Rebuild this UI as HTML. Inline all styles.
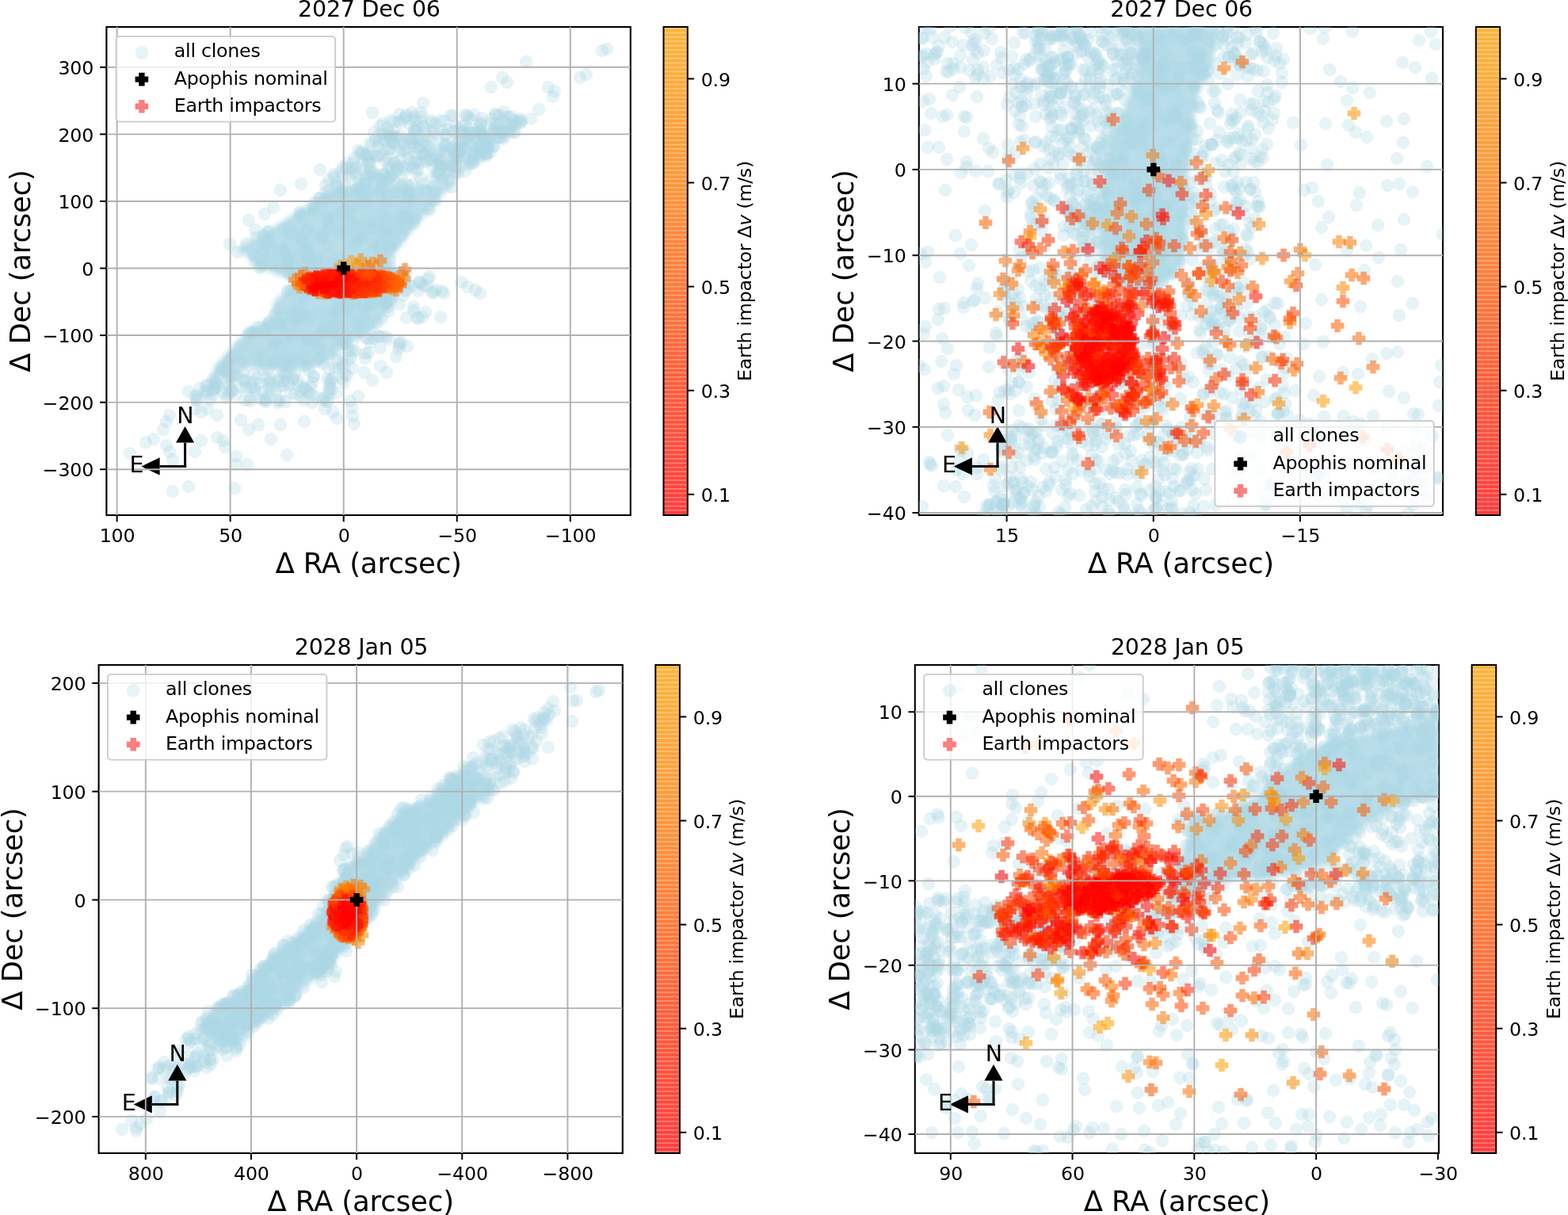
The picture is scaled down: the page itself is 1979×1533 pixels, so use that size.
<!DOCTYPE html><html><head><meta charset="utf-8"><style>html,body{margin:0;padding:0;background:#fff;overflow:hidden}svg{display:block}text{font-family:'DejaVu Sans', 'Liberation Sans', sans-serif;fill:#000}.b circle{r:8.2px;fill:#add8e6;fill-opacity:.3}</style></head><body><svg xmlns="http://www.w3.org/2000/svg" width="1979" height="1533" viewBox="0 0 1979 1533"><rect width="1979" height="1533" fill="#fff"/><defs><filter id="bl3" x="-10%" y="-10%" width="120%" height="120%"><feGaussianBlur stdDeviation="3"/></filter><linearGradient id="cg" x1="0" y1="1" x2="0" y2="0"><stop offset="0.000" stop-color="rgb(255,61,60)"/><stop offset="0.255" stop-color="rgb(253,91,60)"/><stop offset="0.469" stop-color="rgb(253,123,60)"/><stop offset="0.682" stop-color="rgb(252,151,60)"/><stop offset="0.895" stop-color="rgb(251,172,60)"/><stop offset="1.000" stop-color="rgb(251,181,60)"/></linearGradient><pattern id="st" width="10" height="5.43" patternUnits="userSpaceOnUse" y="2.5"><rect y="0" width="10" height="1.4" fill="#fff" fill-opacity="0.38"/></pattern><path id="pl" d="M-3.7-8.3h7.4v4.6h4.6v7.4h-4.6v4.6h-7.4v-4.6h-4.6v-7.4h4.6z"/><clipPath id="cp1"><rect x="134.4" y="34.0" width="661.4" height="616.0"/></clipPath><clipPath id="cp2"><rect x="1159.8" y="34.0" width="661.2" height="616.0"/></clipPath><clipPath id="cp3"><rect x="124.6" y="839.0" width="661.2" height="616.0"/></clipPath><clipPath id="cp4"><rect x="1154.8" y="839.0" width="661.1" height="616.0"/></clipPath></defs><rect x="134.4" y="34.0" width="661.4" height="616.0" fill="none" stroke="#000" stroke-width="2.1"/><g clip-path="url(#cp1)"><path d="M298 314L334 294L364 274L394 254L430 234L470 234L540 234L576 230L560 245L540 268L520 292L500 318L490 334L512 346L500 376L484 400L470 420L434 424L424 452L394 464L354 468L314 464L266 480L270 464L290 440L314 416L342 400L346 380L366 360L370 354L326 338L314 326Z" fill="#add8e6" fill-opacity="0.85" filter="url(#bl3)"/><g class="b"><circle cx="435" cy="264"/><circle cx="468" cy="432"/><circle cx="322" cy="492"/><circle cx="528" cy="204"/><circle cx="469" cy="384"/><circle cx="457" cy="205"/><circle cx="403" cy="397"/><circle cx="184" cy="558"/><circle cx="440" cy="296"/><circle cx="587" cy="216"/><circle cx="462" cy="230"/><circle cx="438" cy="429"/><circle cx="476" cy="198"/><circle cx="534" cy="361"/><circle cx="430" cy="261"/><circle cx="346" cy="458"/><circle cx="515" cy="246"/><circle cx="482" cy="402"/><circle cx="437" cy="359"/><circle cx="611" cy="172"/><circle cx="413" cy="282"/><circle cx="564" cy="195"/><circle cx="459" cy="361"/><circle cx="366" cy="295"/><circle cx="522" cy="387"/><circle cx="589" cy="146"/><circle cx="512" cy="352"/><circle cx="447" cy="382"/><circle cx="487" cy="382"/><circle cx="455" cy="194"/><circle cx="384" cy="505"/><circle cx="350" cy="316"/><circle cx="576" cy="199"/><circle cx="384" cy="532"/><circle cx="214" cy="570"/><circle cx="545" cy="178"/><circle cx="608" cy="149"/><circle cx="515" cy="175"/><circle cx="353" cy="506"/><circle cx="505" cy="201"/><circle cx="508" cy="342"/><circle cx="490" cy="387"/><circle cx="435" cy="431"/><circle cx="412" cy="273"/><circle cx="457" cy="415"/><circle cx="467" cy="291"/><circle cx="514" cy="273"/><circle cx="552" cy="207"/><circle cx="361" cy="329"/><circle cx="363" cy="482"/><circle cx="556" cy="206"/><circle cx="415" cy="465"/><circle cx="395" cy="428"/><circle cx="332" cy="455"/><circle cx="336" cy="504"/><circle cx="327" cy="484"/><circle cx="373" cy="452"/><circle cx="600" cy="366"/><circle cx="489" cy="161"/><circle cx="438" cy="474"/><circle cx="486" cy="383"/><circle cx="599" cy="173"/><circle cx="461" cy="331"/><circle cx="577" cy="187"/><circle cx="368" cy="462"/><circle cx="545" cy="369"/><circle cx="648" cy="167"/><circle cx="498" cy="363"/><circle cx="606" cy="187"/><circle cx="575" cy="209"/><circle cx="642" cy="156"/><circle cx="480" cy="246"/><circle cx="513" cy="274"/><circle cx="606" cy="197"/><circle cx="372" cy="393"/><circle cx="379" cy="301"/><circle cx="551" cy="201"/><circle cx="427" cy="296"/><circle cx="442" cy="313"/><circle cx="376" cy="385"/><circle cx="609" cy="184"/><circle cx="414" cy="249"/><circle cx="561" cy="210"/><circle cx="590" cy="362"/><circle cx="352" cy="437"/><circle cx="509" cy="182"/><circle cx="531" cy="142"/><circle cx="568" cy="216"/><circle cx="598" cy="145"/><circle cx="337" cy="305"/><circle cx="344" cy="456"/><circle cx="597" cy="205"/><circle cx="391" cy="349"/><circle cx="446" cy="335"/><circle cx="490" cy="341"/><circle cx="352" cy="504"/><circle cx="490" cy="393"/><circle cx="617" cy="175"/><circle cx="463" cy="223"/><circle cx="576" cy="194"/><circle cx="415" cy="347"/><circle cx="537" cy="167"/><circle cx="246" cy="500"/><circle cx="338" cy="466"/><circle cx="496" cy="179"/><circle cx="383" cy="365"/><circle cx="450" cy="286"/><circle cx="513" cy="145"/><circle cx="464" cy="362"/><circle cx="384" cy="425"/><circle cx="298" cy="586"/><circle cx="331" cy="329"/><circle cx="454" cy="237"/><circle cx="547" cy="164"/><circle cx="452" cy="356"/><circle cx="441" cy="351"/><circle cx="292" cy="451"/><circle cx="558" cy="367"/><circle cx="584" cy="167"/><circle cx="403" cy="250"/><circle cx="478" cy="371"/><circle cx="649" cy="152"/><circle cx="533" cy="195"/><circle cx="272" cy="484"/><circle cx="561" cy="190"/><circle cx="416" cy="485"/><circle cx="519" cy="180"/><circle cx="534" cy="159"/><circle cx="288" cy="477"/><circle cx="550" cy="253"/><circle cx="540" cy="184"/><circle cx="340" cy="406"/><circle cx="261" cy="486"/><circle cx="445" cy="525"/><circle cx="430" cy="359"/><circle cx="497" cy="154"/><circle cx="388" cy="397"/><circle cx="644" cy="164"/><circle cx="381" cy="396"/><circle cx="301" cy="453"/><circle cx="479" cy="225"/><circle cx="470" cy="223"/><circle cx="380" cy="232"/><circle cx="624" cy="164"/><circle cx="614" cy="188"/><circle cx="629" cy="157"/><circle cx="339" cy="292"/><circle cx="478" cy="424"/><circle cx="254" cy="556"/><circle cx="388" cy="441"/><circle cx="586" cy="185"/><circle cx="485" cy="295"/><circle cx="650" cy="158"/><circle cx="529" cy="356"/><circle cx="370" cy="427"/><circle cx="333" cy="298"/><circle cx="535" cy="195"/><circle cx="460" cy="326"/><circle cx="628" cy="163"/><circle cx="626" cy="145"/><circle cx="347" cy="397"/><circle cx="451" cy="303"/><circle cx="468" cy="213"/><circle cx="573" cy="166"/><circle cx="293" cy="481"/><circle cx="364" cy="472"/><circle cx="445" cy="404"/><circle cx="568" cy="228"/><circle cx="210" cy="532"/><circle cx="288" cy="497"/><circle cx="527" cy="161"/><circle cx="443" cy="263"/><circle cx="522" cy="212"/><circle cx="467" cy="217"/><circle cx="453" cy="259"/><circle cx="305" cy="489"/><circle cx="427" cy="244"/><circle cx="481" cy="195"/><circle cx="515" cy="200"/><circle cx="460" cy="344"/><circle cx="519" cy="150"/><circle cx="406" cy="255"/><circle cx="618" cy="180"/><circle cx="538" cy="204"/><circle cx="335" cy="417"/><circle cx="563" cy="182"/><circle cx="625" cy="168"/><circle cx="559" cy="181"/><circle cx="532" cy="205"/><circle cx="492" cy="327"/><circle cx="448" cy="443"/><circle cx="599" cy="194"/><circle cx="381" cy="343"/><circle cx="556" cy="152"/><circle cx="509" cy="347"/><circle cx="334" cy="421"/><circle cx="504" cy="283"/><circle cx="574" cy="216"/><circle cx="637" cy="165"/><circle cx="606" cy="156"/><circle cx="379" cy="284"/><circle cx="501" cy="216"/><circle cx="268" cy="483"/><circle cx="378" cy="402"/><circle cx="505" cy="354"/><circle cx="293" cy="492"/><circle cx="525" cy="165"/><circle cx="364" cy="287"/><circle cx="487" cy="275"/><circle cx="354" cy="240"/><circle cx="358" cy="314"/><circle cx="516" cy="208"/><circle cx="732" cy="98"/><circle cx="552" cy="224"/><circle cx="437" cy="422"/><circle cx="467" cy="221"/><circle cx="339" cy="409"/><circle cx="477" cy="289"/><circle cx="420" cy="520"/><circle cx="364" cy="330"/><circle cx="289" cy="456"/><circle cx="292" cy="472"/><circle cx="478" cy="305"/><circle cx="322" cy="331"/><circle cx="434" cy="370"/><circle cx="546" cy="209"/><circle cx="499" cy="173"/><circle cx="539" cy="361"/><circle cx="456" cy="300"/><circle cx="314" cy="542"/><circle cx="522" cy="392"/><circle cx="259" cy="493"/><circle cx="408" cy="505"/><circle cx="504" cy="185"/><circle cx="280" cy="463"/><circle cx="692" cy="110"/><circle cx="664" cy="78"/><circle cx="432" cy="221"/><circle cx="367" cy="347"/><circle cx="521" cy="233"/><circle cx="577" cy="191"/><circle cx="460" cy="353"/><circle cx="434" cy="452"/><circle cx="430" cy="217"/><circle cx="268" cy="492"/><circle cx="315" cy="419"/><circle cx="265" cy="504"/><circle cx="310" cy="481"/><circle cx="491" cy="168"/><circle cx="593" cy="195"/><circle cx="440" cy="353"/><circle cx="603" cy="195"/><circle cx="352" cy="390"/><circle cx="403" cy="362"/><circle cx="574" cy="191"/><circle cx="518" cy="159"/><circle cx="454" cy="227"/><circle cx="528" cy="178"/><circle cx="591" cy="148"/><circle cx="429" cy="361"/><circle cx="403" cy="441"/><circle cx="459" cy="402"/><circle cx="464" cy="195"/><circle cx="513" cy="401"/><circle cx="346" cy="436"/><circle cx="389" cy="319"/><circle cx="590" cy="180"/><circle cx="498" cy="243"/><circle cx="360" cy="451"/><circle cx="370" cy="479"/><circle cx="612" cy="194"/><circle cx="513" cy="189"/><circle cx="386" cy="313"/><circle cx="562" cy="184"/><circle cx="543" cy="201"/><circle cx="525" cy="218"/><circle cx="468" cy="197"/><circle cx="478" cy="360"/><circle cx="388" cy="428"/><circle cx="269" cy="498"/><circle cx="636" cy="141"/><circle cx="470" cy="307"/><circle cx="448" cy="241"/><circle cx="426" cy="338"/><circle cx="331" cy="504"/><circle cx="517" cy="249"/><circle cx="291" cy="476"/><circle cx="652" cy="154"/><circle cx="582" cy="210"/><circle cx="467" cy="245"/><circle cx="408" cy="300"/><circle cx="308" cy="481"/><circle cx="272" cy="481"/><circle cx="494" cy="375"/><circle cx="477" cy="185"/><circle cx="340" cy="412"/><circle cx="445" cy="465"/><circle cx="424" cy="427"/><circle cx="504" cy="433"/><circle cx="271" cy="489"/><circle cx="497" cy="205"/><circle cx="638" cy="147"/><circle cx="504" cy="384"/><circle cx="623" cy="184"/><circle cx="560" cy="370"/><circle cx="463" cy="199"/><circle cx="331" cy="443"/><circle cx="494" cy="222"/><circle cx="474" cy="266"/><circle cx="528" cy="367"/><circle cx="397" cy="263"/><circle cx="549" cy="156"/><circle cx="514" cy="437"/><circle cx="613" cy="174"/><circle cx="578" cy="218"/><circle cx="477" cy="424"/><circle cx="562" cy="192"/><circle cx="670" cy="150"/><circle cx="452" cy="500"/><circle cx="551" cy="198"/><circle cx="486" cy="220"/><circle cx="411" cy="243"/><circle cx="571" cy="146"/><circle cx="357" cy="487"/><circle cx="379" cy="500"/><circle cx="322" cy="498"/><circle cx="296" cy="449"/><circle cx="517" cy="246"/><circle cx="598" cy="168"/><circle cx="504" cy="436"/><circle cx="580" cy="165"/><circle cx="447" cy="535"/><circle cx="442" cy="267"/><circle cx="378" cy="268"/><circle cx="406" cy="370"/><circle cx="554" cy="204"/><circle cx="529" cy="356"/><circle cx="606" cy="169"/><circle cx="557" cy="209"/><circle cx="440" cy="223"/><circle cx="399" cy="349"/><circle cx="423" cy="441"/><circle cx="487" cy="425"/><circle cx="565" cy="213"/><circle cx="332" cy="466"/><circle cx="367" cy="423"/><circle cx="511" cy="262"/><circle cx="384" cy="378"/><circle cx="350" cy="508"/><circle cx="312" cy="586"/><circle cx="555" cy="219"/><circle cx="531" cy="182"/><circle cx="591" cy="168"/><circle cx="387" cy="321"/><circle cx="482" cy="425"/><circle cx="397" cy="256"/><circle cx="392" cy="327"/><circle cx="382" cy="350"/><circle cx="565" cy="163"/><circle cx="361" cy="474"/><circle cx="411" cy="234"/><circle cx="355" cy="454"/><circle cx="394" cy="498"/><circle cx="499" cy="306"/><circle cx="492" cy="173"/><circle cx="483" cy="226"/><circle cx="441" cy="345"/><circle cx="447" cy="200"/><circle cx="437" cy="290"/><circle cx="342" cy="305"/><circle cx="582" cy="190"/><circle cx="276" cy="487"/><circle cx="385" cy="462"/><circle cx="584" cy="176"/><circle cx="491" cy="308"/><circle cx="514" cy="282"/><circle cx="489" cy="199"/><circle cx="274" cy="484"/><circle cx="607" cy="165"/><circle cx="509" cy="210"/><circle cx="466" cy="205"/><circle cx="483" cy="156"/><circle cx="532" cy="358"/><circle cx="562" cy="170"/><circle cx="616" cy="187"/><circle cx="383" cy="489"/><circle cx="409" cy="421"/><circle cx="308" cy="456"/><circle cx="246" cy="516"/><circle cx="503" cy="365"/><circle cx="474" cy="197"/><circle cx="461" cy="194"/><circle cx="261" cy="487"/><circle cx="636" cy="172"/><circle cx="286" cy="502"/><circle cx="359" cy="400"/><circle cx="631" cy="174"/><circle cx="491" cy="351"/><circle cx="388" cy="461"/><circle cx="484" cy="230"/><circle cx="465" cy="445"/><circle cx="297" cy="498"/><circle cx="274" cy="524"/><circle cx="560" cy="153"/><circle cx="506" cy="178"/><circle cx="528" cy="187"/><circle cx="444" cy="280"/><circle cx="485" cy="221"/><circle cx="433" cy="211"/><circle cx="484" cy="175"/><circle cx="610" cy="171"/><circle cx="634" cy="150"/><circle cx="556" cy="212"/><circle cx="274" cy="552"/><circle cx="509" cy="218"/><circle cx="577" cy="211"/><circle cx="478" cy="280"/><circle cx="597" cy="184"/><circle cx="483" cy="170"/><circle cx="547" cy="252"/><circle cx="379" cy="271"/><circle cx="326" cy="536"/><circle cx="544" cy="152"/><circle cx="587" cy="145"/><circle cx="493" cy="174"/><circle cx="437" cy="388"/><circle cx="457" cy="303"/><circle cx="551" cy="218"/><circle cx="372" cy="497"/><circle cx="575" cy="199"/><circle cx="249" cy="505"/><circle cx="363" cy="325"/><circle cx="404" cy="214"/><circle cx="637" cy="155"/><circle cx="511" cy="289"/><circle cx="400" cy="456"/><circle cx="630" cy="145"/><circle cx="472" cy="314"/><circle cx="487" cy="188"/><circle cx="515" cy="359"/><circle cx="614" cy="197"/><circle cx="432" cy="459"/><circle cx="591" cy="163"/><circle cx="331" cy="316"/><circle cx="475" cy="228"/><circle cx="441" cy="442"/><circle cx="478" cy="233"/><circle cx="351" cy="478"/><circle cx="518" cy="175"/><circle cx="430" cy="339"/><circle cx="582" cy="159"/><circle cx="494" cy="214"/><circle cx="470" cy="480"/><circle cx="273" cy="489"/><circle cx="415" cy="227"/><circle cx="357" cy="316"/><circle cx="367" cy="396"/><circle cx="698" cy="122"/><circle cx="381" cy="301"/><circle cx="299" cy="473"/><circle cx="557" cy="164"/><circle cx="439" cy="342"/><circle cx="459" cy="256"/><circle cx="396" cy="475"/><circle cx="218" cy="620"/><circle cx="393" cy="338"/><circle cx="495" cy="171"/><circle cx="328" cy="338"/><circle cx="490" cy="229"/><circle cx="534" cy="160"/><circle cx="436" cy="249"/><circle cx="338" cy="499"/><circle cx="432" cy="435"/><circle cx="401" cy="340"/><circle cx="523" cy="165"/><circle cx="506" cy="249"/><circle cx="375" cy="355"/><circle cx="430" cy="245"/><circle cx="523" cy="147"/><circle cx="608" cy="170"/><circle cx="435" cy="372"/><circle cx="480" cy="439"/><circle cx="522" cy="282"/><circle cx="367" cy="496"/><circle cx="469" cy="370"/><circle cx="593" cy="205"/><circle cx="619" cy="192"/><circle cx="488" cy="254"/><circle cx="382" cy="272"/><circle cx="394" cy="508"/><circle cx="500" cy="291"/><circle cx="471" cy="231"/><circle cx="642" cy="162"/><circle cx="344" cy="431"/><circle cx="282" cy="496"/><circle cx="396" cy="263"/><circle cx="411" cy="409"/><circle cx="506" cy="155"/><circle cx="378" cy="374"/><circle cx="363" cy="409"/><circle cx="486" cy="373"/><circle cx="620" cy="150"/><circle cx="364" cy="461"/><circle cx="594" cy="182"/><circle cx="248" cy="499"/><circle cx="310" cy="489"/><circle cx="353" cy="408"/><circle cx="432" cy="478"/><circle cx="460" cy="470"/><circle cx="481" cy="240"/><circle cx="604" cy="201"/><circle cx="238" cy="614"/><circle cx="480" cy="321"/><circle cx="413" cy="478"/><circle cx="493" cy="312"/><circle cx="341" cy="478"/><circle cx="516" cy="177"/><circle cx="505" cy="171"/><circle cx="363" cy="308"/><circle cx="455" cy="289"/><circle cx="416" cy="250"/><circle cx="524" cy="152"/><circle cx="424" cy="496"/><circle cx="590" cy="187"/><circle cx="465" cy="428"/><circle cx="545" cy="172"/><circle cx="490" cy="347"/><circle cx="289" cy="487"/><circle cx="430" cy="270"/><circle cx="602" cy="177"/><circle cx="392" cy="488"/><circle cx="464" cy="361"/><circle cx="534" cy="177"/><circle cx="315" cy="422"/><circle cx="357" cy="481"/><circle cx="537" cy="394"/><circle cx="461" cy="232"/><circle cx="658" cy="152"/><circle cx="332" cy="297"/><circle cx="490" cy="313"/><circle cx="528" cy="402"/><circle cx="464" cy="206"/><circle cx="321" cy="322"/><circle cx="483" cy="178"/><circle cx="298" cy="576"/><circle cx="432" cy="428"/><circle cx="248" cy="504"/><circle cx="472" cy="427"/><circle cx="483" cy="236"/><circle cx="510" cy="214"/><circle cx="542" cy="265"/><circle cx="558" cy="227"/><circle cx="508" cy="271"/><circle cx="460" cy="279"/><circle cx="474" cy="176"/><circle cx="394" cy="483"/><circle cx="378" cy="346"/><circle cx="467" cy="180"/><circle cx="435" cy="233"/><circle cx="524" cy="194"/><circle cx="375" cy="401"/><circle cx="625" cy="144"/><circle cx="448" cy="423"/><circle cx="632" cy="167"/><circle cx="319" cy="482"/><circle cx="449" cy="388"/><circle cx="287" cy="481"/><circle cx="440" cy="424"/><circle cx="523" cy="206"/><circle cx="572" cy="208"/><circle cx="488" cy="470"/><circle cx="502" cy="209"/><circle cx="427" cy="390"/><circle cx="581" cy="180"/><circle cx="547" cy="168"/><circle cx="501" cy="214"/><circle cx="490" cy="347"/><circle cx="387" cy="454"/><circle cx="335" cy="307"/><circle cx="515" cy="193"/><circle cx="606" cy="370"/><circle cx="214" cy="524"/><circle cx="379" cy="321"/><circle cx="409" cy="418"/><circle cx="503" cy="153"/><circle cx="304" cy="436"/><circle cx="587" cy="158"/><circle cx="335" cy="478"/><circle cx="415" cy="288"/><circle cx="483" cy="368"/><circle cx="488" cy="226"/><circle cx="396" cy="475"/><circle cx="615" cy="176"/><circle cx="509" cy="150"/><circle cx="362" cy="574"/><circle cx="408" cy="459"/><circle cx="508" cy="236"/><circle cx="486" cy="279"/><circle cx="443" cy="273"/><circle cx="354" cy="409"/><circle cx="316" cy="489"/><circle cx="582" cy="167"/><circle cx="579" cy="189"/><circle cx="570" cy="236"/><circle cx="646" cy="160"/><circle cx="370" cy="477"/><circle cx="373" cy="470"/><circle cx="615" cy="194"/><circle cx="354" cy="487"/><circle cx="323" cy="300"/><circle cx="400" cy="501"/><circle cx="381" cy="429"/><circle cx="451" cy="420"/><circle cx="456" cy="419"/><circle cx="485" cy="230"/><circle cx="382" cy="333"/><circle cx="311" cy="308"/><circle cx="356" cy="412"/><circle cx="388" cy="290"/><circle cx="410" cy="516"/><circle cx="642" cy="148"/><circle cx="429" cy="379"/><circle cx="434" cy="248"/><circle cx="418" cy="481"/><circle cx="579" cy="192"/><circle cx="358" cy="461"/><circle cx="471" cy="382"/><circle cx="315" cy="503"/><circle cx="447" cy="309"/><circle cx="399" cy="328"/><circle cx="419" cy="364"/><circle cx="313" cy="423"/><circle cx="497" cy="228"/><circle cx="505" cy="354"/><circle cx="452" cy="190"/><circle cx="428" cy="421"/><circle cx="390" cy="405"/><circle cx="620" cy="156"/><circle cx="507" cy="275"/><circle cx="545" cy="202"/><circle cx="321" cy="472"/><circle cx="471" cy="372"/><circle cx="491" cy="207"/><circle cx="270" cy="491"/><circle cx="533" cy="400"/><circle cx="536" cy="193"/><circle cx="403" cy="453"/><circle cx="587" cy="169"/><circle cx="549" cy="194"/><circle cx="269" cy="478"/><circle cx="550" cy="366"/><circle cx="416" cy="285"/><circle cx="461" cy="232"/><circle cx="362" cy="428"/><circle cx="612" cy="188"/><circle cx="407" cy="416"/><circle cx="409" cy="502"/><circle cx="591" cy="172"/><circle cx="364" cy="440"/><circle cx="390" cy="468"/><circle cx="412" cy="507"/><circle cx="592" cy="167"/><circle cx="594" cy="150"/><circle cx="479" cy="311"/><circle cx="399" cy="322"/><circle cx="296" cy="616"/><circle cx="438" cy="391"/><circle cx="396" cy="267"/><circle cx="509" cy="190"/><circle cx="428" cy="465"/><circle cx="491" cy="428"/><circle cx="657" cy="155"/><circle cx="656" cy="150"/><circle cx="635" cy="175"/><circle cx="603" cy="163"/><circle cx="597" cy="206"/><circle cx="362" cy="320"/><circle cx="478" cy="170"/><circle cx="218" cy="580"/><circle cx="388" cy="314"/><circle cx="634" cy="167"/><circle cx="434" cy="430"/><circle cx="482" cy="360"/><circle cx="493" cy="223"/><circle cx="396" cy="266"/><circle cx="416" cy="490"/><circle cx="580" cy="177"/><circle cx="571" cy="202"/><circle cx="425" cy="392"/><circle cx="295" cy="474"/><circle cx="560" cy="224"/><circle cx="531" cy="153"/><circle cx="246" cy="570"/><circle cx="285" cy="468"/><circle cx="590" cy="174"/><circle cx="352" cy="481"/><circle cx="444" cy="213"/><circle cx="760" cy="64"/><circle cx="527" cy="214"/><circle cx="372" cy="347"/><circle cx="564" cy="208"/><circle cx="389" cy="496"/><circle cx="461" cy="342"/><circle cx="547" cy="369"/><circle cx="506" cy="432"/><circle cx="488" cy="170"/><circle cx="482" cy="354"/><circle cx="468" cy="281"/><circle cx="642" cy="167"/><circle cx="423" cy="377"/><circle cx="597" cy="194"/><circle cx="501" cy="175"/><circle cx="418" cy="371"/><circle cx="335" cy="505"/><circle cx="556" cy="201"/><circle cx="462" cy="252"/><circle cx="493" cy="379"/><circle cx="340" cy="489"/><circle cx="448" cy="347"/><circle cx="425" cy="528"/><circle cx="575" cy="159"/><circle cx="346" cy="330"/><circle cx="646" cy="147"/><circle cx="372" cy="404"/><circle cx="680" cy="138"/><circle cx="444" cy="514"/><circle cx="325" cy="477"/><circle cx="293" cy="494"/><circle cx="572" cy="178"/><circle cx="504" cy="144"/><circle cx="314" cy="278"/><circle cx="329" cy="336"/><circle cx="435" cy="472"/><circle cx="531" cy="225"/><circle cx="320" cy="489"/><circle cx="626" cy="174"/><circle cx="700" cy="115"/><circle cx="566" cy="226"/><circle cx="616" cy="185"/><circle cx="309" cy="479"/><circle cx="431" cy="241"/><circle cx="601" cy="167"/><circle cx="442" cy="506"/><circle cx="540" cy="352"/><circle cx="322" cy="290"/><circle cx="483" cy="219"/><circle cx="316" cy="506"/><circle cx="574" cy="191"/><circle cx="260" cy="494"/><circle cx="464" cy="386"/><circle cx="315" cy="438"/><circle cx="613" cy="169"/><circle cx="403" cy="440"/><circle cx="509" cy="373"/><circle cx="556" cy="400"/><circle cx="442" cy="366"/><circle cx="634" cy="167"/><circle cx="451" cy="238"/><circle cx="290" cy="308"/><circle cx="512" cy="367"/><circle cx="523" cy="165"/><circle cx="577" cy="180"/><circle cx="472" cy="219"/><circle cx="333" cy="317"/><circle cx="415" cy="493"/><circle cx="520" cy="142"/><circle cx="514" cy="365"/><circle cx="607" cy="183"/><circle cx="533" cy="147"/><circle cx="380" cy="494"/><circle cx="282" cy="556"/><circle cx="419" cy="491"/><circle cx="470" cy="142"/><circle cx="300" cy="318"/><circle cx="389" cy="327"/><circle cx="534" cy="130"/><circle cx="574" cy="220"/><circle cx="499" cy="359"/><circle cx="378" cy="453"/><circle cx="523" cy="186"/><circle cx="437" cy="357"/><circle cx="520" cy="361"/><circle cx="650" cy="167"/><circle cx="416" cy="240"/><circle cx="470" cy="289"/><circle cx="342" cy="554"/><circle cx="366" cy="326"/><circle cx="489" cy="225"/><circle cx="363" cy="367"/><circle cx="304" cy="530"/><circle cx="461" cy="394"/><circle cx="461" cy="446"/><circle cx="391" cy="401"/><circle cx="512" cy="232"/><circle cx="500" cy="450"/><circle cx="506" cy="354"/><circle cx="434" cy="483"/><circle cx="357" cy="470"/><circle cx="501" cy="213"/><circle cx="548" cy="240"/><circle cx="433" cy="333"/><circle cx="602" cy="176"/><circle cx="450" cy="220"/><circle cx="445" cy="442"/><circle cx="534" cy="179"/><circle cx="465" cy="409"/><circle cx="376" cy="485"/><circle cx="367" cy="293"/><circle cx="558" cy="225"/><circle cx="388" cy="290"/><circle cx="363" cy="336"/><circle cx="569" cy="146"/><circle cx="377" cy="395"/><circle cx="340" cy="483"/><circle cx="438" cy="213"/><circle cx="415" cy="498"/><circle cx="452" cy="231"/><circle cx="341" cy="481"/><circle cx="348" cy="493"/><circle cx="447" cy="205"/><circle cx="500" cy="353"/><circle cx="412" cy="333"/><circle cx="372" cy="336"/><circle cx="740" cy="94"/><circle cx="398" cy="295"/><circle cx="414" cy="309"/><circle cx="546" cy="224"/><circle cx="413" cy="275"/><circle cx="387" cy="493"/><circle cx="602" cy="189"/><circle cx="284" cy="564"/><circle cx="554" cy="219"/><circle cx="307" cy="470"/><circle cx="194" cy="554"/><circle cx="425" cy="235"/><circle cx="360" cy="507"/><circle cx="421" cy="396"/><circle cx="538" cy="194"/><circle cx="597" cy="202"/><circle cx="420" cy="477"/><circle cx="393" cy="334"/><circle cx="354" cy="536"/><circle cx="607" cy="155"/><circle cx="415" cy="413"/><circle cx="252" cy="490"/><circle cx="542" cy="191"/><circle cx="512" cy="148"/><circle cx="428" cy="408"/><circle cx="624" cy="161"/><circle cx="424" cy="230"/><circle cx="497" cy="181"/><circle cx="421" cy="275"/><circle cx="210" cy="562"/><circle cx="499" cy="366"/><circle cx="490" cy="248"/><circle cx="476" cy="407"/><circle cx="507" cy="233"/><circle cx="319" cy="419"/><circle cx="496" cy="348"/><circle cx="452" cy="301"/><circle cx="572" cy="165"/><circle cx="164" cy="572"/><circle cx="262" cy="516"/><circle cx="337" cy="293"/><circle cx="423" cy="420"/><circle cx="438" cy="211"/><circle cx="424" cy="235"/><circle cx="343" cy="320"/><circle cx="321" cy="420"/><circle cx="422" cy="329"/><circle cx="469" cy="183"/><circle cx="547" cy="235"/><circle cx="436" cy="386"/><circle cx="397" cy="431"/><circle cx="640" cy="104"/><circle cx="560" cy="170"/><circle cx="491" cy="212"/><circle cx="488" cy="297"/><circle cx="486" cy="372"/><circle cx="431" cy="327"/><circle cx="359" cy="471"/><circle cx="541" cy="263"/><circle cx="582" cy="356"/><circle cx="571" cy="187"/><circle cx="492" cy="337"/><circle cx="592" cy="208"/><circle cx="486" cy="289"/><circle cx="429" cy="290"/><circle cx="542" cy="349"/><circle cx="297" cy="474"/><circle cx="437" cy="434"/><circle cx="606" cy="184"/><circle cx="254" cy="520"/><circle cx="418" cy="420"/><circle cx="460" cy="385"/><circle cx="467" cy="204"/><circle cx="569" cy="210"/><circle cx="579" cy="198"/><circle cx="500" cy="277"/><circle cx="449" cy="426"/><circle cx="496" cy="165"/><circle cx="497" cy="361"/><circle cx="462" cy="426"/><circle cx="530" cy="172"/><circle cx="456" cy="191"/><circle cx="491" cy="189"/><circle cx="480" cy="376"/><circle cx="592" cy="201"/><circle cx="455" cy="245"/><circle cx="434" cy="361"/><circle cx="325" cy="450"/><circle cx="331" cy="494"/><circle cx="367" cy="367"/><circle cx="449" cy="211"/><circle cx="334" cy="270"/><circle cx="206" cy="542"/><circle cx="545" cy="187"/><circle cx="332" cy="333"/><circle cx="492" cy="188"/><circle cx="450" cy="247"/><circle cx="493" cy="174"/><circle cx="478" cy="179"/><circle cx="487" cy="264"/><circle cx="324" cy="454"/><circle cx="261" cy="497"/><circle cx="607" cy="158"/><circle cx="342" cy="493"/><circle cx="494" cy="290"/><circle cx="582" cy="191"/><circle cx="472" cy="167"/><circle cx="335" cy="507"/><circle cx="622" cy="168"/><circle cx="522" cy="253"/><circle cx="515" cy="234"/><circle cx="521" cy="180"/><circle cx="480" cy="159"/><circle cx="537" cy="240"/><circle cx="422" cy="224"/><circle cx="504" cy="359"/><circle cx="545" cy="155"/><circle cx="606" cy="193"/><circle cx="611" cy="173"/><circle cx="365" cy="457"/><circle cx="457" cy="214"/><circle cx="423" cy="464"/><circle cx="379" cy="314"/><circle cx="589" cy="200"/><circle cx="281" cy="467"/><circle cx="554" cy="214"/><circle cx="476" cy="226"/><circle cx="597" cy="199"/><circle cx="345" cy="262"/><circle cx="489" cy="368"/><circle cx="500" cy="231"/><circle cx="470" cy="217"/><circle cx="446" cy="216"/><circle cx="486" cy="203"/><circle cx="526" cy="401"/><circle cx="657" cy="154"/><circle cx="586" cy="165"/><circle cx="443" cy="219"/><circle cx="520" cy="210"/><circle cx="383" cy="372"/><circle cx="426" cy="455"/><circle cx="404" cy="250"/><circle cx="537" cy="200"/><circle cx="350" cy="336"/><circle cx="290" cy="494"/><circle cx="614" cy="182"/><circle cx="555" cy="191"/><circle cx="388" cy="305"/><circle cx="439" cy="438"/><circle cx="385" cy="490"/><circle cx="419" cy="393"/><circle cx="438" cy="206"/><circle cx="524" cy="276"/><circle cx="534" cy="232"/><circle cx="435" cy="434"/><circle cx="422" cy="401"/><circle cx="630" cy="173"/><circle cx="494" cy="221"/><circle cx="569" cy="209"/><circle cx="347" cy="452"/><circle cx="620" cy="110"/><circle cx="439" cy="455"/><circle cx="457" cy="193"/><circle cx="377" cy="481"/><circle cx="600" cy="168"/><circle cx="520" cy="174"/><circle cx="560" cy="186"/><circle cx="356" cy="289"/><circle cx="462" cy="197"/><circle cx="362" cy="342"/><circle cx="766" cy="62"/><circle cx="426" cy="411"/><circle cx="377" cy="411"/><circle cx="572" cy="199"/><circle cx="461" cy="220"/><circle cx="278" cy="471"/><circle cx="443" cy="451"/><circle cx="348" cy="430"/><circle cx="488" cy="383"/><circle cx="503" cy="440"/><circle cx="390" cy="430"/><circle cx="238" cy="494"/><circle cx="613" cy="194"/><circle cx="432" cy="356"/><circle cx="377" cy="298"/><circle cx="461" cy="452"/><circle cx="634" cy="98"/><circle cx="524" cy="203"/><circle cx="478" cy="196"/><circle cx="498" cy="206"/><circle cx="451" cy="409"/><circle cx="434" cy="464"/><circle cx="507" cy="297"/><circle cx="288" cy="457"/><circle cx="579" cy="201"/><circle cx="503" cy="191"/><circle cx="626" cy="157"/><circle cx="309" cy="505"/><circle cx="493" cy="179"/><circle cx="465" cy="239"/><circle cx="365" cy="486"/><circle cx="582" cy="186"/><circle cx="458" cy="231"/><circle cx="480" cy="462"/><circle cx="493" cy="152"/><circle cx="606" cy="191"/><circle cx="603" cy="186"/><circle cx="414" cy="506"/><circle cx="406" cy="299"/><circle cx="417" cy="479"/><circle cx="407" cy="296"/><circle cx="578" cy="196"/><circle cx="587" cy="175"/><circle cx="411" cy="251"/><circle cx="529" cy="186"/><circle cx="403" cy="423"/><circle cx="325" cy="413"/><circle cx="606" cy="165"/><circle cx="421" cy="220"/><circle cx="623" cy="185"/></g><g fill-opacity="0.55"><use href="#pl" x="464" y="363" fill="#ff2f00"/><use href="#pl" x="432" y="353" fill="#ff0d00"/><use href="#pl" x="412" y="354" fill="#ff0500"/><use href="#pl" x="397" y="357" fill="#ff0800"/><use href="#pl" x="438" y="368" fill="#ff2a00"/><use href="#pl" x="435" y="360" fill="#ff0000"/><use href="#pl" x="484" y="350" fill="#ff6100"/><use href="#pl" x="465" y="361" fill="#ff2b00"/><use href="#pl" x="402" y="369" fill="#ff7c00"/><use href="#pl" x="392" y="362" fill="#ff3100"/><use href="#pl" x="405" y="365" fill="#ff0400"/><use href="#pl" x="421" y="364" fill="#ff0100"/><use href="#pl" x="397" y="366" fill="#ff0100"/><use href="#pl" x="417" y="356" fill="#ff0400"/><use href="#pl" x="453" y="348" fill="#ff1d00"/><use href="#pl" x="444" y="358" fill="#ff1200"/><use href="#pl" x="475" y="353" fill="#ff3000"/><use href="#pl" x="492" y="356" fill="#ff4400"/><use href="#pl" x="391" y="354" fill="#ff1400"/><use href="#pl" x="492" y="352" fill="#ff5100"/><use href="#pl" x="469" y="360" fill="#ff2600"/><use href="#pl" x="498" y="361" fill="#ff7d00"/><use href="#pl" x="486" y="350" fill="#ff4000"/><use href="#pl" x="461" y="349" fill="#ff1d00"/><use href="#pl" x="403" y="354" fill="#ff0000"/><use href="#pl" x="417" y="353" fill="#ff0000"/><use href="#pl" x="490" y="351" fill="#ff5f00"/><use href="#pl" x="457" y="346" fill="#ff4300"/><use href="#pl" x="455" y="328" fill="#ff8600"/><use href="#pl" x="455" y="353" fill="#ff1200"/><use href="#pl" x="448" y="352" fill="#ff0900"/><use href="#pl" x="475" y="349" fill="#ff4300"/><use href="#pl" x="456" y="364" fill="#ff2700"/><use href="#pl" x="415" y="357" fill="#ff0300"/><use href="#pl" x="488" y="362" fill="#ff4e00"/><use href="#pl" x="491" y="357" fill="#ff3900"/><use href="#pl" x="430" y="348" fill="#ff0000"/><use href="#pl" x="477" y="366" fill="#ff5a00"/><use href="#pl" x="471" y="349" fill="#ff2d00"/><use href="#pl" x="442" y="353" fill="#ff1500"/><use href="#pl" x="460" y="354" fill="#ff2e00"/><use href="#pl" x="384" y="359" fill="#ff1800"/><use href="#pl" x="426" y="361" fill="#ff0700"/><use href="#pl" x="421" y="353" fill="#ff0000"/><use href="#pl" x="404" y="360" fill="#ff0100"/><use href="#pl" x="475" y="350" fill="#ff3600"/><use href="#pl" x="472" y="351" fill="#ff2c00"/><use href="#pl" x="501" y="358" fill="#ff6d00"/><use href="#pl" x="389" y="354" fill="#ff2800"/><use href="#pl" x="413" y="349" fill="#ff1300"/><use href="#pl" x="398" y="364" fill="#ff0800"/><use href="#pl" x="402" y="357" fill="#ff0000"/><use href="#pl" x="451" y="363" fill="#ff0b00"/><use href="#pl" x="452" y="368" fill="#ff3d00"/><use href="#pl" x="458" y="366" fill="#ff1100"/><use href="#pl" x="480" y="362" fill="#ff3700"/><use href="#pl" x="446" y="349" fill="#ff1000"/><use href="#pl" x="470" y="362" fill="#ff2800"/><use href="#pl" x="437" y="354" fill="#ff1900"/><use href="#pl" x="481" y="357" fill="#ff4700"/><use href="#pl" x="430" y="365" fill="#ff0000"/><use href="#pl" x="422" y="348" fill="#ff0000"/><use href="#pl" x="438" y="354" fill="#ff1500"/><use href="#pl" x="454" y="351" fill="#ff1c00"/><use href="#pl" x="478" y="359" fill="#ff3a00"/><use href="#pl" x="472" y="360" fill="#ff1c00"/><use href="#pl" x="430" y="368" fill="#ff2800"/><use href="#pl" x="452" y="368" fill="#ff3f00"/><use href="#pl" x="395" y="360" fill="#ff0000"/><use href="#pl" x="474" y="362" fill="#ff2400"/><use href="#pl" x="470" y="332" fill="#ff8500"/><use href="#pl" x="486" y="350" fill="#ff4300"/><use href="#pl" x="460" y="359" fill="#ff0b00"/><use href="#pl" x="495" y="352" fill="#ff5900"/><use href="#pl" x="403" y="356" fill="#ff0300"/><use href="#pl" x="397" y="353" fill="#ff0000"/><use href="#pl" x="501" y="354" fill="#ff7400"/><use href="#pl" x="434" y="364" fill="#ff0000"/><use href="#pl" x="393" y="363" fill="#ff1700"/><use href="#pl" x="468" y="356" fill="#ff2700"/><use href="#pl" x="479" y="353" fill="#ff3e00"/><use href="#pl" x="433" y="360" fill="#ff2700"/><use href="#pl" x="500" y="366" fill="#ff7b00"/><use href="#pl" x="430" y="367" fill="#ff0800"/><use href="#pl" x="391" y="352" fill="#ff1600"/><use href="#pl" x="471" y="365" fill="#ff3300"/><use href="#pl" x="382" y="358" fill="#ff2d00"/><use href="#pl" x="415" y="347" fill="#ff2c00"/><use href="#pl" x="432" y="368" fill="#ff1e00"/><use href="#pl" x="493" y="356" fill="#ff5500"/><use href="#pl" x="406" y="356" fill="#ff0000"/><use href="#pl" x="426" y="364" fill="#ff0000"/><use href="#pl" x="470" y="367" fill="#ff3d00"/><use href="#pl" x="477" y="365" fill="#ff4500"/><use href="#pl" x="429" y="346" fill="#ff1f00"/><use href="#pl" x="436" y="363" fill="#ff0c00"/><use href="#pl" x="438" y="352" fill="#ff0600"/><use href="#pl" x="485" y="357" fill="#ff2c00"/><use href="#pl" x="460" y="364" fill="#ff1900"/><use href="#pl" x="386" y="355" fill="#ff2200"/><use href="#pl" x="465" y="365" fill="#ff2200"/><use href="#pl" x="399" y="360" fill="#ff0000"/><use href="#pl" x="472" y="367" fill="#ff5f00"/><use href="#pl" x="423" y="360" fill="#ff0000"/><use href="#pl" x="417" y="359" fill="#ff0000"/><use href="#pl" x="392" y="356" fill="#ff0000"/><use href="#pl" x="493" y="360" fill="#ff5a00"/><use href="#pl" x="445" y="370" fill="#ff7300"/><use href="#pl" x="441" y="363" fill="#ff0400"/><use href="#pl" x="459" y="362" fill="#ff2300"/><use href="#pl" x="384" y="356" fill="#ff1700"/><use href="#pl" x="415" y="355" fill="#ff0a00"/><use href="#pl" x="410" y="351" fill="#ff0e00"/><use href="#pl" x="435" y="361" fill="#ff0e00"/><use href="#pl" x="417" y="356" fill="#ff0000"/><use href="#pl" x="452" y="369" fill="#ff6f00"/><use href="#pl" x="426" y="368" fill="#ff2700"/><use href="#pl" x="466" y="362" fill="#ff2b00"/><use href="#pl" x="372" y="353" fill="#ff7500"/><use href="#pl" x="407" y="361" fill="#ff0b00"/><use href="#pl" x="495" y="352" fill="#ff6600"/><use href="#pl" x="501" y="356" fill="#ff4d00"/><use href="#pl" x="417" y="349" fill="#ff0000"/><use href="#pl" x="447" y="354" fill="#ff0700"/><use href="#pl" x="434" y="359" fill="#ff1100"/><use href="#pl" x="457" y="364" fill="#ff3600"/><use href="#pl" x="410" y="359" fill="#ff0000"/><use href="#pl" x="420" y="364" fill="#ff0100"/><use href="#pl" x="433" y="361" fill="#ff0000"/><use href="#pl" x="390" y="355" fill="#ff1600"/><use href="#pl" x="416" y="364" fill="#ff0000"/><use href="#pl" x="457" y="364" fill="#ff2000"/><use href="#pl" x="408" y="352" fill="#ff0b00"/><use href="#pl" x="452" y="363" fill="#ff1300"/><use href="#pl" x="480" y="329" fill="#ff7100"/><use href="#pl" x="462" y="363" fill="#ff2700"/><use href="#pl" x="440" y="366" fill="#ff1c00"/><use href="#pl" x="425" y="362" fill="#ff0000"/><use href="#pl" x="497" y="361" fill="#ff6e00"/><use href="#pl" x="461" y="367" fill="#ff3b00"/><use href="#pl" x="422" y="362" fill="#ff0c00"/><use href="#pl" x="460" y="367" fill="#ff2200"/><use href="#pl" x="381" y="358" fill="#ff1400"/><use href="#pl" x="394" y="352" fill="#ff0700"/><use href="#pl" x="422" y="361" fill="#ff0000"/><use href="#pl" x="494" y="359" fill="#ff6100"/><use href="#pl" x="443" y="330" fill="#ff9a00"/><use href="#pl" x="456" y="359" fill="#ff2c00"/><use href="#pl" x="404" y="363" fill="#ff0800"/><use href="#pl" x="424" y="365" fill="#ff0500"/><use href="#pl" x="404" y="359" fill="#ff0000"/><use href="#pl" x="416" y="367" fill="#ff0900"/><use href="#pl" x="380" y="348" fill="#ff6900"/><use href="#pl" x="454" y="351" fill="#ff1600"/><use href="#pl" x="407" y="356" fill="#ff0000"/><use href="#pl" x="413" y="361" fill="#ff0a00"/><use href="#pl" x="482" y="353" fill="#ff2f00"/><use href="#pl" x="446" y="354" fill="#ff2800"/><use href="#pl" x="406" y="357" fill="#ff0000"/><use href="#pl" x="451" y="367" fill="#ff2300"/><use href="#pl" x="419" y="355" fill="#ff0000"/><use href="#pl" x="457" y="354" fill="#ff2200"/><use href="#pl" x="469" y="352" fill="#ff2700"/><use href="#pl" x="416" y="348" fill="#ff0d00"/><use href="#pl" x="502" y="358" fill="#ff7300"/><use href="#pl" x="481" y="355" fill="#ff3700"/><use href="#pl" x="441" y="358" fill="#ff0e00"/><use href="#pl" x="461" y="367" fill="#ff4b00"/><use href="#pl" x="481" y="355" fill="#ff4200"/><use href="#pl" x="425" y="359" fill="#ff0a00"/><use href="#pl" x="382" y="358" fill="#ff2b00"/><use href="#pl" x="511" y="340" fill="#ff6700"/><use href="#pl" x="456" y="351" fill="#ff1200"/><use href="#pl" x="420" y="350" fill="#ff0000"/><use href="#pl" x="502" y="358" fill="#ff8000"/><use href="#pl" x="409" y="367" fill="#ff2200"/><use href="#pl" x="463" y="348" fill="#ff2100"/><use href="#pl" x="428" y="360" fill="#ff0000"/><use href="#pl" x="415" y="360" fill="#ff0700"/><use href="#pl" x="476" y="362" fill="#ff2900"/><use href="#pl" x="420" y="364" fill="#ff0400"/><use href="#pl" x="388" y="361" fill="#ff2d00"/><use href="#pl" x="399" y="360" fill="#ff0000"/><use href="#pl" x="415" y="367" fill="#ff1b00"/><use href="#pl" x="419" y="349" fill="#ff0000"/><use href="#pl" x="455" y="356" fill="#ff0d00"/><use href="#pl" x="457" y="355" fill="#ff0f00"/><use href="#pl" x="428" y="348" fill="#ff0e00"/><use href="#pl" x="454" y="359" fill="#ff2800"/><use href="#pl" x="425" y="365" fill="#ff0000"/><use href="#pl" x="491" y="361" fill="#ff5600"/><use href="#pl" x="403" y="362" fill="#ff0700"/><use href="#pl" x="466" y="355" fill="#ff2200"/><use href="#pl" x="428" y="354" fill="#ff0800"/><use href="#pl" x="508" y="345" fill="#ff7100"/><use href="#pl" x="436" y="367" fill="#ff0400"/><use href="#pl" x="448" y="365" fill="#ff1000"/><use href="#pl" x="399" y="360" fill="#ff0000"/><use href="#pl" x="393" y="359" fill="#ff0000"/><use href="#pl" x="414" y="369" fill="#ff0300"/><use href="#pl" x="414" y="367" fill="#ff0300"/><use href="#pl" x="457" y="348" fill="#ff1f00"/><use href="#pl" x="460" y="355" fill="#ff1c00"/><use href="#pl" x="474" y="357" fill="#ff3900"/><use href="#pl" x="479" y="348" fill="#ff5600"/><use href="#pl" x="438" y="347" fill="#ff2500"/><use href="#pl" x="419" y="354" fill="#ff0000"/><use href="#pl" x="473" y="361" fill="#ff2900"/><use href="#pl" x="401" y="360" fill="#ff0000"/><use href="#pl" x="466" y="362" fill="#ff3200"/><use href="#pl" x="425" y="365" fill="#ff0000"/><use href="#pl" x="408" y="364" fill="#ff0300"/><use href="#pl" x="433" y="359" fill="#ff0000"/><use href="#pl" x="438" y="351" fill="#ff0a00"/><use href="#pl" x="461" y="368" fill="#ff4e00"/><use href="#pl" x="433" y="354" fill="#ff0d00"/><use href="#pl" x="483" y="361" fill="#ff3a00"/><use href="#pl" x="413" y="361" fill="#ff0400"/><use href="#pl" x="391" y="361" fill="#ff1200"/><use href="#pl" x="398" y="351" fill="#ff2000"/><use href="#pl" x="393" y="354" fill="#ff0000"/><use href="#pl" x="415" y="363" fill="#ff0700"/><use href="#pl" x="414" y="350" fill="#ff0000"/><use href="#pl" x="465" y="356" fill="#ff2a00"/><use href="#pl" x="419" y="349" fill="#ff0000"/><use href="#pl" x="439" y="358" fill="#ff0a00"/><use href="#pl" x="475" y="358" fill="#ff2e00"/><use href="#pl" x="408" y="364" fill="#ff0000"/><use href="#pl" x="472" y="348" fill="#ff5000"/><use href="#pl" x="397" y="365" fill="#ff0000"/><use href="#pl" x="376" y="358" fill="#ff7500"/><use href="#pl" x="449" y="360" fill="#ff0500"/><use href="#pl" x="482" y="357" fill="#ff4100"/><use href="#pl" x="454" y="348" fill="#ff2a00"/><use href="#pl" x="435" y="356" fill="#ff0500"/><use href="#pl" x="412" y="363" fill="#ff0000"/><use href="#pl" x="491" y="351" fill="#ff5a00"/><use href="#pl" x="469" y="354" fill="#ff3100"/><use href="#pl" x="420" y="351" fill="#ff0400"/><use href="#pl" x="444" y="348" fill="#ff1700"/><use href="#pl" x="420" y="363" fill="#ff0700"/><use href="#pl" x="457" y="363" fill="#ff3c00"/><use href="#pl" x="463" y="368" fill="#ff4000"/><use href="#pl" x="477" y="359" fill="#ff1c00"/><use href="#pl" x="473" y="351" fill="#ff2000"/><use href="#pl" x="403" y="354" fill="#ff0000"/><use href="#pl" x="484" y="356" fill="#ff3d00"/><use href="#pl" x="490" y="357" fill="#ff2e00"/><use href="#pl" x="470" y="355" fill="#ff2e00"/><use href="#pl" x="414" y="353" fill="#ff0000"/><use href="#pl" x="474" y="351" fill="#ff2e00"/><use href="#pl" x="448" y="369" fill="#ff3800"/><use href="#pl" x="410" y="356" fill="#ff0000"/><use href="#pl" x="454" y="365" fill="#ff1400"/><use href="#pl" x="422" y="367" fill="#ff3500"/><use href="#pl" x="412" y="355" fill="#ff0000"/><use href="#pl" x="391" y="353" fill="#ff1f00"/><use href="#pl" x="406" y="361" fill="#ff0000"/><use href="#pl" x="401" y="365" fill="#ff1500"/><use href="#pl" x="496" y="354" fill="#ff5300"/><use href="#pl" x="413" y="363" fill="#ff1b00"/><use href="#pl" x="437" y="355" fill="#ff0500"/><use href="#pl" x="496" y="356" fill="#ff5800"/><use href="#pl" x="469" y="347" fill="#ff3a00"/><use href="#pl" x="427" y="352" fill="#ff0b00"/><use href="#pl" x="471" y="367" fill="#ff3b00"/><use href="#pl" x="423" y="365" fill="#ff0000"/><use href="#pl" x="478" y="361" fill="#ff2c00"/><use href="#pl" x="388" y="359" fill="#ff1b00"/><use href="#pl" x="489" y="356" fill="#ff4800"/><use href="#pl" x="465" y="358" fill="#ff2500"/><use href="#pl" x="426" y="356" fill="#ff0700"/><use href="#pl" x="483" y="360" fill="#ff2a00"/><use href="#pl" x="414" y="362" fill="#ff0000"/><use href="#pl" x="410" y="361" fill="#ff0700"/><use href="#pl" x="462" y="355" fill="#ff1600"/><use href="#pl" x="439" y="353" fill="#ff1000"/><use href="#pl" x="427" y="360" fill="#ff0000"/><use href="#pl" x="495" y="364" fill="#ff8800"/><use href="#pl" x="439" y="352" fill="#ff0600"/><use href="#pl" x="461" y="359" fill="#ff1b00"/><use href="#pl" x="399" y="365" fill="#ff2500"/><use href="#pl" x="460" y="368" fill="#ff3e00"/><use href="#pl" x="470" y="368" fill="#ff9000"/><use href="#pl" x="434" y="356" fill="#ff0e00"/><use href="#pl" x="478" y="367" fill="#ff7900"/><use href="#pl" x="387" y="362" fill="#ff2f00"/><use href="#pl" x="419" y="357" fill="#ff0000"/><use href="#pl" x="453" y="359" fill="#ff0a00"/><use href="#pl" x="399" y="357" fill="#ff0000"/><use href="#pl" x="468" y="348" fill="#ff2900"/><use href="#pl" x="456" y="353" fill="#ff1900"/><use href="#pl" x="396" y="354" fill="#ff0000"/><use href="#pl" x="393" y="358" fill="#ff0000"/><use href="#pl" x="388" y="357" fill="#ff0b00"/><use href="#pl" x="485" y="359" fill="#ff2800"/><use href="#pl" x="463" y="355" fill="#ff4300"/><use href="#pl" x="426" y="346" fill="#ff2900"/><use href="#pl" x="430" y="336" fill="#ff8700"/><use href="#pl" x="477" y="365" fill="#ff3e00"/><use href="#pl" x="443" y="367" fill="#ff0a00"/><use href="#pl" x="409" y="353" fill="#ff0000"/><use href="#pl" x="403" y="350" fill="#ff0900"/><use href="#pl" x="427" y="355" fill="#ff0000"/><use href="#pl" x="389" y="360" fill="#ff1900"/><use href="#pl" x="468" y="367" fill="#ff5900"/><use href="#pl" x="387" y="357" fill="#ff2100"/><use href="#pl" x="474" y="359" fill="#ff3500"/><use href="#pl" x="443" y="346" fill="#ff2b00"/><use href="#pl" x="490" y="350" fill="#ff6c00"/><use href="#pl" x="447" y="361" fill="#ff0800"/><use href="#pl" x="442" y="362" fill="#ff0b00"/><use href="#pl" x="409" y="365" fill="#ff2000"/><use href="#pl" x="475" y="354" fill="#ff2a00"/><use href="#pl" x="404" y="357" fill="#ff0000"/><use href="#pl" x="406" y="350" fill="#ff0100"/><use href="#pl" x="439" y="362" fill="#ff0b00"/><use href="#pl" x="403" y="355" fill="#ff0f00"/><use href="#pl" x="391" y="364" fill="#ff3200"/><use href="#pl" x="416" y="368" fill="#ff3a00"/><use href="#pl" x="432" y="357" fill="#ff0c00"/><use href="#pl" x="393" y="363" fill="#ff2200"/><use href="#pl" x="425" y="349" fill="#ff0000"/><use href="#pl" x="419" y="365" fill="#ff1000"/><use href="#pl" x="410" y="370" fill="#ff8800"/><use href="#pl" x="431" y="349" fill="#ff0500"/><use href="#pl" x="435" y="365" fill="#ff0500"/><use href="#pl" x="430" y="358" fill="#ff0000"/><use href="#pl" x="416" y="356" fill="#ff0000"/><use href="#pl" x="385" y="345" fill="#ff6c00"/><use href="#pl" x="448" y="353" fill="#ff2600"/><use href="#pl" x="420" y="363" fill="#ff0000"/><use href="#pl" x="465" y="366" fill="#ff2d00"/><use href="#pl" x="486" y="357" fill="#ff2600"/><use href="#pl" x="492" y="358" fill="#ff5200"/><use href="#pl" x="465" y="336" fill="#ff6d00"/><use href="#pl" x="468" y="361" fill="#ff2b00"/><use href="#pl" x="442" y="353" fill="#ff0d00"/><use href="#pl" x="458" y="360" fill="#ff2500"/><use href="#pl" x="395" y="361" fill="#ff0d00"/><use href="#pl" x="483" y="357" fill="#ff2e00"/><use href="#pl" x="409" y="361" fill="#ff0c00"/><use href="#pl" x="499" y="360" fill="#ff4e00"/><use href="#pl" x="446" y="353" fill="#ff0900"/><use href="#pl" x="438" y="352" fill="#ff1800"/><use href="#pl" x="452" y="365" fill="#ff1000"/><use href="#pl" x="400" y="358" fill="#ff0500"/><use href="#pl" x="490" y="358" fill="#ff3d00"/><use href="#pl" x="456" y="350" fill="#ff2a00"/><use href="#pl" x="480" y="355" fill="#ff1e00"/><use href="#pl" x="426" y="355" fill="#ff0300"/><use href="#pl" x="498" y="361" fill="#ff6800"/><use href="#pl" x="434" y="353" fill="#ff0700"/><use href="#pl" x="472" y="354" fill="#ff1c00"/><use href="#pl" x="412" y="368" fill="#ff0000"/><use href="#pl" x="409" y="367" fill="#ff3500"/><use href="#pl" x="400" y="352" fill="#ff0a00"/><use href="#pl" x="424" y="364" fill="#ff0500"/><use href="#pl" x="482" y="348" fill="#ff6000"/><use href="#pl" x="431" y="346" fill="#ff1d00"/><use href="#pl" x="467" y="346" fill="#ff5d00"/><use href="#pl" x="457" y="367" fill="#ff2e00"/><use href="#pl" x="411" y="361" fill="#ff0900"/><use href="#pl" x="390" y="353" fill="#ff1300"/><use href="#pl" x="414" y="364" fill="#ff0000"/><use href="#pl" x="471" y="362" fill="#ff2e00"/><use href="#pl" x="432" y="353" fill="#ff0c00"/><use href="#pl" x="428" y="356" fill="#ff0000"/><use href="#pl" x="393" y="360" fill="#ff0700"/><use href="#pl" x="385" y="354" fill="#ff2100"/><use href="#pl" x="415" y="356" fill="#ff0000"/><use href="#pl" x="454" y="347" fill="#ff1000"/><use href="#pl" x="422" y="364" fill="#ff0000"/><use href="#pl" x="391" y="354" fill="#ff0d00"/><use href="#pl" x="405" y="352" fill="#ff0500"/><use href="#pl" x="502" y="357" fill="#ff7600"/><use href="#pl" x="425" y="364" fill="#ff0900"/><use href="#pl" x="423" y="354" fill="#ff0000"/><use href="#pl" x="399" y="349" fill="#ff2e00"/><use href="#pl" x="452" y="335" fill="#ff9100"/><use href="#pl" x="471" y="348" fill="#ff3000"/><use href="#pl" x="421" y="367" fill="#ff0000"/><use href="#pl" x="399" y="360" fill="#ff0300"/><use href="#pl" x="474" y="352" fill="#ff2700"/><use href="#pl" x="472" y="358" fill="#ff4200"/><use href="#pl" x="410" y="347" fill="#ff3400"/><use href="#pl" x="420" y="351" fill="#ff0000"/><use href="#pl" x="458" y="368" fill="#ff3900"/><use href="#pl" x="437" y="361" fill="#ff0d00"/><use href="#pl" x="418" y="356" fill="#ff0e00"/><use href="#pl" x="408" y="360" fill="#ff0000"/><use href="#pl" x="444" y="353" fill="#ff1900"/><use href="#pl" x="438" y="354" fill="#ff0000"/><use href="#pl" x="481" y="360" fill="#ff4000"/><use href="#pl" x="426" y="354" fill="#ff0900"/><use href="#pl" x="424" y="347" fill="#ff2300"/><use href="#pl" x="412" y="352" fill="#ff0000"/><use href="#pl" x="441" y="359" fill="#ff0000"/><use href="#pl" x="473" y="365" fill="#ff2f00"/><use href="#pl" x="447" y="364" fill="#ff2900"/><use href="#pl" x="432" y="352" fill="#ff0d00"/><use href="#pl" x="489" y="357" fill="#ff3a00"/><use href="#pl" x="400" y="351" fill="#ff2500"/><use href="#pl" x="444" y="346" fill="#ff3100"/><use href="#pl" x="391" y="352" fill="#ff3400"/><use href="#pl" x="454" y="357" fill="#ff0c00"/><use href="#pl" x="429" y="369" fill="#ff2600"/><use href="#pl" x="393" y="355" fill="#ff0000"/><use href="#pl" x="417" y="365" fill="#ff0200"/><use href="#pl" x="426" y="358" fill="#ff0000"/><use href="#pl" x="426" y="356" fill="#ff0000"/><use href="#pl" x="416" y="361" fill="#ff0d00"/><use href="#pl" x="492" y="360" fill="#ff4500"/><use href="#pl" x="428" y="348" fill="#ff0200"/><use href="#pl" x="470" y="347" fill="#ff4d00"/><use href="#pl" x="458" y="364" fill="#ff2d00"/><use href="#pl" x="409" y="354" fill="#ff0900"/><use href="#pl" x="413" y="361" fill="#ff0100"/><use href="#pl" x="437" y="365" fill="#ff0000"/><use href="#pl" x="415" y="360" fill="#ff0100"/><use href="#pl" x="470" y="349" fill="#ff2d00"/><use href="#pl" x="456" y="347" fill="#ff3200"/><use href="#pl" x="413" y="364" fill="#ff0100"/><use href="#pl" x="471" y="349" fill="#ff2300"/><use href="#pl" x="399" y="350" fill="#ff1800"/><use href="#pl" x="433" y="358" fill="#ff0500"/><use href="#pl" x="424" y="351" fill="#ff0600"/><use href="#pl" x="428" y="367" fill="#ff2800"/><use href="#pl" x="427" y="348" fill="#ff0a00"/><use href="#pl" x="417" y="358" fill="#ff0000"/><use href="#pl" x="456" y="348" fill="#ff2f00"/><use href="#pl" x="426" y="347" fill="#ff1900"/><use href="#pl" x="464" y="358" fill="#ff1900"/><use href="#pl" x="491" y="362" fill="#ff6900"/><use href="#pl" x="430" y="351" fill="#ff0500"/><use href="#pl" x="401" y="356" fill="#ff0f00"/><use href="#pl" x="468" y="360" fill="#ff2600"/><use href="#pl" x="409" y="357" fill="#ff0400"/><use href="#pl" x="414" y="367" fill="#ff3700"/><use href="#pl" x="438" y="350" fill="#ff0000"/><use href="#pl" x="408" y="362" fill="#ff0700"/><use href="#pl" x="419" y="356" fill="#ff0000"/><use href="#pl" x="466" y="361" fill="#ff1b00"/><use href="#pl" x="467" y="346" fill="#ff4200"/><use href="#pl" x="412" y="361" fill="#ff0000"/><use href="#pl" x="479" y="366" fill="#ff4e00"/><use href="#pl" x="426" y="348" fill="#ff0000"/><use href="#pl" x="429" y="364" fill="#ff0900"/><use href="#pl" x="456" y="367" fill="#ff3500"/><use href="#pl" x="428" y="367" fill="#ff0400"/><use href="#pl" x="459" y="346" fill="#ff3b00"/><use href="#pl" x="445" y="364" fill="#ff1500"/><use href="#pl" x="473" y="358" fill="#ff2200"/><use href="#pl" x="440" y="362" fill="#ff1000"/><use href="#pl" x="413" y="358" fill="#ff0000"/><use href="#pl" x="428" y="349" fill="#ff0100"/><use href="#pl" x="450" y="359" fill="#ff1100"/><use href="#pl" x="432" y="359" fill="#ff0300"/><use href="#pl" x="395" y="359" fill="#ff0000"/><use href="#pl" x="430" y="349" fill="#ff0800"/><use href="#pl" x="416" y="367" fill="#ff1c00"/><use href="#pl" x="384" y="357" fill="#ff2000"/><use href="#pl" x="399" y="359" fill="#ff0600"/><use href="#pl" x="429" y="350" fill="#ff0000"/><use href="#pl" x="450" y="354" fill="#ff1500"/><use href="#pl" x="398" y="362" fill="#ff0000"/><use href="#pl" x="472" y="359" fill="#ff2700"/><use href="#pl" x="477" y="351" fill="#ff2b00"/><use href="#pl" x="467" y="346" fill="#ff5600"/><use href="#pl" x="485" y="360" fill="#ff3a00"/><use href="#pl" x="409" y="362" fill="#ff0000"/><use href="#pl" x="408" y="348" fill="#ff1800"/><use href="#pl" x="414" y="361" fill="#ff0300"/><use href="#pl" x="433" y="359" fill="#ff0000"/><use href="#pl" x="418" y="351" fill="#ff0600"/><use href="#pl" x="438" y="366" fill="#ff1600"/><use href="#pl" x="395" y="353" fill="#ff0d00"/><use href="#pl" x="474" y="366" fill="#ff3c00"/><use href="#pl" x="447" y="359" fill="#ff0b00"/><use href="#pl" x="482" y="350" fill="#ff3500"/><use href="#pl" x="440" y="359" fill="#ff0200"/><use href="#pl" x="441" y="368" fill="#ff2500"/><use href="#pl" x="471" y="365" fill="#ff4000"/><use href="#pl" x="491" y="352" fill="#ff5300"/><use href="#pl" x="422" y="352" fill="#ff0700"/><use href="#pl" x="413" y="358" fill="#ff0000"/><use href="#pl" x="458" y="346" fill="#ff4b00"/><use href="#pl" x="435" y="352" fill="#ff0000"/><use href="#pl" x="425" y="352" fill="#ff1300"/><use href="#pl" x="378" y="362" fill="#ff8100"/><use href="#pl" x="425" y="359" fill="#ff0200"/><use href="#pl" x="446" y="368" fill="#ff3700"/><use href="#pl" x="510" y="352" fill="#ff7900"/><use href="#pl" x="505" y="360" fill="#ff6300"/><use href="#pl" x="431" y="366" fill="#ff1400"/><use href="#pl" x="502" y="357" fill="#ff6300"/><use href="#pl" x="415" y="347" fill="#ff2200"/><use href="#pl" x="418" y="346" fill="#ff3200"/><use href="#pl" x="417" y="348" fill="#ff0b00"/><use href="#pl" x="443" y="359" fill="#ff2200"/><use href="#pl" x="389" y="352" fill="#ff2a00"/><use href="#pl" x="440" y="367" fill="#ff1300"/><use href="#pl" x="454" y="361" fill="#ff2d00"/><use href="#pl" x="475" y="362" fill="#ff3000"/></g><g fill="#000" stroke="none"><rect x="232.1" y="558.6" width="3" height="31.3"/><rect x="201.6" y="586.9" width="33.5" height="3"/><path d="M222.0 558.6L245.2 558.6L233.6 538.1z"/><path d="M201.6 577.3L201.6 599.5L178.3 588.4z"/></g><g stroke="#b0b0b0" stroke-width="1.9" fill="none"><path d="M147.60 34.0V650.0"/><path d="M290.65 34.0V650.0"/><path d="M433.70 34.0V650.0"/><path d="M576.75 34.0V650.0"/><path d="M719.80 34.0V650.0"/><path d="M134.4 84.79H795.8"/><path d="M134.4 169.36H795.8"/><path d="M134.4 253.93H795.8"/><path d="M134.4 338.50H795.8"/><path d="M134.4 423.07H795.8"/><path d="M134.4 507.64H795.8"/><path d="M134.4 592.21H795.8"/></g><use href="#pl" x="433.7" y="338.5" fill="#000"/></g><text x="233.9" y="533.5" font-size="28.5" text-anchor="middle">N</text><text x="172.6" y="595.9" font-size="28.5" text-anchor="middle">E</text><rect x="146.6" y="45.9" width="276.5" height="107.7" rx="4" fill="#fff" fill-opacity="0.8" stroke="#cccccc" stroke-width="1.9"/><circle cx="178.9" cy="66.4" r="8.4" fill="#add8e6" fill-opacity="0.3"/><use href="#pl" x="178.9" y="100.1" fill="#000"/><use href="#pl" x="178.9" y="134.2" fill="#f88080"/><g font-size="23.75" letter-spacing="-0.28"><text x="219.8" y="72.2">all clones</text><text x="219.8" y="106.5">Apophis nominal</text><text x="219.8" y="140.8">Earth impactors</text></g><g stroke="#000" stroke-width="2"><path d="M147.60 650.0V658.3"/><path d="M290.65 650.0V658.3"/><path d="M433.70 650.0V658.3"/><path d="M576.75 650.0V658.3"/><path d="M719.80 650.0V658.3"/><path d="M134.4 84.79H126.1"/><path d="M134.4 169.36H126.1"/><path d="M134.4 253.93H126.1"/><path d="M134.4 338.50H126.1"/><path d="M134.4 423.07H126.1"/><path d="M134.4 507.64H126.1"/><path d="M134.4 592.21H126.1"/></g><text x="148.00" y="683.8" font-size="23.75" text-anchor="middle" letter-spacing="-0.2">100</text><text x="291.05" y="683.8" font-size="23.75" text-anchor="middle" letter-spacing="-0.2">50</text><text x="434.10" y="683.8" font-size="23.75" text-anchor="middle" letter-spacing="-0.2">0</text><text x="577.15" y="683.8" font-size="23.75" text-anchor="middle" letter-spacing="-0.2">−50</text><text x="720.20" y="683.8" font-size="23.75" text-anchor="middle" letter-spacing="-0.2">−100</text><text x="118.20" y="93.99" font-size="23.75" text-anchor="end" letter-spacing="-0.2">300</text><text x="118.20" y="178.56" font-size="23.75" text-anchor="end" letter-spacing="-0.2">200</text><text x="118.20" y="263.13" font-size="23.75" text-anchor="end" letter-spacing="-0.2">100</text><text x="118.20" y="347.70" font-size="23.75" text-anchor="end" letter-spacing="-0.2">0</text><text x="118.20" y="432.27" font-size="23.75" text-anchor="end" letter-spacing="-0.2">−100</text><text x="118.20" y="516.84" font-size="23.75" text-anchor="end" letter-spacing="-0.2">−200</text><text x="118.20" y="601.41" font-size="23.75" text-anchor="end" letter-spacing="-0.2">−300</text><text x="465.1" y="722.9" font-size="35.6" text-anchor="middle" letter-spacing="-0.17">Δ RA (arcsec)</text><text transform="translate(38.4 342.0) rotate(-90)" font-size="35.6" text-anchor="middle" letter-spacing="-0.24">Δ Dec (arcsec)</text><text x="465.9" y="20.7" font-size="28.5" text-anchor="middle" letter-spacing="-0.22">2027 Dec 06</text><rect x="837.5" y="34.0" width="30.3" height="616.0" fill="url(#cg)"/><rect x="837.5" y="34.0" width="30.3" height="616.0" fill="url(#st)"/><rect x="837.5" y="34.0" width="30.3" height="616.0" fill="none" stroke="#000" stroke-width="2"/><g stroke="#000" stroke-width="2"><path d="M867.8 99.40H876.1"/><path d="M867.8 230.50H876.1"/><path d="M867.8 361.60H876.1"/><path d="M867.8 492.70H876.1"/><path d="M867.8 623.80H876.1"/></g><text x="884.7" y="109.00" font-size="23.75" letter-spacing="-0.2">0.9</text><text x="884.7" y="240.10" font-size="23.75" letter-spacing="-0.2">0.7</text><text x="884.7" y="371.20" font-size="23.75" letter-spacing="-0.2">0.5</text><text x="884.7" y="502.30" font-size="23.75" letter-spacing="-0.2">0.3</text><text x="884.7" y="633.40" font-size="23.75" letter-spacing="-0.2">0.1</text><text transform="translate(948.3 342.0) rotate(-90)" font-size="23.75" text-anchor="middle" letter-spacing="-0.3">Earth impactor Δ<tspan font-style="italic">v</tspan> (m/s)</text><rect x="1159.8" y="34.0" width="661.2" height="616.0" fill="none" stroke="#000" stroke-width="2.1"/><g clip-path="url(#cp2)"><path d="M1436 34L1540 34L1530 80L1512 120L1505 170L1500 220L1498 280L1495 330L1480 350L1460 365L1420 365L1395 350L1388 320L1390 260L1394 214L1400 174L1420 134L1436 94Z" fill="#add8e6" fill-opacity="0.85" filter="url(#bl3)"/><g class="b"><circle cx="1507" cy="112"/><circle cx="1381" cy="67"/><circle cx="1288" cy="179"/><circle cx="1791" cy="51"/><circle cx="1462" cy="271"/><circle cx="1587" cy="89"/><circle cx="1561" cy="389"/><circle cx="1786" cy="85"/><circle cx="1351" cy="110"/><circle cx="1551" cy="180"/><circle cx="1610" cy="70"/><circle cx="1368" cy="216"/><circle cx="1435" cy="35"/><circle cx="1790" cy="592"/><circle cx="1540" cy="496"/><circle cx="1351" cy="458"/><circle cx="1407" cy="271"/><circle cx="1609" cy="382"/><circle cx="1342" cy="74"/><circle cx="1420" cy="618"/><circle cx="1611" cy="502"/><circle cx="1192" cy="389"/><circle cx="1451" cy="577"/><circle cx="1334" cy="352"/><circle cx="1233" cy="598"/><circle cx="1358" cy="283"/><circle cx="1542" cy="467"/><circle cx="1391" cy="253"/><circle cx="1496" cy="183"/><circle cx="1575" cy="96"/><circle cx="1334" cy="45"/><circle cx="1271" cy="132"/><circle cx="1485" cy="592"/><circle cx="1466" cy="637"/><circle cx="1660" cy="334"/><circle cx="1457" cy="89"/><circle cx="1382" cy="549"/><circle cx="1557" cy="386"/><circle cx="1354" cy="257"/><circle cx="1362" cy="625"/><circle cx="1501" cy="256"/><circle cx="1308" cy="545"/><circle cx="1452" cy="310"/><circle cx="1654" cy="36"/><circle cx="1427" cy="59"/><circle cx="1358" cy="398"/><circle cx="1302" cy="547"/><circle cx="1394" cy="244"/><circle cx="1603" cy="426"/><circle cx="1594" cy="55"/><circle cx="1564" cy="174"/><circle cx="1520" cy="336"/><circle cx="1385" cy="153"/><circle cx="1383" cy="68"/><circle cx="1509" cy="250"/><circle cx="1504" cy="162"/><circle cx="1418" cy="243"/><circle cx="1315" cy="291"/><circle cx="1560" cy="325"/><circle cx="1613" cy="383"/><circle cx="1664" cy="254"/><circle cx="1373" cy="241"/><circle cx="1317" cy="185"/><circle cx="1376" cy="96"/><circle cx="1173" cy="583"/><circle cx="1371" cy="422"/><circle cx="1194" cy="90"/><circle cx="1392" cy="53"/><circle cx="1387" cy="275"/><circle cx="1590" cy="53"/><circle cx="1359" cy="244"/><circle cx="1395" cy="210"/><circle cx="1502" cy="259"/><circle cx="1565" cy="126"/><circle cx="1342" cy="260"/><circle cx="1351" cy="186"/><circle cx="1410" cy="334"/><circle cx="1295" cy="75"/><circle cx="1423" cy="461"/><circle cx="1398" cy="156"/><circle cx="1395" cy="261"/><circle cx="1564" cy="169"/><circle cx="1387" cy="269"/><circle cx="1461" cy="73"/><circle cx="1253" cy="192"/><circle cx="1367" cy="282"/><circle cx="1385" cy="486"/><circle cx="1560" cy="362"/><circle cx="1304" cy="341"/><circle cx="1427" cy="569"/><circle cx="1481" cy="569"/><circle cx="1518" cy="85"/><circle cx="1325" cy="349"/><circle cx="1512" cy="592"/><circle cx="1490" cy="196"/><circle cx="1313" cy="207"/><circle cx="1800" cy="590"/><circle cx="1582" cy="87"/><circle cx="1753" cy="494"/><circle cx="1469" cy="405"/><circle cx="1255" cy="620"/><circle cx="1751" cy="539"/><circle cx="1439" cy="355"/><circle cx="1569" cy="486"/><circle cx="1348" cy="626"/><circle cx="1343" cy="64"/><circle cx="1443" cy="129"/><circle cx="1364" cy="594"/><circle cx="1411" cy="219"/><circle cx="1442" cy="268"/><circle cx="1513" cy="315"/><circle cx="1573" cy="85"/><circle cx="1533" cy="266"/><circle cx="1405" cy="121"/><circle cx="1624" cy="452"/><circle cx="1419" cy="196"/><circle cx="1345" cy="612"/><circle cx="1326" cy="141"/><circle cx="1243" cy="266"/><circle cx="1370" cy="100"/><circle cx="1468" cy="281"/><circle cx="1635" cy="493"/><circle cx="1602" cy="450"/><circle cx="1566" cy="207"/><circle cx="1391" cy="176"/><circle cx="1532" cy="304"/><circle cx="1435" cy="293"/><circle cx="1344" cy="640"/><circle cx="1357" cy="261"/><circle cx="1296" cy="581"/><circle cx="1482" cy="83"/><circle cx="1455" cy="302"/><circle cx="1357" cy="122"/><circle cx="1269" cy="556"/><circle cx="1345" cy="176"/><circle cx="1410" cy="99"/><circle cx="1503" cy="605"/><circle cx="1546" cy="216"/><circle cx="1712" cy="259"/><circle cx="1539" cy="396"/><circle cx="1586" cy="40"/><circle cx="1700" cy="642"/><circle cx="1287" cy="146"/><circle cx="1241" cy="580"/><circle cx="1260" cy="232"/><circle cx="1441" cy="71"/><circle cx="1387" cy="86"/><circle cx="1515" cy="290"/><circle cx="1319" cy="233"/><circle cx="1663" cy="601"/><circle cx="1446" cy="513"/><circle cx="1523" cy="342"/><circle cx="1651" cy="535"/><circle cx="1550" cy="208"/><circle cx="1464" cy="83"/><circle cx="1420" cy="560"/><circle cx="1363" cy="203"/><circle cx="1221" cy="501"/><circle cx="1592" cy="411"/><circle cx="1559" cy="68"/><circle cx="1460" cy="448"/><circle cx="1333" cy="516"/><circle cx="1366" cy="275"/><circle cx="1554" cy="235"/><circle cx="1349" cy="350"/><circle cx="1362" cy="412"/><circle cx="1391" cy="516"/><circle cx="1511" cy="571"/><circle cx="1492" cy="294"/><circle cx="1707" cy="40"/><circle cx="1508" cy="253"/><circle cx="1446" cy="246"/><circle cx="1622" cy="510"/><circle cx="1341" cy="402"/><circle cx="1480" cy="548"/><circle cx="1788" cy="542"/><circle cx="1376" cy="330"/><circle cx="1421" cy="50"/><circle cx="1290" cy="134"/><circle cx="1288" cy="231"/><circle cx="1350" cy="247"/><circle cx="1397" cy="199"/><circle cx="1404" cy="593"/><circle cx="1366" cy="275"/><circle cx="1411" cy="485"/><circle cx="1509" cy="48"/><circle cx="1282" cy="619"/><circle cx="1342" cy="45"/><circle cx="1258" cy="424"/><circle cx="1570" cy="322"/><circle cx="1422" cy="483"/><circle cx="1379" cy="188"/><circle cx="1523" cy="402"/><circle cx="1642" cy="183"/><circle cx="1282" cy="193"/><circle cx="1284" cy="388"/><circle cx="1566" cy="195"/><circle cx="1353" cy="196"/><circle cx="1447" cy="59"/><circle cx="1473" cy="312"/><circle cx="1786" cy="561"/><circle cx="1476" cy="109"/><circle cx="1376" cy="285"/><circle cx="1388" cy="123"/><circle cx="1670" cy="49"/><circle cx="1466" cy="319"/><circle cx="1395" cy="466"/><circle cx="1462" cy="142"/><circle cx="1530" cy="183"/><circle cx="1456" cy="130"/><circle cx="1462" cy="605"/><circle cx="1438" cy="245"/><circle cx="1352" cy="163"/><circle cx="1470" cy="112"/><circle cx="1264" cy="645"/><circle cx="1184" cy="403"/><circle cx="1375" cy="601"/><circle cx="1248" cy="187"/><circle cx="1351" cy="623"/><circle cx="1359" cy="161"/><circle cx="1450" cy="48"/><circle cx="1304" cy="283"/><circle cx="1290" cy="159"/><circle cx="1426" cy="42"/><circle cx="1524" cy="564"/><circle cx="1344" cy="90"/><circle cx="1264" cy="73"/><circle cx="1264" cy="593"/><circle cx="1467" cy="79"/><circle cx="1554" cy="151"/><circle cx="1273" cy="240"/><circle cx="1561" cy="341"/><circle cx="1324" cy="50"/><circle cx="1303" cy="618"/><circle cx="1222" cy="518"/><circle cx="1534" cy="306"/><circle cx="1768" cy="315"/><circle cx="1481" cy="425"/><circle cx="1348" cy="266"/><circle cx="1331" cy="495"/><circle cx="1282" cy="577"/><circle cx="1487" cy="554"/><circle cx="1337" cy="485"/><circle cx="1193" cy="521"/><circle cx="1379" cy="89"/><circle cx="1663" cy="597"/><circle cx="1425" cy="81"/><circle cx="1406" cy="410"/><circle cx="1591" cy="553"/><circle cx="1260" cy="505"/><circle cx="1429" cy="44"/><circle cx="1555" cy="59"/><circle cx="1377" cy="220"/><circle cx="1317" cy="128"/><circle cx="1504" cy="157"/><circle cx="1165" cy="70"/><circle cx="1514" cy="399"/><circle cx="1396" cy="593"/><circle cx="1262" cy="232"/><circle cx="1457" cy="265"/><circle cx="1564" cy="418"/><circle cx="1422" cy="75"/><circle cx="1391" cy="535"/><circle cx="1262" cy="627"/><circle cx="1565" cy="402"/><circle cx="1509" cy="90"/><circle cx="1383" cy="632"/><circle cx="1164" cy="639"/><circle cx="1292" cy="622"/><circle cx="1288" cy="111"/><circle cx="1357" cy="327"/><circle cx="1408" cy="596"/><circle cx="1399" cy="239"/><circle cx="1715" cy="613"/><circle cx="1605" cy="612"/><circle cx="1375" cy="305"/><circle cx="1358" cy="52"/><circle cx="1519" cy="496"/><circle cx="1428" cy="68"/><circle cx="1388" cy="610"/><circle cx="1410" cy="307"/><circle cx="1265" cy="567"/><circle cx="1544" cy="45"/><circle cx="1352" cy="447"/><circle cx="1338" cy="118"/><circle cx="1320" cy="592"/><circle cx="1503" cy="268"/><circle cx="1370" cy="229"/><circle cx="1352" cy="382"/><circle cx="1411" cy="143"/><circle cx="1541" cy="389"/><circle cx="1365" cy="304"/><circle cx="1382" cy="592"/><circle cx="1203" cy="87"/><circle cx="1324" cy="608"/><circle cx="1288" cy="636"/><circle cx="1350" cy="344"/><circle cx="1400" cy="47"/><circle cx="1437" cy="547"/><circle cx="1692" cy="103"/><circle cx="1262" cy="495"/><circle cx="1786" cy="600"/><circle cx="1330" cy="100"/><circle cx="1519" cy="446"/><circle cx="1383" cy="580"/><circle cx="1416" cy="69"/><circle cx="1572" cy="314"/><circle cx="1520" cy="191"/><circle cx="1290" cy="540"/><circle cx="1180" cy="74"/><circle cx="1337" cy="44"/><circle cx="1332" cy="602"/><circle cx="1455" cy="464"/><circle cx="1283" cy="549"/><circle cx="1472" cy="487"/><circle cx="1529" cy="182"/><circle cx="1348" cy="72"/><circle cx="1484" cy="147"/><circle cx="1483" cy="310"/><circle cx="1468" cy="594"/><circle cx="1459" cy="642"/><circle cx="1306" cy="638"/><circle cx="1286" cy="482"/><circle cx="1418" cy="100"/><circle cx="1514" cy="73"/><circle cx="1403" cy="290"/><circle cx="1336" cy="394"/><circle cx="1436" cy="309"/><circle cx="1380" cy="138"/><circle cx="1351" cy="234"/><circle cx="1515" cy="68"/><circle cx="1325" cy="122"/><circle cx="1211" cy="565"/><circle cx="1487" cy="140"/><circle cx="1277" cy="590"/><circle cx="1290" cy="641"/><circle cx="1220" cy="211"/><circle cx="1265" cy="589"/><circle cx="1619" cy="472"/><circle cx="1564" cy="193"/><circle cx="1434" cy="164"/><circle cx="1729" cy="117"/><circle cx="1490" cy="619"/><circle cx="1771" cy="180"/><circle cx="1283" cy="618"/><circle cx="1312" cy="58"/><circle cx="1338" cy="381"/><circle cx="1469" cy="80"/><circle cx="1164" cy="48"/><circle cx="1352" cy="548"/><circle cx="1579" cy="69"/><circle cx="1413" cy="224"/><circle cx="1186" cy="350"/><circle cx="1403" cy="222"/><circle cx="1277" cy="483"/><circle cx="1814" cy="602"/><circle cx="1558" cy="174"/><circle cx="1546" cy="352"/><circle cx="1171" cy="186"/><circle cx="1503" cy="46"/><circle cx="1401" cy="598"/><circle cx="1523" cy="383"/><circle cx="1381" cy="261"/><circle cx="1301" cy="355"/><circle cx="1453" cy="287"/><circle cx="1438" cy="534"/><circle cx="1263" cy="66"/><circle cx="1413" cy="597"/><circle cx="1339" cy="466"/><circle cx="1449" cy="342"/><circle cx="1409" cy="118"/><circle cx="1301" cy="275"/><circle cx="1318" cy="354"/><circle cx="1276" cy="559"/><circle cx="1570" cy="368"/><circle cx="1400" cy="631"/><circle cx="1622" cy="464"/><circle cx="1707" cy="586"/><circle cx="1312" cy="62"/><circle cx="1348" cy="72"/><circle cx="1442" cy="434"/><circle cx="1293" cy="81"/><circle cx="1725" cy="173"/><circle cx="1594" cy="199"/><circle cx="1310" cy="54"/><circle cx="1492" cy="573"/><circle cx="1230" cy="379"/><circle cx="1348" cy="554"/><circle cx="1746" cy="616"/><circle cx="1457" cy="583"/><circle cx="1428" cy="581"/><circle cx="1305" cy="108"/><circle cx="1573" cy="438"/><circle cx="1349" cy="82"/><circle cx="1347" cy="191"/><circle cx="1543" cy="320"/><circle cx="1550" cy="106"/><circle cx="1717" cy="387"/><circle cx="1277" cy="353"/><circle cx="1196" cy="549"/><circle cx="1445" cy="358"/><circle cx="1347" cy="237"/><circle cx="1336" cy="196"/><circle cx="1418" cy="95"/><circle cx="1500" cy="246"/><circle cx="1479" cy="643"/><circle cx="1391" cy="265"/><circle cx="1306" cy="568"/><circle cx="1351" cy="273"/><circle cx="1392" cy="211"/><circle cx="1817" cy="482"/><circle cx="1296" cy="118"/><circle cx="1463" cy="558"/><circle cx="1714" cy="635"/><circle cx="1464" cy="283"/><circle cx="1366" cy="50"/><circle cx="1430" cy="485"/><circle cx="1233" cy="364"/><circle cx="1390" cy="266"/><circle cx="1582" cy="131"/><circle cx="1310" cy="385"/><circle cx="1608" cy="77"/><circle cx="1764" cy="444"/><circle cx="1620" cy="75"/><circle cx="1360" cy="135"/><circle cx="1340" cy="164"/><circle cx="1389" cy="229"/><circle cx="1369" cy="57"/><circle cx="1355" cy="269"/><circle cx="1445" cy="227"/><circle cx="1471" cy="177"/><circle cx="1299" cy="315"/><circle cx="1399" cy="279"/><circle cx="1391" cy="564"/><circle cx="1537" cy="448"/><circle cx="1566" cy="78"/><circle cx="1563" cy="363"/><circle cx="1613" cy="560"/><circle cx="1586" cy="518"/><circle cx="1472" cy="620"/><circle cx="1391" cy="392"/><circle cx="1293" cy="177"/><circle cx="1269" cy="613"/><circle cx="1415" cy="335"/><circle cx="1299" cy="77"/><circle cx="1330" cy="99"/><circle cx="1339" cy="117"/><circle cx="1494" cy="573"/><circle cx="1497" cy="188"/><circle cx="1796" cy="610"/><circle cx="1408" cy="87"/><circle cx="1431" cy="171"/><circle cx="1440" cy="277"/><circle cx="1512" cy="34"/><circle cx="1711" cy="167"/><circle cx="1464" cy="102"/><circle cx="1287" cy="590"/><circle cx="1477" cy="71"/><circle cx="1457" cy="489"/><circle cx="1492" cy="127"/><circle cx="1504" cy="133"/><circle cx="1340" cy="146"/><circle cx="1707" cy="111"/><circle cx="1383" cy="315"/><circle cx="1483" cy="241"/><circle cx="1457" cy="563"/><circle cx="1344" cy="41"/><circle cx="1545" cy="377"/><circle cx="1587" cy="142"/><circle cx="1348" cy="173"/><circle cx="1315" cy="82"/><circle cx="1488" cy="99"/><circle cx="1475" cy="568"/><circle cx="1466" cy="96"/><circle cx="1722" cy="341"/><circle cx="1619" cy="488"/><circle cx="1390" cy="81"/><circle cx="1298" cy="544"/><circle cx="1509" cy="623"/><circle cx="1260" cy="521"/><circle cx="1487" cy="148"/><circle cx="1366" cy="185"/><circle cx="1297" cy="104"/><circle cx="1520" cy="94"/><circle cx="1353" cy="562"/><circle cx="1469" cy="584"/><circle cx="1405" cy="207"/><circle cx="1386" cy="293"/><circle cx="1507" cy="86"/><circle cx="1416" cy="114"/><circle cx="1496" cy="610"/><circle cx="1309" cy="283"/><circle cx="1580" cy="176"/><circle cx="1451" cy="384"/><circle cx="1434" cy="43"/><circle cx="1160" cy="461"/><circle cx="1532" cy="343"/><circle cx="1519" cy="639"/><circle cx="1383" cy="396"/><circle cx="1435" cy="109"/><circle cx="1490" cy="503"/><circle cx="1197" cy="91"/><circle cx="1491" cy="189"/><circle cx="1479" cy="632"/><circle cx="1257" cy="634"/><circle cx="1405" cy="68"/><circle cx="1385" cy="280"/><circle cx="1363" cy="47"/><circle cx="1234" cy="358"/><circle cx="1300" cy="562"/><circle cx="1373" cy="418"/><circle cx="1328" cy="506"/><circle cx="1555" cy="502"/><circle cx="1549" cy="50"/><circle cx="1379" cy="233"/><circle cx="1241" cy="175"/><circle cx="1460" cy="558"/><circle cx="1522" cy="366"/><circle cx="1361" cy="40"/><circle cx="1307" cy="633"/><circle cx="1490" cy="398"/><circle cx="1339" cy="226"/><circle cx="1376" cy="254"/><circle cx="1320" cy="620"/><circle cx="1451" cy="556"/><circle cx="1335" cy="416"/><circle cx="1551" cy="292"/><circle cx="1379" cy="289"/><circle cx="1553" cy="394"/><circle cx="1476" cy="42"/><circle cx="1672" cy="35"/><circle cx="1549" cy="377"/><circle cx="1542" cy="202"/><circle cx="1546" cy="414"/><circle cx="1511" cy="80"/><circle cx="1474" cy="542"/><circle cx="1385" cy="337"/><circle cx="1451" cy="76"/><circle cx="1545" cy="395"/><circle cx="1319" cy="62"/><circle cx="1481" cy="171"/><circle cx="1387" cy="582"/><circle cx="1274" cy="122"/><circle cx="1624" cy="618"/><circle cx="1402" cy="153"/><circle cx="1315" cy="572"/><circle cx="1360" cy="35"/><circle cx="1489" cy="86"/><circle cx="1558" cy="266"/><circle cx="1390" cy="192"/><circle cx="1553" cy="156"/><circle cx="1303" cy="648"/><circle cx="1531" cy="432"/><circle cx="1451" cy="280"/><circle cx="1588" cy="205"/><circle cx="1438" cy="122"/><circle cx="1232" cy="216"/><circle cx="1276" cy="383"/><circle cx="1576" cy="418"/><circle cx="1216" cy="382"/><circle cx="1377" cy="514"/><circle cx="1328" cy="160"/><circle cx="1247" cy="641"/><circle cx="1266" cy="92"/><circle cx="1321" cy="96"/><circle cx="1714" cy="472"/><circle cx="1435" cy="254"/><circle cx="1572" cy="260"/><circle cx="1435" cy="320"/><circle cx="1769" cy="614"/><circle cx="1514" cy="416"/><circle cx="1522" cy="618"/><circle cx="1486" cy="101"/><circle cx="1175" cy="143"/><circle cx="1524" cy="568"/><circle cx="1433" cy="251"/><circle cx="1279" cy="564"/><circle cx="1376" cy="159"/><circle cx="1564" cy="239"/><circle cx="1561" cy="94"/><circle cx="1368" cy="152"/><circle cx="1370" cy="176"/><circle cx="1446" cy="282"/><circle cx="1345" cy="83"/><circle cx="1311" cy="406"/><circle cx="1468" cy="227"/><circle cx="1265" cy="570"/><circle cx="1434" cy="113"/><circle cx="1389" cy="180"/><circle cx="1494" cy="305"/><circle cx="1268" cy="493"/><circle cx="1449" cy="360"/><circle cx="1544" cy="283"/><circle cx="1468" cy="516"/><circle cx="1378" cy="512"/><circle cx="1716" cy="630"/><circle cx="1677" cy="274"/><circle cx="1507" cy="600"/><circle cx="1257" cy="420"/><circle cx="1303" cy="255"/><circle cx="1522" cy="438"/><circle cx="1494" cy="237"/><circle cx="1348" cy="592"/><circle cx="1501" cy="596"/><circle cx="1469" cy="65"/><circle cx="1670" cy="431"/><circle cx="1309" cy="405"/><circle cx="1276" cy="551"/><circle cx="1534" cy="115"/><circle cx="1362" cy="163"/><circle cx="1280" cy="610"/><circle cx="1388" cy="110"/><circle cx="1357" cy="273"/><circle cx="1388" cy="348"/><circle cx="1514" cy="558"/><circle cx="1545" cy="497"/><circle cx="1545" cy="72"/><circle cx="1586" cy="260"/><circle cx="1185" cy="186"/><circle cx="1465" cy="87"/><circle cx="1365" cy="268"/><circle cx="1363" cy="397"/><circle cx="1415" cy="192"/><circle cx="1414" cy="263"/><circle cx="1411" cy="119"/><circle cx="1493" cy="202"/><circle cx="1538" cy="142"/><circle cx="1417" cy="165"/><circle cx="1365" cy="108"/><circle cx="1282" cy="625"/><circle cx="1374" cy="562"/><circle cx="1472" cy="451"/><circle cx="1356" cy="129"/><circle cx="1568" cy="509"/><circle cx="1597" cy="64"/><circle cx="1307" cy="147"/><circle cx="1625" cy="524"/><circle cx="1320" cy="180"/><circle cx="1533" cy="130"/><circle cx="1317" cy="132"/><circle cx="1556" cy="67"/><circle cx="1522" cy="409"/><circle cx="1339" cy="46"/><circle cx="1560" cy="149"/><circle cx="1341" cy="207"/><circle cx="1168" cy="331"/><circle cx="1289" cy="325"/><circle cx="1480" cy="547"/><circle cx="1248" cy="463"/><circle cx="1429" cy="94"/><circle cx="1518" cy="222"/><circle cx="1326" cy="47"/><circle cx="1666" cy="556"/><circle cx="1468" cy="550"/><circle cx="1530" cy="413"/><circle cx="1505" cy="176"/><circle cx="1499" cy="156"/><circle cx="1336" cy="164"/><circle cx="1450" cy="189"/><circle cx="1604" cy="612"/><circle cx="1503" cy="548"/><circle cx="1733" cy="525"/><circle cx="1510" cy="176"/><circle cx="1341" cy="396"/><circle cx="1324" cy="95"/><circle cx="1398" cy="246"/><circle cx="1312" cy="639"/><circle cx="1167" cy="466"/><circle cx="1385" cy="187"/><circle cx="1588" cy="115"/><circle cx="1499" cy="567"/><circle cx="1476" cy="623"/><circle cx="1500" cy="371"/><circle cx="1505" cy="208"/><circle cx="1453" cy="276"/><circle cx="1191" cy="487"/><circle cx="1371" cy="643"/><circle cx="1600" cy="73"/><circle cx="1436" cy="309"/><circle cx="1333" cy="537"/><circle cx="1352" cy="110"/><circle cx="1276" cy="555"/><circle cx="1561" cy="595"/><circle cx="1228" cy="75"/><circle cx="1313" cy="520"/><circle cx="1517" cy="299"/><circle cx="1512" cy="556"/><circle cx="1421" cy="624"/><circle cx="1476" cy="110"/><circle cx="1288" cy="629"/><circle cx="1374" cy="536"/><circle cx="1266" cy="638"/><circle cx="1223" cy="335"/><circle cx="1277" cy="106"/><circle cx="1599" cy="107"/><circle cx="1290" cy="403"/><circle cx="1775" cy="605"/><circle cx="1432" cy="237"/><circle cx="1550" cy="329"/><circle cx="1287" cy="376"/><circle cx="1578" cy="239"/><circle cx="1358" cy="154"/><circle cx="1533" cy="356"/><circle cx="1296" cy="488"/><circle cx="1336" cy="646"/><circle cx="1467" cy="396"/><circle cx="1428" cy="285"/><circle cx="1179" cy="69"/><circle cx="1393" cy="340"/><circle cx="1543" cy="315"/><circle cx="1280" cy="54"/><circle cx="1380" cy="117"/><circle cx="1505" cy="65"/><circle cx="1390" cy="535"/><circle cx="1383" cy="200"/><circle cx="1819" cy="461"/><circle cx="1395" cy="133"/><circle cx="1455" cy="435"/><circle cx="1609" cy="410"/><circle cx="1548" cy="528"/><circle cx="1375" cy="110"/><circle cx="1383" cy="82"/><circle cx="1302" cy="415"/><circle cx="1407" cy="208"/><circle cx="1334" cy="112"/><circle cx="1382" cy="253"/><circle cx="1378" cy="509"/><circle cx="1310" cy="39"/><circle cx="1621" cy="496"/><circle cx="1592" cy="415"/><circle cx="1308" cy="377"/><circle cx="1403" cy="61"/><circle cx="1472" cy="504"/><circle cx="1446" cy="586"/><circle cx="1614" cy="521"/><circle cx="1415" cy="202"/><circle cx="1467" cy="575"/><circle cx="1342" cy="93"/><circle cx="1196" cy="80"/><circle cx="1303" cy="408"/><circle cx="1305" cy="131"/><circle cx="1367" cy="143"/><circle cx="1419" cy="643"/><circle cx="1375" cy="482"/><circle cx="1674" cy="548"/><circle cx="1344" cy="101"/><circle cx="1423" cy="225"/><circle cx="1406" cy="159"/><circle cx="1507" cy="109"/><circle cx="1439" cy="86"/><circle cx="1309" cy="566"/><circle cx="1532" cy="533"/><circle cx="1331" cy="192"/><circle cx="1457" cy="161"/><circle cx="1204" cy="472"/><circle cx="1517" cy="45"/><circle cx="1462" cy="44"/><circle cx="1416" cy="253"/><circle cx="1577" cy="519"/><circle cx="1536" cy="391"/><circle cx="1665" cy="475"/><circle cx="1784" cy="637"/><circle cx="1506" cy="638"/><circle cx="1230" cy="524"/><circle cx="1427" cy="181"/><circle cx="1243" cy="376"/><circle cx="1396" cy="173"/><circle cx="1535" cy="263"/><circle cx="1379" cy="346"/><circle cx="1366" cy="121"/><circle cx="1315" cy="39"/><circle cx="1474" cy="642"/><circle cx="1329" cy="207"/><circle cx="1195" cy="145"/><circle cx="1470" cy="325"/><circle cx="1266" cy="366"/><circle cx="1491" cy="459"/><circle cx="1389" cy="100"/><circle cx="1429" cy="92"/><circle cx="1442" cy="194"/><circle cx="1557" cy="153"/><circle cx="1226" cy="309"/><circle cx="1437" cy="49"/><circle cx="1438" cy="644"/><circle cx="1697" cy="547"/><circle cx="1436" cy="51"/><circle cx="1370" cy="88"/><circle cx="1507" cy="385"/><circle cx="1632" cy="155"/><circle cx="1567" cy="525"/><circle cx="1730" cy="591"/><circle cx="1435" cy="97"/><circle cx="1171" cy="318"/><circle cx="1590" cy="197"/><circle cx="1384" cy="185"/><circle cx="1572" cy="54"/><circle cx="1750" cy="153"/><circle cx="1565" cy="82"/><circle cx="1458" cy="614"/><circle cx="1357" cy="58"/><circle cx="1218" cy="35"/><circle cx="1340" cy="110"/><circle cx="1346" cy="117"/><circle cx="1696" cy="525"/><circle cx="1458" cy="243"/><circle cx="1461" cy="229"/><circle cx="1226" cy="42"/><circle cx="1675" cy="208"/><circle cx="1388" cy="211"/><circle cx="1353" cy="163"/><circle cx="1459" cy="641"/><circle cx="1580" cy="508"/><circle cx="1380" cy="476"/><circle cx="1289" cy="127"/><circle cx="1447" cy="127"/><circle cx="1536" cy="334"/><circle cx="1296" cy="111"/><circle cx="1233" cy="590"/><circle cx="1423" cy="47"/><circle cx="1577" cy="282"/><circle cx="1420" cy="104"/><circle cx="1572" cy="509"/><circle cx="1533" cy="409"/><circle cx="1532" cy="483"/><circle cx="1574" cy="383"/><circle cx="1566" cy="82"/><circle cx="1331" cy="590"/><circle cx="1607" cy="42"/><circle cx="1329" cy="547"/><circle cx="1558" cy="68"/><circle cx="1480" cy="48"/><circle cx="1462" cy="208"/><circle cx="1406" cy="220"/><circle cx="1245" cy="638"/><circle cx="1354" cy="257"/><circle cx="1382" cy="203"/><circle cx="1217" cy="627"/><circle cx="1445" cy="154"/><circle cx="1562" cy="256"/><circle cx="1344" cy="136"/><circle cx="1188" cy="456"/><circle cx="1259" cy="645"/><circle cx="1593" cy="450"/><circle cx="1621" cy="425"/><circle cx="1414" cy="34"/><circle cx="1354" cy="573"/><circle cx="1213" cy="218"/><circle cx="1323" cy="94"/><circle cx="1363" cy="45"/><circle cx="1442" cy="177"/><circle cx="1578" cy="131"/><circle cx="1442" cy="73"/><circle cx="1285" cy="571"/><circle cx="1327" cy="105"/><circle cx="1501" cy="157"/><circle cx="1724" cy="556"/><circle cx="1418" cy="205"/><circle cx="1551" cy="174"/><circle cx="1471" cy="260"/><circle cx="1409" cy="540"/><circle cx="1408" cy="533"/><circle cx="1796" cy="565"/><circle cx="1488" cy="114"/><circle cx="1561" cy="370"/><circle cx="1364" cy="272"/><circle cx="1500" cy="373"/><circle cx="1396" cy="57"/><circle cx="1315" cy="88"/><circle cx="1593" cy="65"/><circle cx="1425" cy="182"/><circle cx="1583" cy="525"/><circle cx="1523" cy="223"/><circle cx="1398" cy="107"/><circle cx="1557" cy="36"/><circle cx="1326" cy="376"/><circle cx="1368" cy="371"/><circle cx="1807" cy="99"/><circle cx="1589" cy="593"/><circle cx="1329" cy="342"/><circle cx="1457" cy="413"/><circle cx="1304" cy="234"/><circle cx="1306" cy="180"/><circle cx="1435" cy="360"/><circle cx="1699" cy="583"/><circle cx="1445" cy="72"/><circle cx="1314" cy="230"/><circle cx="1193" cy="240"/><circle cx="1557" cy="364"/><circle cx="1288" cy="100"/><circle cx="1281" cy="94"/><circle cx="1479" cy="231"/><circle cx="1500" cy="49"/><circle cx="1545" cy="236"/><circle cx="1530" cy="521"/><circle cx="1511" cy="165"/><circle cx="1438" cy="152"/><circle cx="1350" cy="286"/><circle cx="1415" cy="318"/><circle cx="1697" cy="548"/><circle cx="1271" cy="249"/><circle cx="1790" cy="523"/><circle cx="1322" cy="103"/><circle cx="1273" cy="88"/><circle cx="1539" cy="42"/><circle cx="1169" cy="68"/><circle cx="1528" cy="459"/><circle cx="1458" cy="270"/><circle cx="1379" cy="546"/><circle cx="1574" cy="434"/><circle cx="1327" cy="148"/><circle cx="1170" cy="79"/><circle cx="1534" cy="80"/><circle cx="1500" cy="359"/><circle cx="1451" cy="151"/><circle cx="1373" cy="50"/><circle cx="1423" cy="410"/><circle cx="1549" cy="178"/><circle cx="1321" cy="390"/><circle cx="1354" cy="294"/><circle cx="1377" cy="261"/><circle cx="1479" cy="343"/><circle cx="1376" cy="275"/><circle cx="1560" cy="256"/><circle cx="1326" cy="122"/><circle cx="1535" cy="447"/><circle cx="1232" cy="499"/><circle cx="1505" cy="328"/><circle cx="1285" cy="87"/><circle cx="1536" cy="177"/><circle cx="1550" cy="34"/><circle cx="1484" cy="248"/><circle cx="1387" cy="92"/><circle cx="1389" cy="208"/><circle cx="1315" cy="120"/><circle cx="1359" cy="531"/><circle cx="1521" cy="184"/><circle cx="1548" cy="42"/><circle cx="1351" cy="45"/><circle cx="1546" cy="424"/><circle cx="1273" cy="467"/><circle cx="1405" cy="514"/><circle cx="1450" cy="253"/><circle cx="1330" cy="357"/><circle cx="1166" cy="87"/><circle cx="1608" cy="143"/><circle cx="1513" cy="67"/><circle cx="1418" cy="39"/><circle cx="1185" cy="58"/><circle cx="1272" cy="610"/><circle cx="1472" cy="454"/><circle cx="1358" cy="121"/><circle cx="1365" cy="511"/><circle cx="1359" cy="460"/><circle cx="1512" cy="226"/><circle cx="1415" cy="43"/><circle cx="1534" cy="289"/><circle cx="1475" cy="155"/><circle cx="1358" cy="36"/><circle cx="1425" cy="167"/><circle cx="1475" cy="211"/><circle cx="1558" cy="78"/><circle cx="1569" cy="516"/><circle cx="1192" cy="47"/><circle cx="1412" cy="58"/><circle cx="1608" cy="125"/><circle cx="1613" cy="522"/><circle cx="1465" cy="209"/><circle cx="1477" cy="180"/><circle cx="1550" cy="72"/><circle cx="1665" cy="626"/><circle cx="1358" cy="199"/><circle cx="1291" cy="456"/><circle cx="1343" cy="537"/><circle cx="1269" cy="370"/><circle cx="1523" cy="234"/><circle cx="1724" cy="644"/><circle cx="1498" cy="86"/><circle cx="1557" cy="201"/><circle cx="1460" cy="628"/><circle cx="1382" cy="71"/><circle cx="1326" cy="92"/><circle cx="1551" cy="404"/><circle cx="1374" cy="73"/><circle cx="1432" cy="650"/><circle cx="1291" cy="634"/><circle cx="1473" cy="92"/><circle cx="1370" cy="257"/><circle cx="1429" cy="288"/><circle cx="1455" cy="194"/><circle cx="1782" cy="572"/><circle cx="1505" cy="618"/><circle cx="1439" cy="166"/><circle cx="1573" cy="296"/><circle cx="1588" cy="421"/><circle cx="1451" cy="619"/><circle cx="1618" cy="92"/><circle cx="1173" cy="125"/><circle cx="1525" cy="89"/><circle cx="1534" cy="206"/><circle cx="1486" cy="291"/><circle cx="1231" cy="98"/><circle cx="1313" cy="48"/><circle cx="1453" cy="64"/><circle cx="1340" cy="34"/><circle cx="1486" cy="151"/><circle cx="1589" cy="434"/><circle cx="1645" cy="434"/><circle cx="1449" cy="124"/><circle cx="1380" cy="252"/><circle cx="1550" cy="474"/><circle cx="1766" cy="398"/><circle cx="1425" cy="448"/><circle cx="1538" cy="374"/><circle cx="1488" cy="557"/><circle cx="1334" cy="346"/><circle cx="1326" cy="116"/><circle cx="1552" cy="337"/><circle cx="1395" cy="127"/><circle cx="1167" cy="164"/><circle cx="1518" cy="198"/><circle cx="1508" cy="243"/><circle cx="1358" cy="504"/><circle cx="1419" cy="459"/><circle cx="1432" cy="322"/><circle cx="1389" cy="333"/><circle cx="1290" cy="609"/><circle cx="1318" cy="277"/><circle cx="1536" cy="412"/><circle cx="1598" cy="636"/><circle cx="1162" cy="320"/><circle cx="1783" cy="242"/><circle cx="1379" cy="541"/><circle cx="1392" cy="200"/><circle cx="1460" cy="244"/><circle cx="1566" cy="456"/><circle cx="1340" cy="39"/><circle cx="1529" cy="409"/><circle cx="1329" cy="73"/><circle cx="1448" cy="549"/><circle cx="1411" cy="184"/><circle cx="1471" cy="273"/><circle cx="1318" cy="565"/><circle cx="1401" cy="200"/><circle cx="1486" cy="462"/><circle cx="1299" cy="553"/><circle cx="1555" cy="300"/><circle cx="1422" cy="87"/><circle cx="1666" cy="597"/><circle cx="1446" cy="112"/><circle cx="1438" cy="354"/><circle cx="1316" cy="438"/><circle cx="1438" cy="525"/><circle cx="1383" cy="145"/><circle cx="1422" cy="153"/><circle cx="1382" cy="620"/><circle cx="1280" cy="220"/><circle cx="1331" cy="254"/><circle cx="1292" cy="387"/><circle cx="1286" cy="157"/><circle cx="1375" cy="141"/><circle cx="1480" cy="136"/><circle cx="1287" cy="225"/><circle cx="1552" cy="451"/><circle cx="1326" cy="571"/><circle cx="1280" cy="86"/><circle cx="1264" cy="637"/><circle cx="1349" cy="358"/><circle cx="1458" cy="626"/><circle cx="1359" cy="220"/><circle cx="1467" cy="355"/><circle cx="1482" cy="614"/><circle cx="1435" cy="595"/><circle cx="1431" cy="549"/><circle cx="1453" cy="91"/><circle cx="1412" cy="633"/><circle cx="1657" cy="538"/><circle cx="1589" cy="261"/><circle cx="1386" cy="79"/><circle cx="1620" cy="519"/><circle cx="1695" cy="470"/><circle cx="1320" cy="144"/><circle cx="1412" cy="299"/><circle cx="1290" cy="109"/><circle cx="1199" cy="34"/><circle cx="1398" cy="165"/><circle cx="1546" cy="521"/><circle cx="1560" cy="550"/><circle cx="1352" cy="161"/><circle cx="1529" cy="182"/><circle cx="1359" cy="67"/><circle cx="1354" cy="577"/><circle cx="1220" cy="204"/><circle cx="1378" cy="276"/><circle cx="1363" cy="199"/><circle cx="1346" cy="263"/><circle cx="1708" cy="532"/><circle cx="1772" cy="277"/><circle cx="1306" cy="580"/><circle cx="1410" cy="77"/><circle cx="1678" cy="88"/><circle cx="1479" cy="219"/><circle cx="1399" cy="617"/><circle cx="1722" cy="557"/><circle cx="1301" cy="270"/><circle cx="1312" cy="338"/><circle cx="1349" cy="269"/><circle cx="1361" cy="165"/><circle cx="1377" cy="66"/><circle cx="1319" cy="101"/><circle cx="1396" cy="554"/><circle cx="1212" cy="320"/><circle cx="1440" cy="160"/><circle cx="1273" cy="638"/><circle cx="1455" cy="644"/><circle cx="1305" cy="640"/><circle cx="1466" cy="106"/><circle cx="1349" cy="544"/><circle cx="1339" cy="538"/><circle cx="1271" cy="243"/><circle cx="1465" cy="322"/><circle cx="1576" cy="399"/><circle cx="1447" cy="116"/><circle cx="1489" cy="330"/><circle cx="1368" cy="229"/><circle cx="1555" cy="144"/><circle cx="1578" cy="239"/><circle cx="1516" cy="93"/><circle cx="1278" cy="543"/><circle cx="1527" cy="156"/><circle cx="1465" cy="345"/><circle cx="1488" cy="619"/><circle cx="1357" cy="144"/><circle cx="1443" cy="74"/><circle cx="1526" cy="313"/><circle cx="1529" cy="404"/><circle cx="1592" cy="146"/><circle cx="1220" cy="148"/><circle cx="1570" cy="357"/><circle cx="1332" cy="98"/><circle cx="1334" cy="425"/><circle cx="1272" cy="398"/><circle cx="1391" cy="44"/><circle cx="1561" cy="47"/><circle cx="1327" cy="72"/><circle cx="1325" cy="150"/><circle cx="1212" cy="85"/><circle cx="1388" cy="243"/><circle cx="1190" cy="147"/><circle cx="1479" cy="258"/><circle cx="1374" cy="204"/><circle cx="1364" cy="65"/><circle cx="1267" cy="355"/><circle cx="1427" cy="385"/><circle cx="1212" cy="70"/><circle cx="1507" cy="194"/><circle cx="1515" cy="136"/><circle cx="1603" cy="611"/><circle cx="1258" cy="633"/><circle cx="1490" cy="575"/><circle cx="1659" cy="537"/><circle cx="1593" cy="189"/><circle cx="1315" cy="241"/><circle cx="1770" cy="568"/><circle cx="1387" cy="270"/><circle cx="1315" cy="88"/><circle cx="1494" cy="278"/><circle cx="1341" cy="470"/><circle cx="1461" cy="506"/><circle cx="1568" cy="79"/><circle cx="1758" cy="598"/><circle cx="1368" cy="292"/><circle cx="1383" cy="278"/><circle cx="1364" cy="50"/><circle cx="1230" cy="50"/><circle cx="1580" cy="286"/><circle cx="1399" cy="152"/><circle cx="1324" cy="612"/><circle cx="1191" cy="510"/><circle cx="1296" cy="107"/><circle cx="1368" cy="174"/><circle cx="1305" cy="576"/><circle cx="1335" cy="557"/><circle cx="1265" cy="637"/><circle cx="1522" cy="309"/><circle cx="1546" cy="317"/><circle cx="1174" cy="37"/><circle cx="1324" cy="231"/><circle cx="1405" cy="582"/><circle cx="1415" cy="300"/><circle cx="1544" cy="56"/><circle cx="1770" cy="79"/><circle cx="1509" cy="650"/><circle cx="1281" cy="140"/><circle cx="1460" cy="251"/><circle cx="1554" cy="264"/><circle cx="1431" cy="427"/><circle cx="1249" cy="438"/><circle cx="1435" cy="45"/><circle cx="1286" cy="518"/><circle cx="1594" cy="155"/><circle cx="1589" cy="260"/><circle cx="1525" cy="355"/><circle cx="1484" cy="545"/><circle cx="1360" cy="342"/><circle cx="1176" cy="588"/><circle cx="1241" cy="85"/><circle cx="1343" cy="51"/><circle cx="1527" cy="494"/><circle cx="1515" cy="420"/><circle cx="1547" cy="527"/><circle cx="1206" cy="614"/><circle cx="1319" cy="372"/><circle cx="1518" cy="442"/><circle cx="1203" cy="80"/><circle cx="1453" cy="462"/><circle cx="1348" cy="233"/><circle cx="1475" cy="233"/><circle cx="1403" cy="89"/><circle cx="1331" cy="480"/><circle cx="1372" cy="247"/><circle cx="1324" cy="83"/><circle cx="1342" cy="297"/><circle cx="1610" cy="543"/><circle cx="1195" cy="201"/><circle cx="1365" cy="137"/><circle cx="1601" cy="162"/><circle cx="1410" cy="578"/><circle cx="1224" cy="89"/><circle cx="1341" cy="582"/><circle cx="1403" cy="147"/><circle cx="1249" cy="648"/><circle cx="1367" cy="549"/><circle cx="1450" cy="338"/><circle cx="1329" cy="145"/><circle cx="1453" cy="238"/><circle cx="1512" cy="37"/><circle cx="1166" cy="421"/><circle cx="1566" cy="529"/><circle cx="1584" cy="170"/><circle cx="1577" cy="85"/><circle cx="1433" cy="182"/><circle cx="1479" cy="143"/><circle cx="1388" cy="239"/><circle cx="1397" cy="340"/><circle cx="1426" cy="98"/><circle cx="1423" cy="599"/><circle cx="1436" cy="536"/><circle cx="1387" cy="76"/><circle cx="1314" cy="529"/><circle cx="1450" cy="323"/><circle cx="1538" cy="409"/><circle cx="1270" cy="227"/><circle cx="1516" cy="198"/><circle cx="1423" cy="300"/><circle cx="1593" cy="622"/><circle cx="1584" cy="276"/><circle cx="1215" cy="598"/><circle cx="1379" cy="282"/><circle cx="1498" cy="386"/><circle cx="1330" cy="340"/><circle cx="1313" cy="364"/><circle cx="1217" cy="166"/><circle cx="1463" cy="620"/><circle cx="1381" cy="385"/><circle cx="1400" cy="649"/><circle cx="1463" cy="196"/><circle cx="1491" cy="539"/><circle cx="1211" cy="581"/><circle cx="1277" cy="71"/><circle cx="1349" cy="374"/><circle cx="1227" cy="57"/><circle cx="1454" cy="534"/><circle cx="1537" cy="368"/><circle cx="1369" cy="119"/><circle cx="1454" cy="402"/><circle cx="1316" cy="615"/><circle cx="1317" cy="386"/><circle cx="1584" cy="242"/><circle cx="1422" cy="82"/><circle cx="1374" cy="191"/><circle cx="1540" cy="284"/><circle cx="1333" cy="173"/><circle cx="1600" cy="117"/><circle cx="1597" cy="539"/><circle cx="1553" cy="301"/><circle cx="1358" cy="296"/><circle cx="1328" cy="125"/><circle cx="1164" cy="48"/><circle cx="1461" cy="299"/><circle cx="1491" cy="267"/><circle cx="1438" cy="249"/><circle cx="1340" cy="618"/><circle cx="1357" cy="277"/><circle cx="1610" cy="121"/><circle cx="1494" cy="165"/><circle cx="1221" cy="572"/><circle cx="1345" cy="606"/><circle cx="1557" cy="217"/><circle cx="1440" cy="119"/><circle cx="1596" cy="140"/><circle cx="1433" cy="538"/><circle cx="1435" cy="82"/><circle cx="1280" cy="243"/><circle cx="1646" cy="240"/><circle cx="1524" cy="451"/><circle cx="1772" cy="502"/><circle cx="1408" cy="327"/><circle cx="1286" cy="466"/><circle cx="1445" cy="248"/><circle cx="1287" cy="315"/><circle cx="1301" cy="608"/><circle cx="1498" cy="558"/><circle cx="1517" cy="292"/><circle cx="1333" cy="465"/><circle cx="1403" cy="335"/><circle cx="1366" cy="292"/><circle cx="1471" cy="150"/><circle cx="1418" cy="176"/><circle cx="1513" cy="134"/><circle cx="1398" cy="403"/><circle cx="1271" cy="544"/><circle cx="1274" cy="497"/><circle cx="1338" cy="220"/><circle cx="1327" cy="391"/><circle cx="1573" cy="230"/><circle cx="1567" cy="178"/><circle cx="1591" cy="532"/><circle cx="1469" cy="297"/><circle cx="1340" cy="400"/><circle cx="1506" cy="482"/><circle cx="1381" cy="258"/><circle cx="1213" cy="569"/><circle cx="1611" cy="553"/><circle cx="1249" cy="637"/><circle cx="1457" cy="529"/><circle cx="1425" cy="550"/><circle cx="1185" cy="390"/><circle cx="1216" cy="388"/><circle cx="1366" cy="479"/><circle cx="1740" cy="590"/><circle cx="1287" cy="629"/><circle cx="1421" cy="572"/><circle cx="1391" cy="35"/><circle cx="1380" cy="206"/><circle cx="1531" cy="370"/><circle cx="1336" cy="125"/><circle cx="1373" cy="268"/><circle cx="1247" cy="216"/><circle cx="1321" cy="247"/><circle cx="1588" cy="254"/><circle cx="1388" cy="106"/><circle cx="1311" cy="626"/><circle cx="1294" cy="42"/><circle cx="1405" cy="68"/><circle cx="1484" cy="41"/><circle cx="1732" cy="453"/><circle cx="1519" cy="310"/><circle cx="1394" cy="214"/><circle cx="1528" cy="245"/><circle cx="1460" cy="92"/><circle cx="1189" cy="427"/><circle cx="1398" cy="178"/><circle cx="1525" cy="368"/><circle cx="1313" cy="71"/><circle cx="1529" cy="393"/><circle cx="1428" cy="276"/><circle cx="1750" cy="446"/><circle cx="1285" cy="365"/><circle cx="1367" cy="300"/><circle cx="1483" cy="279"/><circle cx="1305" cy="261"/><circle cx="1530" cy="592"/><circle cx="1420" cy="478"/><circle cx="1528" cy="253"/><circle cx="1323" cy="44"/><circle cx="1394" cy="152"/><circle cx="1399" cy="308"/><circle cx="1437" cy="600"/><circle cx="1785" cy="590"/><circle cx="1435" cy="299"/><circle cx="1456" cy="300"/><circle cx="1327" cy="172"/><circle cx="1603" cy="401"/><circle cx="1408" cy="168"/><circle cx="1291" cy="41"/><circle cx="1431" cy="113"/><circle cx="1425" cy="55"/><circle cx="1465" cy="205"/><circle cx="1449" cy="66"/><circle cx="1456" cy="144"/><circle cx="1248" cy="36"/><circle cx="1512" cy="129"/><circle cx="1295" cy="412"/><circle cx="1615" cy="80"/><circle cx="1611" cy="61"/><circle cx="1267" cy="636"/><circle cx="1339" cy="76"/><circle cx="1460" cy="588"/><circle cx="1433" cy="257"/><circle cx="1493" cy="648"/><circle cx="1580" cy="545"/><circle cx="1338" cy="117"/><circle cx="1595" cy="394"/><circle cx="1211" cy="110"/><circle cx="1599" cy="182"/><circle cx="1441" cy="581"/><circle cx="1480" cy="604"/><circle cx="1286" cy="537"/><circle cx="1196" cy="440"/><circle cx="1375" cy="595"/><circle cx="1422" cy="38"/><circle cx="1249" cy="636"/><circle cx="1202" cy="120"/><circle cx="1526" cy="459"/><circle cx="1296" cy="219"/><circle cx="1274" cy="406"/><circle cx="1443" cy="315"/><circle cx="1286" cy="482"/><circle cx="1489" cy="95"/><circle cx="1467" cy="50"/><circle cx="1367" cy="64"/><circle cx="1499" cy="606"/><circle cx="1584" cy="430"/><circle cx="1435" cy="615"/><circle cx="1472" cy="201"/><circle cx="1564" cy="47"/><circle cx="1428" cy="322"/><circle cx="1506" cy="76"/><circle cx="1402" cy="262"/><circle cx="1332" cy="447"/><circle cx="1508" cy="41"/><circle cx="1700" cy="316"/><circle cx="1574" cy="467"/><circle cx="1320" cy="76"/><circle cx="1349" cy="175"/><circle cx="1164" cy="72"/><circle cx="1391" cy="640"/><circle cx="1395" cy="291"/><circle cx="1439" cy="623"/><circle cx="1377" cy="41"/><circle cx="1356" cy="380"/><circle cx="1416" cy="34"/><circle cx="1298" cy="343"/><circle cx="1387" cy="282"/><circle cx="1307" cy="45"/><circle cx="1816" cy="512"/><circle cx="1438" cy="178"/><circle cx="1481" cy="592"/><circle cx="1702" cy="158"/><circle cx="1606" cy="151"/><circle cx="1495" cy="478"/><circle cx="1347" cy="104"/><circle cx="1380" cy="124"/><circle cx="1339" cy="142"/><circle cx="1504" cy="397"/><circle cx="1484" cy="210"/><circle cx="1601" cy="129"/><circle cx="1385" cy="305"/><circle cx="1565" cy="253"/><circle cx="1575" cy="298"/><circle cx="1423" cy="592"/><circle cx="1501" cy="356"/><circle cx="1764" cy="355"/><circle cx="1696" cy="632"/><circle cx="1560" cy="242"/><circle cx="1511" cy="445"/><circle cx="1315" cy="281"/><circle cx="1540" cy="93"/><circle cx="1408" cy="543"/><circle cx="1363" cy="148"/><circle cx="1570" cy="460"/><circle cx="1461" cy="49"/><circle cx="1272" cy="183"/><circle cx="1330" cy="252"/><circle cx="1278" cy="608"/><circle cx="1801" cy="210"/><circle cx="1534" cy="637"/><circle cx="1404" cy="438"/><circle cx="1311" cy="38"/><circle cx="1338" cy="423"/><circle cx="1401" cy="449"/><circle cx="1560" cy="198"/><circle cx="1168" cy="412"/><circle cx="1299" cy="470"/><circle cx="1585" cy="400"/><circle cx="1599" cy="479"/><circle cx="1267" cy="631"/><circle cx="1383" cy="110"/><circle cx="1472" cy="151"/><circle cx="1525" cy="101"/><circle cx="1272" cy="492"/><circle cx="1343" cy="286"/><circle cx="1419" cy="43"/><circle cx="1465" cy="514"/><circle cx="1391" cy="627"/><circle cx="1322" cy="84"/><circle cx="1445" cy="166"/><circle cx="1384" cy="307"/><circle cx="1259" cy="393"/><circle cx="1356" cy="48"/><circle cx="1405" cy="442"/><circle cx="1440" cy="320"/><circle cx="1440" cy="219"/><circle cx="1671" cy="526"/><circle cx="1279" cy="634"/><circle cx="1421" cy="38"/><circle cx="1656" cy="237"/><circle cx="1368" cy="309"/><circle cx="1309" cy="61"/><circle cx="1231" cy="54"/><circle cx="1362" cy="456"/><circle cx="1500" cy="553"/><circle cx="1230" cy="63"/><circle cx="1658" cy="499"/><circle cx="1496" cy="50"/><circle cx="1282" cy="493"/><circle cx="1668" cy="287"/><circle cx="1429" cy="451"/><circle cx="1288" cy="219"/><circle cx="1502" cy="231"/><circle cx="1299" cy="541"/><circle cx="1433" cy="231"/><circle cx="1525" cy="51"/><circle cx="1420" cy="126"/><circle cx="1480" cy="346"/><circle cx="1339" cy="416"/><circle cx="1379" cy="388"/><circle cx="1785" cy="607"/><circle cx="1582" cy="575"/><circle cx="1402" cy="142"/><circle cx="1417" cy="80"/><circle cx="1281" cy="378"/><circle cx="1645" cy="600"/><circle cx="1360" cy="581"/><circle cx="1755" cy="617"/><circle cx="1474" cy="418"/><circle cx="1304" cy="547"/><circle cx="1473" cy="306"/><circle cx="1492" cy="301"/><circle cx="1700" cy="127"/><circle cx="1707" cy="541"/><circle cx="1347" cy="73"/><circle cx="1329" cy="135"/><circle cx="1400" cy="189"/><circle cx="1435" cy="497"/><circle cx="1386" cy="215"/><circle cx="1435" cy="636"/><circle cx="1292" cy="622"/><circle cx="1452" cy="288"/><circle cx="1323" cy="128"/><circle cx="1562" cy="230"/><circle cx="1593" cy="451"/><circle cx="1458" cy="432"/><circle cx="1380" cy="268"/><circle cx="1463" cy="261"/><circle cx="1506" cy="283"/><circle cx="1354" cy="598"/><circle cx="1462" cy="188"/><circle cx="1459" cy="629"/><circle cx="1168" cy="35"/><circle cx="1399" cy="645"/><circle cx="1217" cy="147"/><circle cx="1385" cy="261"/><circle cx="1575" cy="162"/><circle cx="1469" cy="260"/><circle cx="1451" cy="535"/><circle cx="1518" cy="499"/><circle cx="1241" cy="650"/><circle cx="1348" cy="457"/><circle cx="1414" cy="439"/><circle cx="1366" cy="313"/><circle cx="1356" cy="489"/><circle cx="1321" cy="97"/><circle cx="1412" cy="345"/><circle cx="1557" cy="289"/><circle cx="1374" cy="270"/><circle cx="1324" cy="188"/><circle cx="1256" cy="604"/><circle cx="1464" cy="282"/><circle cx="1766" cy="232"/><circle cx="1504" cy="35"/><circle cx="1650" cy="586"/><circle cx="1513" cy="72"/><circle cx="1619" cy="539"/><circle cx="1783" cy="383"/><circle cx="1389" cy="160"/><circle cx="1310" cy="559"/><circle cx="1234" cy="88"/><circle cx="1250" cy="96"/><circle cx="1337" cy="194"/><circle cx="1562" cy="55"/><circle cx="1334" cy="563"/><circle cx="1349" cy="266"/><circle cx="1307" cy="179"/><circle cx="1524" cy="91"/><circle cx="1727" cy="637"/><circle cx="1525" cy="399"/><circle cx="1320" cy="359"/><circle cx="1207" cy="593"/><circle cx="1431" cy="247"/><circle cx="1295" cy="133"/><circle cx="1394" cy="183"/><circle cx="1390" cy="52"/><circle cx="1490" cy="209"/><circle cx="1468" cy="484"/><circle cx="1612" cy="522"/><circle cx="1556" cy="233"/><circle cx="1408" cy="628"/><circle cx="1301" cy="74"/><circle cx="1500" cy="475"/><circle cx="1388" cy="187"/><circle cx="1470" cy="340"/><circle cx="1360" cy="215"/><circle cx="1372" cy="395"/><circle cx="1373" cy="282"/><circle cx="1302" cy="257"/><circle cx="1521" cy="222"/><circle cx="1341" cy="181"/><circle cx="1479" cy="640"/><circle cx="1416" cy="390"/><circle cx="1532" cy="548"/><circle cx="1493" cy="51"/><circle cx="1306" cy="69"/><circle cx="1326" cy="82"/><circle cx="1623" cy="572"/><circle cx="1640" cy="530"/><circle cx="1427" cy="413"/><circle cx="1216" cy="57"/><circle cx="1367" cy="54"/><circle cx="1323" cy="212"/><circle cx="1433" cy="232"/><circle cx="1580" cy="139"/><circle cx="1165" cy="128"/><circle cx="1290" cy="461"/><circle cx="1191" cy="613"/><circle cx="1293" cy="561"/><circle cx="1448" cy="173"/><circle cx="1808" cy="550"/><circle cx="1465" cy="57"/><circle cx="1551" cy="72"/><circle cx="1352" cy="81"/><circle cx="1507" cy="273"/><circle cx="1763" cy="583"/><circle cx="1392" cy="123"/><circle cx="1378" cy="639"/><circle cx="1536" cy="139"/><circle cx="1599" cy="391"/><circle cx="1283" cy="454"/><circle cx="1427" cy="67"/><circle cx="1382" cy="561"/><circle cx="1242" cy="42"/><circle cx="1615" cy="434"/><circle cx="1360" cy="229"/><circle cx="1539" cy="167"/><circle cx="1583" cy="204"/><circle cx="1668" cy="378"/><circle cx="1460" cy="275"/><circle cx="1332" cy="414"/><circle cx="1234" cy="67"/><circle cx="1349" cy="392"/><circle cx="1350" cy="270"/><circle cx="1330" cy="81"/><circle cx="1329" cy="45"/><circle cx="1290" cy="135"/><circle cx="1581" cy="67"/><circle cx="1315" cy="43"/><circle cx="1307" cy="648"/><circle cx="1454" cy="123"/><circle cx="1435" cy="318"/><circle cx="1264" cy="565"/><circle cx="1413" cy="484"/><circle cx="1408" cy="317"/><circle cx="1717" cy="535"/><circle cx="1329" cy="571"/><circle cx="1618" cy="104"/><circle cx="1423" cy="151"/><circle cx="1355" cy="130"/><circle cx="1436" cy="68"/><circle cx="1349" cy="224"/><circle cx="1349" cy="80"/><circle cx="1520" cy="604"/><circle cx="1383" cy="262"/><circle cx="1459" cy="103"/><circle cx="1307" cy="361"/><circle cx="1331" cy="415"/><circle cx="1252" cy="49"/><circle cx="1821" cy="296"/><circle cx="1319" cy="89"/><circle cx="1777" cy="648"/><circle cx="1595" cy="128"/><circle cx="1306" cy="213"/><circle cx="1328" cy="49"/><circle cx="1386" cy="543"/><circle cx="1400" cy="218"/><circle cx="1763" cy="200"/><circle cx="1350" cy="372"/><circle cx="1206" cy="297"/><circle cx="1457" cy="468"/><circle cx="1366" cy="558"/><circle cx="1408" cy="293"/><circle cx="1443" cy="587"/><circle cx="1673" cy="156"/><circle cx="1566" cy="142"/><circle cx="1396" cy="142"/><circle cx="1306" cy="503"/><circle cx="1580" cy="200"/><circle cx="1353" cy="231"/><circle cx="1740" cy="612"/><circle cx="1464" cy="323"/><circle cx="1800" cy="627"/><circle cx="1312" cy="228"/><circle cx="1535" cy="56"/><circle cx="1376" cy="439"/><circle cx="1241" cy="99"/><circle cx="1183" cy="66"/><circle cx="1573" cy="44"/><circle cx="1445" cy="68"/><circle cx="1258" cy="82"/><circle cx="1557" cy="239"/><circle cx="1298" cy="614"/><circle cx="1367" cy="88"/><circle cx="1812" cy="56"/><circle cx="1370" cy="259"/><circle cx="1421" cy="161"/><circle cx="1584" cy="35"/><circle cx="1279" cy="370"/><circle cx="1210" cy="492"/><circle cx="1228" cy="380"/><circle cx="1353" cy="49"/><circle cx="1254" cy="613"/><circle cx="1374" cy="290"/><circle cx="1394" cy="304"/><circle cx="1526" cy="468"/><circle cx="1289" cy="604"/><circle cx="1563" cy="76"/><circle cx="1272" cy="198"/><circle cx="1784" cy="522"/><circle cx="1502" cy="526"/><circle cx="1376" cy="283"/><circle cx="1531" cy="115"/><circle cx="1815" cy="604"/><circle cx="1560" cy="465"/><circle cx="1326" cy="200"/><circle cx="1610" cy="504"/><circle cx="1739" cy="284"/><circle cx="1376" cy="100"/><circle cx="1275" cy="602"/><circle cx="1506" cy="63"/><circle cx="1451" cy="84"/><circle cx="1421" cy="70"/><circle cx="1575" cy="318"/><circle cx="1509" cy="44"/><circle cx="1424" cy="217"/><circle cx="1464" cy="108"/><circle cx="1311" cy="555"/><circle cx="1483" cy="115"/><circle cx="1554" cy="400"/><circle cx="1285" cy="130"/><circle cx="1504" cy="591"/><circle cx="1169" cy="96"/><circle cx="1441" cy="625"/><circle cx="1308" cy="250"/><circle cx="1318" cy="100"/><circle cx="1548" cy="518"/><circle cx="1181" cy="66"/><circle cx="1590" cy="52"/><circle cx="1378" cy="575"/><circle cx="1716" cy="243"/><circle cx="1672" cy="602"/><circle cx="1317" cy="537"/><circle cx="1601" cy="399"/><circle cx="1460" cy="116"/><circle cx="1499" cy="609"/><circle cx="1589" cy="489"/><circle cx="1346" cy="89"/><circle cx="1328" cy="570"/><circle cx="1468" cy="288"/><circle cx="1470" cy="599"/><circle cx="1414" cy="69"/><circle cx="1382" cy="610"/><circle cx="1566" cy="492"/><circle cx="1184" cy="490"/><circle cx="1724" cy="310"/><circle cx="1379" cy="232"/><circle cx="1427" cy="351"/><circle cx="1174" cy="586"/><circle cx="1433" cy="75"/><circle cx="1366" cy="146"/><circle cx="1267" cy="636"/><circle cx="1506" cy="106"/><circle cx="1472" cy="537"/><circle cx="1570" cy="270"/><circle cx="1378" cy="393"/><circle cx="1772" cy="150"/><circle cx="1466" cy="330"/><circle cx="1407" cy="101"/><circle cx="1418" cy="639"/><circle cx="1442" cy="298"/><circle cx="1740" cy="325"/><circle cx="1370" cy="58"/><circle cx="1267" cy="368"/><circle cx="1573" cy="177"/><circle cx="1450" cy="308"/><circle cx="1552" cy="405"/><circle cx="1411" cy="143"/><circle cx="1521" cy="524"/><circle cx="1234" cy="94"/><circle cx="1392" cy="232"/><circle cx="1595" cy="90"/><circle cx="1424" cy="277"/><circle cx="1582" cy="230"/><circle cx="1177" cy="47"/><circle cx="1447" cy="321"/><circle cx="1309" cy="105"/><circle cx="1325" cy="250"/><circle cx="1578" cy="187"/><circle cx="1484" cy="206"/><circle cx="1332" cy="78"/><circle cx="1202" cy="53"/><circle cx="1361" cy="240"/><circle cx="1517" cy="260"/><circle cx="1445" cy="73"/><circle cx="1343" cy="552"/><circle cx="1440" cy="648"/><circle cx="1412" cy="561"/><circle cx="1305" cy="408"/><circle cx="1751" cy="234"/><circle cx="1543" cy="383"/><circle cx="1399" cy="548"/><circle cx="1470" cy="86"/><circle cx="1596" cy="59"/><circle cx="1491" cy="270"/><circle cx="1532" cy="373"/><circle cx="1575" cy="159"/><circle cx="1307" cy="52"/><circle cx="1445" cy="305"/><circle cx="1383" cy="556"/><circle cx="1806" cy="40"/><circle cx="1207" cy="461"/><circle cx="1483" cy="145"/><circle cx="1502" cy="647"/><circle cx="1233" cy="122"/><circle cx="1392" cy="618"/><circle cx="1399" cy="36"/><circle cx="1445" cy="249"/><circle cx="1282" cy="117"/><circle cx="1392" cy="83"/><circle cx="1370" cy="282"/><circle cx="1466" cy="113"/><circle cx="1426" cy="352"/><circle cx="1426" cy="276"/><circle cx="1242" cy="64"/><circle cx="1578" cy="327"/><circle cx="1596" cy="507"/><circle cx="1648" cy="408"/><circle cx="1566" cy="575"/><circle cx="1530" cy="335"/><circle cx="1543" cy="47"/><circle cx="1608" cy="626"/><circle cx="1373" cy="317"/><circle cx="1288" cy="447"/><circle cx="1271" cy="380"/><circle cx="1339" cy="649"/><circle cx="1405" cy="44"/><circle cx="1597" cy="637"/><circle cx="1336" cy="508"/><circle cx="1379" cy="304"/><circle cx="1362" cy="168"/></g><g fill-opacity="0.55"><use href="#pl" x="1292" y="456" fill="#ff6f00"/><use href="#pl" x="1553" y="341" fill="#ff2f00"/><use href="#pl" x="1586" y="432" fill="#ff1b00"/><use href="#pl" x="1313" y="314" fill="#ff4800"/><use href="#pl" x="1467" y="454" fill="#ff3300"/><use href="#pl" x="1347" y="380" fill="#ff0000"/><use href="#pl" x="1453" y="352" fill="#ff4f00"/><use href="#pl" x="1402" y="433" fill="#ff0400"/><use href="#pl" x="1447" y="341" fill="#ff6000"/><use href="#pl" x="1579" y="498" fill="#ff1a00"/><use href="#pl" x="1330" y="408" fill="#ff0600"/><use href="#pl" x="1647" y="322" fill="#ff9900"/><use href="#pl" x="1439" y="317" fill="#ff2d00"/><use href="#pl" x="1427" y="503" fill="#ff0300"/><use href="#pl" x="1406" y="335" fill="#ff1d00"/><use href="#pl" x="1385" y="478" fill="#ff1100"/><use href="#pl" x="1400" y="477" fill="#ff0500"/><use href="#pl" x="1395" y="370" fill="#ff0000"/><use href="#pl" x="1447" y="283" fill="#ff5f00"/><use href="#pl" x="1585" y="374" fill="#ff0b00"/><use href="#pl" x="1273" y="571" fill="#ff4300"/><use href="#pl" x="1363" y="360" fill="#ff4600"/><use href="#pl" x="1383" y="395" fill="#ff0000"/><use href="#pl" x="1374" y="442" fill="#ff0000"/><use href="#pl" x="1390" y="497" fill="#ff0a00"/><use href="#pl" x="1366" y="452" fill="#ff0d00"/><use href="#pl" x="1568" y="484" fill="#ff2200"/><use href="#pl" x="1356" y="400" fill="#ff2700"/><use href="#pl" x="1336" y="434" fill="#ff0a00"/><use href="#pl" x="1368" y="448" fill="#ff0000"/><use href="#pl" x="1418" y="419" fill="#ff1100"/><use href="#pl" x="1413" y="432" fill="#ff0000"/><use href="#pl" x="1313" y="414" fill="#ff5f00"/><use href="#pl" x="1350" y="533" fill="#ff3c00"/><use href="#pl" x="1578" y="414" fill="#ff3400"/><use href="#pl" x="1406" y="416" fill="#ff0000"/><use href="#pl" x="1364" y="381" fill="#ff2200"/><use href="#pl" x="1384" y="440" fill="#ff1500"/><use href="#pl" x="1547" y="262" fill="#ff5600"/><use href="#pl" x="1370" y="341" fill="#ff5000"/><use href="#pl" x="1433" y="370" fill="#ff2300"/><use href="#pl" x="1545" y="86" fill="#ff7300"/><use href="#pl" x="1504" y="537" fill="#ff5200"/><use href="#pl" x="1395" y="421" fill="#ff3200"/><use href="#pl" x="1362" y="201" fill="#ff5d00"/><use href="#pl" x="1383" y="425" fill="#ff1700"/><use href="#pl" x="1372" y="390" fill="#ff6b00"/><use href="#pl" x="1318" y="418" fill="#ff8500"/><use href="#pl" x="1414" y="414" fill="#ff0f00"/><use href="#pl" x="1340" y="519" fill="#ff4600"/><use href="#pl" x="1420" y="520" fill="#ff2700"/><use href="#pl" x="1361" y="272" fill="#ff3a00"/><use href="#pl" x="1477" y="564" fill="#ff5c00"/><use href="#pl" x="1394" y="367" fill="#ff8000"/><use href="#pl" x="1389" y="338" fill="#ff0900"/><use href="#pl" x="1632" y="395" fill="#ff3c00"/><use href="#pl" x="1412" y="471" fill="#ff0000"/><use href="#pl" x="1459" y="528" fill="#ff6700"/><use href="#pl" x="1609" y="480" fill="#ff2a00"/><use href="#pl" x="1397" y="441" fill="#ff1a00"/><use href="#pl" x="1393" y="456" fill="#ff0200"/><use href="#pl" x="1455" y="331" fill="#ff6500"/><use href="#pl" x="1385" y="422" fill="#ff7f00"/><use href="#pl" x="1320" y="446" fill="#ff8d00"/><use href="#pl" x="1398" y="284" fill="#ff9200"/><use href="#pl" x="1427" y="349" fill="#ff0d00"/><use href="#pl" x="1397" y="480" fill="#ff1100"/><use href="#pl" x="1308" y="509" fill="#ff4a00"/><use href="#pl" x="1409" y="429" fill="#ff2d00"/><use href="#pl" x="1410" y="269" fill="#ff6000"/><use href="#pl" x="1506" y="518" fill="#ff5d00"/><use href="#pl" x="1424" y="390" fill="#ff3700"/><use href="#pl" x="1451" y="554" fill="#ff6700"/><use href="#pl" x="1393" y="469" fill="#ff0000"/><use href="#pl" x="1488" y="546" fill="#ff5e00"/><use href="#pl" x="1353" y="499" fill="#ff1800"/><use href="#pl" x="1426" y="367" fill="#ff2300"/><use href="#pl" x="1417" y="409" fill="#ff0000"/><use href="#pl" x="1638" y="345" fill="#ff6700"/><use href="#pl" x="1422" y="500" fill="#ff3600"/><use href="#pl" x="1391" y="477" fill="#ff0400"/><use href="#pl" x="1371" y="420" fill="#ff3700"/><use href="#pl" x="1525" y="215" fill="#ff8e00"/><use href="#pl" x="1554" y="329" fill="#ff5b00"/><use href="#pl" x="1357" y="465" fill="#ff0000"/><use href="#pl" x="1385" y="516" fill="#ff1000"/><use href="#pl" x="1467" y="271" fill="#ff0400"/><use href="#pl" x="1462" y="498" fill="#ff4c00"/><use href="#pl" x="1330" y="412" fill="#ff2300"/><use href="#pl" x="1394" y="433" fill="#ff0c00"/><use href="#pl" x="1385" y="468" fill="#ff0000"/><use href="#pl" x="1351" y="332" fill="#ff5200"/><use href="#pl" x="1289" y="305" fill="#ff2600"/><use href="#pl" x="1428" y="341" fill="#ff3400"/><use href="#pl" x="1522" y="270" fill="#ff8400"/><use href="#pl" x="1636" y="360" fill="#ff3500"/><use href="#pl" x="1366" y="457" fill="#ff0000"/><use href="#pl" x="1384" y="373" fill="#ff2a00"/><use href="#pl" x="1384" y="478" fill="#ff0000"/><use href="#pl" x="1374" y="461" fill="#ff3e00"/><use href="#pl" x="1342" y="492" fill="#ff3700"/><use href="#pl" x="1377" y="452" fill="#ff0500"/><use href="#pl" x="1522" y="310" fill="#ff4c00"/><use href="#pl" x="1363" y="510" fill="#ff6300"/><use href="#pl" x="1387" y="409" fill="#ff0500"/><use href="#pl" x="1354" y="316" fill="#ff4400"/><use href="#pl" x="1364" y="473" fill="#ff2700"/><use href="#pl" x="1386" y="425" fill="#ff0200"/><use href="#pl" x="1425" y="373" fill="#ff1d00"/><use href="#pl" x="1372" y="451" fill="#ff0900"/><use href="#pl" x="1430" y="499" fill="#ff1500"/><use href="#pl" x="1363" y="355" fill="#ff2100"/><use href="#pl" x="1358" y="392" fill="#ff0900"/><use href="#pl" x="1406" y="465" fill="#ff0000"/><use href="#pl" x="1315" y="438" fill="#ff6d00"/><use href="#pl" x="1472" y="382" fill="#ff2400"/><use href="#pl" x="1545" y="300" fill="#ff6400"/><use href="#pl" x="1435" y="492" fill="#ff1c00"/><use href="#pl" x="1395" y="399" fill="#ff0000"/><use href="#pl" x="1431" y="448" fill="#ff0000"/><use href="#pl" x="1391" y="482" fill="#ff1600"/><use href="#pl" x="1408" y="473" fill="#ff0a00"/><use href="#pl" x="1715" y="427" fill="#ff6700"/><use href="#pl" x="1633" y="467" fill="#ff7700"/><use href="#pl" x="1420" y="432" fill="#ff3100"/><use href="#pl" x="1250" y="592" fill="#ff7300"/><use href="#pl" x="1447" y="460" fill="#ff1900"/><use href="#pl" x="1692" y="477" fill="#ff6a00"/><use href="#pl" x="1455" y="196" fill="#ff7400"/><use href="#pl" x="1375" y="371" fill="#ff0700"/><use href="#pl" x="1426" y="437" fill="#ff0200"/><use href="#pl" x="1552" y="435" fill="#ff5400"/><use href="#pl" x="1418" y="438" fill="#ff0000"/><use href="#pl" x="1405" y="471" fill="#ff0000"/><use href="#pl" x="1556" y="395" fill="#ff3600"/><use href="#pl" x="1447" y="532" fill="#ff7c00"/><use href="#pl" x="1457" y="305" fill="#ff8700"/><use href="#pl" x="1474" y="379" fill="#ff0a00"/><use href="#pl" x="1390" y="413" fill="#ff0000"/><use href="#pl" x="1394" y="423" fill="#ff0500"/><use href="#pl" x="1526" y="331" fill="#ff5000"/><use href="#pl" x="1386" y="454" fill="#ff5700"/><use href="#pl" x="1525" y="526" fill="#ff3900"/><use href="#pl" x="1391" y="383" fill="#ff1800"/><use href="#pl" x="1504" y="514" fill="#ff3800"/><use href="#pl" x="1518" y="260" fill="#ff4800"/><use href="#pl" x="1527" y="455" fill="#ff6200"/><use href="#pl" x="1720" y="551" fill="#ff6300"/><use href="#pl" x="1411" y="479" fill="#ff1b00"/><use href="#pl" x="1620" y="322" fill="#ff4000"/><use href="#pl" x="1356" y="516" fill="#ff9e00"/><use href="#pl" x="1369" y="418" fill="#ff0b00"/><use href="#pl" x="1418" y="456" fill="#ff1d00"/><use href="#pl" x="1421" y="430" fill="#ff1d00"/><use href="#pl" x="1417" y="317" fill="#ff4600"/><use href="#pl" x="1367" y="468" fill="#ff0000"/><use href="#pl" x="1412" y="428" fill="#ff0300"/><use href="#pl" x="1466" y="385" fill="#ff2000"/><use href="#pl" x="1352" y="402" fill="#ff0600"/><use href="#pl" x="1413" y="424" fill="#ff0000"/><use href="#pl" x="1450" y="240" fill="#ff3600"/><use href="#pl" x="1412" y="403" fill="#ff0000"/><use href="#pl" x="1690" y="305" fill="#ff8000"/><use href="#pl" x="1380" y="396" fill="#ff0000"/><use href="#pl" x="1414" y="257" fill="#ff4a00"/><use href="#pl" x="1377" y="434" fill="#ff0200"/><use href="#pl" x="1361" y="429" fill="#ff0000"/><use href="#pl" x="1404" y="498" fill="#ff1500"/><use href="#pl" x="1446" y="320" fill="#ff6400"/><use href="#pl" x="1371" y="419" fill="#ff0300"/><use href="#pl" x="1570" y="529" fill="#ff7a00"/><use href="#pl" x="1362" y="552" fill="#ff3600"/><use href="#pl" x="1383" y="392" fill="#ff1f00"/><use href="#pl" x="1417" y="410" fill="#ff0000"/><use href="#pl" x="1361" y="411" fill="#ff8800"/><use href="#pl" x="1391" y="389" fill="#ff0000"/><use href="#pl" x="1326" y="453" fill="#ff5000"/><use href="#pl" x="1424" y="386" fill="#ff2600"/><use href="#pl" x="1386" y="430" fill="#ff0a00"/><use href="#pl" x="1368" y="476" fill="#ff2600"/><use href="#pl" x="1416" y="313" fill="#ff3800"/><use href="#pl" x="1374" y="503" fill="#ff5a00"/><use href="#pl" x="1397" y="490" fill="#ff0600"/><use href="#pl" x="1368" y="443" fill="#ff0100"/><use href="#pl" x="1361" y="548" fill="#ff3200"/><use href="#pl" x="1359" y="438" fill="#ff0000"/><use href="#pl" x="1482" y="452" fill="#ff1600"/><use href="#pl" x="1449" y="452" fill="#ff3300"/><use href="#pl" x="1326" y="343" fill="#ff7100"/><use href="#pl" x="1416" y="518" fill="#ff0c00"/><use href="#pl" x="1414" y="447" fill="#ff3900"/><use href="#pl" x="1370" y="451" fill="#ff0600"/><use href="#pl" x="1367" y="428" fill="#ff0000"/><use href="#pl" x="1336" y="464" fill="#ff1800"/><use href="#pl" x="1430" y="429" fill="#ff0a00"/><use href="#pl" x="1331" y="390" fill="#ff1500"/><use href="#pl" x="1435" y="343" fill="#ff1f00"/><use href="#pl" x="1414" y="452" fill="#ff0100"/><use href="#pl" x="1398" y="401" fill="#ff4900"/><use href="#pl" x="1363" y="503" fill="#ff0000"/><use href="#pl" x="1402" y="515" fill="#ff3e00"/><use href="#pl" x="1386" y="448" fill="#ff1500"/><use href="#pl" x="1365" y="456" fill="#ff2300"/><use href="#pl" x="1327" y="438" fill="#ff2800"/><use href="#pl" x="1425" y="414" fill="#ff0000"/><use href="#pl" x="1384" y="480" fill="#ff1e00"/><use href="#pl" x="1418" y="431" fill="#ff0700"/><use href="#pl" x="1277" y="358" fill="#ff6e00"/><use href="#pl" x="1406" y="455" fill="#ff0000"/><use href="#pl" x="1426" y="383" fill="#ff0000"/><use href="#pl" x="1279" y="398" fill="#ff6f00"/><use href="#pl" x="1407" y="349" fill="#ff2300"/><use href="#pl" x="1477" y="395" fill="#ff3100"/><use href="#pl" x="1416" y="431" fill="#ff0000"/><use href="#pl" x="1565" y="319" fill="#ff7500"/><use href="#pl" x="1340" y="535" fill="#ff2900"/><use href="#pl" x="1624" y="570" fill="#ff6300"/><use href="#pl" x="1378" y="456" fill="#ff0000"/><use href="#pl" x="1356" y="470" fill="#ff0c00"/><use href="#pl" x="1492" y="245" fill="#ff2800"/><use href="#pl" x="1385" y="470" fill="#ff1400"/><use href="#pl" x="1363" y="438" fill="#ff0000"/><use href="#pl" x="1394" y="413" fill="#ff0300"/><use href="#pl" x="1330" y="440" fill="#ff2600"/><use href="#pl" x="1352" y="498" fill="#ff2800"/><use href="#pl" x="1355" y="526" fill="#ff3300"/><use href="#pl" x="1429" y="455" fill="#ff0400"/><use href="#pl" x="1393" y="461" fill="#ff0c00"/><use href="#pl" x="1417" y="443" fill="#ff0400"/><use href="#pl" x="1279" y="461" fill="#ff4600"/><use href="#pl" x="1436" y="352" fill="#ff4a00"/><use href="#pl" x="1455" y="405" fill="#ff4500"/><use href="#pl" x="1342" y="490" fill="#ff1000"/><use href="#pl" x="1398" y="421" fill="#ff0b00"/><use href="#pl" x="1379" y="462" fill="#ff5c00"/><use href="#pl" x="1384" y="479" fill="#ff0300"/><use href="#pl" x="1393" y="432" fill="#ff4d00"/><use href="#pl" x="1422" y="420" fill="#ff1000"/><use href="#pl" x="1529" y="488" fill="#ff2c00"/><use href="#pl" x="1533" y="343" fill="#ff6d00"/><use href="#pl" x="1475" y="228" fill="#ff0f00"/><use href="#pl" x="1410" y="466" fill="#ff0000"/><use href="#pl" x="1412" y="476" fill="#ff1900"/><use href="#pl" x="1359" y="404" fill="#ff2800"/><use href="#pl" x="1563" y="269" fill="#ff0400"/><use href="#pl" x="1436" y="396" fill="#ff0900"/><use href="#pl" x="1337" y="408" fill="#ff5900"/><use href="#pl" x="1360" y="435" fill="#ff1d00"/><use href="#pl" x="1568" y="479" fill="#ff3100"/><use href="#pl" x="1434" y="457" fill="#ff1a00"/><use href="#pl" x="1415" y="449" fill="#ff2600"/><use href="#pl" x="1448" y="475" fill="#ff9e00"/><use href="#pl" x="1313" y="264" fill="#ff7f00"/><use href="#pl" x="1359" y="423" fill="#ff1900"/><use href="#pl" x="1511" y="295" fill="#ff5400"/><use href="#pl" x="1354" y="492" fill="#ff1700"/><use href="#pl" x="1410" y="512" fill="#ff3000"/><use href="#pl" x="1408" y="400" fill="#ff0000"/><use href="#pl" x="1399" y="334" fill="#ff3f00"/><use href="#pl" x="1385" y="462" fill="#ff0000"/><use href="#pl" x="1382" y="404" fill="#ff1800"/><use href="#pl" x="1359" y="358" fill="#ff1a00"/><use href="#pl" x="1369" y="448" fill="#ff0500"/><use href="#pl" x="1425" y="431" fill="#ff0e00"/><use href="#pl" x="1365" y="423" fill="#ff0000"/><use href="#pl" x="1711" y="489" fill="#ff9e00"/><use href="#pl" x="1406" y="359" fill="#ff4b00"/><use href="#pl" x="1323" y="303" fill="#ff3100"/><use href="#pl" x="1386" y="445" fill="#ff0c00"/><use href="#pl" x="1721" y="351" fill="#ff5d00"/><use href="#pl" x="1300" y="299" fill="#ff9e00"/><use href="#pl" x="1373" y="528" fill="#ff4f00"/><use href="#pl" x="1327" y="403" fill="#ff5900"/><use href="#pl" x="1430" y="518" fill="#ff3700"/><use href="#pl" x="1532" y="512" fill="#ff7400"/><use href="#pl" x="1421" y="420" fill="#ff0600"/><use href="#pl" x="1396" y="385" fill="#ff6200"/><use href="#pl" x="1291" y="187" fill="#ff7b00"/><use href="#pl" x="1585" y="464" fill="#ff7100"/><use href="#pl" x="1358" y="439" fill="#ff0100"/><use href="#pl" x="1409" y="404" fill="#ff4a00"/><use href="#pl" x="1366" y="445" fill="#ff0000"/><use href="#pl" x="1420" y="460" fill="#ff4100"/><use href="#pl" x="1250" y="549" fill="#ff8400"/><use href="#pl" x="1392" y="394" fill="#ff0300"/><use href="#pl" x="1485" y="546" fill="#ff1300"/><use href="#pl" x="1462" y="313" fill="#ff4100"/><use href="#pl" x="1628" y="407" fill="#ff8200"/><use href="#pl" x="1373" y="585" fill="#ff2c00"/><use href="#pl" x="1347" y="505" fill="#ff6300"/><use href="#pl" x="1439" y="334" fill="#ff2f00"/><use href="#pl" x="1491" y="347" fill="#ff5600"/><use href="#pl" x="1376" y="401" fill="#ff0000"/><use href="#pl" x="1424" y="503" fill="#ff2300"/><use href="#pl" x="1360" y="430" fill="#ff2200"/><use href="#pl" x="1397" y="463" fill="#ff0000"/><use href="#pl" x="1462" y="222" fill="#ff4d00"/><use href="#pl" x="1411" y="450" fill="#ff0700"/><use href="#pl" x="1447" y="304" fill="#ff0d00"/><use href="#pl" x="1388" y="420" fill="#ff5000"/><use href="#pl" x="1405" y="458" fill="#ff2500"/><use href="#pl" x="1476" y="407" fill="#ff3300"/><use href="#pl" x="1418" y="413" fill="#ff0600"/><use href="#pl" x="1426" y="430" fill="#ff0400"/><use href="#pl" x="1444" y="508" fill="#ff4400"/><use href="#pl" x="1376" y="438" fill="#ff1200"/><use href="#pl" x="1378" y="455" fill="#ff4600"/><use href="#pl" x="1398" y="453" fill="#ff0600"/><use href="#pl" x="1424" y="336" fill="#ff9e00"/><use href="#pl" x="1405" y="416" fill="#ff0200"/><use href="#pl" x="1394" y="502" fill="#ff3b00"/><use href="#pl" x="1480" y="510" fill="#ff7000"/><use href="#pl" x="1562" y="344" fill="#ff6e00"/><use href="#pl" x="1418" y="443" fill="#ff0000"/><use href="#pl" x="1402" y="414" fill="#ff0000"/><use href="#pl" x="1404" y="462" fill="#ff0b00"/><use href="#pl" x="1379" y="282" fill="#ff7200"/><use href="#pl" x="1608" y="424" fill="#ff2e00"/><use href="#pl" x="1529" y="354" fill="#ff9400"/><use href="#pl" x="1462" y="374" fill="#ff1400"/><use href="#pl" x="1359" y="353" fill="#ff0500"/><use href="#pl" x="1341" y="432" fill="#ff3300"/><use href="#pl" x="1402" y="412" fill="#ff0000"/><use href="#pl" x="1424" y="428" fill="#ff5200"/><use href="#pl" x="1402" y="471" fill="#ff0900"/><use href="#pl" x="1439" y="317" fill="#ff0400"/><use href="#pl" x="1358" y="457" fill="#ff3600"/><use href="#pl" x="1535" y="478" fill="#ff5800"/><use href="#pl" x="1462" y="387" fill="#ff0100"/><use href="#pl" x="1348" y="351" fill="#ff4100"/><use href="#pl" x="1421" y="461" fill="#ff3a00"/><use href="#pl" x="1454" y="421" fill="#ff2500"/><use href="#pl" x="1422" y="435" fill="#ff2800"/><use href="#pl" x="1614" y="509" fill="#ff8d00"/><use href="#pl" x="1378" y="465" fill="#ff0000"/><use href="#pl" x="1434" y="495" fill="#ff4c00"/><use href="#pl" x="1573" y="435" fill="#ff8700"/><use href="#pl" x="1392" y="474" fill="#ff0300"/><use href="#pl" x="1473" y="380" fill="#ff2300"/><use href="#pl" x="1463" y="472" fill="#ff1e00"/><use href="#pl" x="1593" y="326" fill="#ff8000"/><use href="#pl" x="1405" y="455" fill="#ff0d00"/><use href="#pl" x="1567" y="335" fill="#ff4c00"/><use href="#pl" x="1432" y="452" fill="#ff2000"/><use href="#pl" x="1359" y="423" fill="#ff1500"/><use href="#pl" x="1413" y="365" fill="#ff3200"/><use href="#pl" x="1469" y="426" fill="#ff0000"/><use href="#pl" x="1516" y="292" fill="#ff4100"/><use href="#pl" x="1428" y="483" fill="#ff0000"/><use href="#pl" x="1509" y="557" fill="#ff4a00"/><use href="#pl" x="1408" y="288" fill="#ff4100"/><use href="#pl" x="1365" y="446" fill="#ff0000"/><use href="#pl" x="1416" y="426" fill="#ff0600"/><use href="#pl" x="1369" y="409" fill="#ff2300"/><use href="#pl" x="1393" y="427" fill="#ff0000"/><use href="#pl" x="1488" y="464" fill="#ff4800"/><use href="#pl" x="1475" y="368" fill="#ff4700"/><use href="#pl" x="1391" y="468" fill="#ff0000"/><use href="#pl" x="1392" y="419" fill="#ff2900"/><use href="#pl" x="1463" y="480" fill="#ff4d00"/><use href="#pl" x="1384" y="508" fill="#ff8200"/><use href="#pl" x="1361" y="432" fill="#ff1900"/><use href="#pl" x="1377" y="466" fill="#ff0000"/><use href="#pl" x="1403" y="417" fill="#ff0f00"/><use href="#pl" x="1428" y="273" fill="#ff7a00"/><use href="#pl" x="1437" y="470" fill="#ff3000"/><use href="#pl" x="1362" y="517" fill="#ff5300"/><use href="#pl" x="1483" y="408" fill="#ff1900"/><use href="#pl" x="1490" y="230" fill="#ff6800"/><use href="#pl" x="1617" y="458" fill="#ff4f00"/><use href="#pl" x="1364" y="365" fill="#ff0f00"/><use href="#pl" x="1589" y="283" fill="#ff8100"/><use href="#pl" x="1499" y="359" fill="#ff5800"/><use href="#pl" x="1403" y="419" fill="#ff0000"/><use href="#pl" x="1393" y="415" fill="#ff2a00"/><use href="#pl" x="1249" y="520" fill="#ff5a00"/><use href="#pl" x="1393" y="397" fill="#ff2200"/><use href="#pl" x="1384" y="403" fill="#ff0f00"/><use href="#pl" x="1375" y="474" fill="#ff4600"/><use href="#pl" x="1410" y="464" fill="#ff0000"/><use href="#pl" x="1315" y="279" fill="#ff3600"/><use href="#pl" x="1330" y="405" fill="#ff4c00"/><use href="#pl" x="1441" y="596" fill="#ff8900"/><use href="#pl" x="1431" y="498" fill="#ff2300"/><use href="#pl" x="1478" y="464" fill="#ff2f00"/><use href="#pl" x="1435" y="464" fill="#ff4200"/><use href="#pl" x="1356" y="447" fill="#ff3300"/><use href="#pl" x="1456" y="422" fill="#ff3900"/><use href="#pl" x="1278" y="389" fill="#ff7200"/><use href="#pl" x="1273" y="203" fill="#ff4e00"/><use href="#pl" x="1394" y="342" fill="#ff0c00"/><use href="#pl" x="1409" y="550" fill="#ff4100"/><use href="#pl" x="1390" y="395" fill="#ff0e00"/><use href="#pl" x="1542" y="355" fill="#ff3d00"/><use href="#pl" x="1372" y="450" fill="#ff1f00"/><use href="#pl" x="1416" y="466" fill="#ff0400"/><use href="#pl" x="1415" y="430" fill="#ff3100"/><use href="#pl" x="1427" y="375" fill="#ff4400"/><use href="#pl" x="1393" y="402" fill="#ff0000"/><use href="#pl" x="1304" y="388" fill="#ff5500"/><use href="#pl" x="1427" y="460" fill="#ff0800"/><use href="#pl" x="1393" y="403" fill="#ff4000"/><use href="#pl" x="1363" y="415" fill="#ff3e00"/><use href="#pl" x="1405" y="151" fill="#ff4c00"/><use href="#pl" x="1438" y="469" fill="#ff1a00"/><use href="#pl" x="1399" y="433" fill="#ff0e00"/><use href="#pl" x="1378" y="458" fill="#ff3900"/><use href="#pl" x="1459" y="453" fill="#ff2e00"/><use href="#pl" x="1389" y="434" fill="#ff2600"/><use href="#pl" x="1495" y="556" fill="#ff5100"/><use href="#pl" x="1399" y="537" fill="#ff4d00"/><use href="#pl" x="1314" y="520" fill="#ff7000"/><use href="#pl" x="1550" y="337" fill="#ff7200"/><use href="#pl" x="1468" y="276" fill="#ff0e00"/><use href="#pl" x="1356" y="426" fill="#ff4a00"/><use href="#pl" x="1359" y="503" fill="#ff1a00"/><use href="#pl" x="1423" y="430" fill="#ff2d00"/><use href="#pl" x="1481" y="407" fill="#ff2000"/><use href="#pl" x="1398" y="473" fill="#ff0000"/><use href="#pl" x="1346" y="429" fill="#ff1500"/><use href="#pl" x="1551" y="385" fill="#ff4e00"/><use href="#pl" x="1619" y="454" fill="#ff3800"/><use href="#pl" x="1427" y="350" fill="#ff5600"/><use href="#pl" x="1411" y="353" fill="#ff2a00"/><use href="#pl" x="1311" y="433" fill="#ff9e00"/><use href="#pl" x="1323" y="431" fill="#ff4500"/><use href="#pl" x="1341" y="262" fill="#ff1d00"/><use href="#pl" x="1300" y="292" fill="#ff7000"/><use href="#pl" x="1307" y="434" fill="#ff4200"/><use href="#pl" x="1357" y="413" fill="#ff2500"/><use href="#pl" x="1454" y="491" fill="#ff2e00"/><use href="#pl" x="1450" y="370" fill="#ff6100"/><use href="#pl" x="1467" y="440" fill="#ff0f00"/><use href="#pl" x="1511" y="511" fill="#ff8300"/><use href="#pl" x="1392" y="465" fill="#ff0000"/><use href="#pl" x="1372" y="441" fill="#ff0400"/><use href="#pl" x="1407" y="481" fill="#ff0300"/><use href="#pl" x="1463" y="306" fill="#ff3a00"/><use href="#pl" x="1390" y="402" fill="#ff0000"/><use href="#pl" x="1342" y="474" fill="#ff0f00"/><use href="#pl" x="1394" y="414" fill="#ff0e00"/><use href="#pl" x="1568" y="78" fill="#ff6a00"/><use href="#pl" x="1382" y="517" fill="#ff2200"/><use href="#pl" x="1350" y="360" fill="#ff2700"/><use href="#pl" x="1488" y="481" fill="#ff4700"/><use href="#pl" x="1334" y="437" fill="#ff4600"/><use href="#pl" x="1462" y="466" fill="#ff0f00"/><use href="#pl" x="1412" y="461" fill="#ff0900"/><use href="#pl" x="1406" y="439" fill="#ff0000"/><use href="#pl" x="1402" y="388" fill="#ff2c00"/><use href="#pl" x="1429" y="430" fill="#ff0300"/><use href="#pl" x="1400" y="458" fill="#ff1100"/><use href="#pl" x="1641" y="315" fill="#ff6d00"/><use href="#pl" x="1463" y="371" fill="#ff3800"/><use href="#pl" x="1695" y="363" fill="#ff8600"/><use href="#pl" x="1422" y="415" fill="#ff0400"/><use href="#pl" x="1416" y="512" fill="#ff5500"/><use href="#pl" x="1378" y="457" fill="#ff0000"/><use href="#pl" x="1451" y="504" fill="#ff4200"/><use href="#pl" x="1396" y="424" fill="#ff3300"/><use href="#pl" x="1450" y="474" fill="#ff1f00"/><use href="#pl" x="1407" y="374" fill="#ff3100"/><use href="#pl" x="1408" y="458" fill="#ff0100"/><use href="#pl" x="1695" y="380" fill="#ff5100"/><use href="#pl" x="1326" y="494" fill="#ff6200"/><use href="#pl" x="1444" y="312" fill="#ff2600"/><use href="#pl" x="1508" y="373" fill="#ff5e00"/><use href="#pl" x="1426" y="414" fill="#ff0000"/><use href="#pl" x="1378" y="472" fill="#ff1200"/><use href="#pl" x="1386" y="442" fill="#ff2400"/><use href="#pl" x="1466" y="495" fill="#ff3c00"/><use href="#pl" x="1555" y="303" fill="#ff4e00"/><use href="#pl" x="1443" y="370" fill="#ff0000"/><use href="#pl" x="1370" y="485" fill="#ff0900"/><use href="#pl" x="1376" y="427" fill="#ff0c00"/><use href="#pl" x="1428" y="449" fill="#ff2600"/><use href="#pl" x="1368" y="415" fill="#ff0800"/><use href="#pl" x="1706" y="347" fill="#ff6e00"/><use href="#pl" x="1413" y="511" fill="#ff6000"/><use href="#pl" x="1345" y="362" fill="#ff9e00"/><use href="#pl" x="1305" y="423" fill="#ff7600"/><use href="#pl" x="1244" y="281" fill="#ff5b00"/><use href="#pl" x="1377" y="463" fill="#ff0100"/><use href="#pl" x="1365" y="450" fill="#ff0400"/><use href="#pl" x="1471" y="565" fill="#ff5a00"/><use href="#pl" x="1411" y="464" fill="#ff0000"/><use href="#pl" x="1285" y="341" fill="#ff6b00"/><use href="#pl" x="1553" y="318" fill="#ff4b00"/><use href="#pl" x="1392" y="496" fill="#ff6d00"/><use href="#pl" x="1425" y="336" fill="#ff3100"/><use href="#pl" x="1476" y="386" fill="#ff3300"/><use href="#pl" x="1391" y="407" fill="#ff0600"/><use href="#pl" x="1373" y="486" fill="#ff1800"/><use href="#pl" x="1404" y="417" fill="#ff0100"/><use href="#pl" x="1459" y="301" fill="#ff3f00"/><use href="#pl" x="1704" y="306" fill="#ff7500"/><use href="#pl" x="1429" y="445" fill="#ff0000"/><use href="#pl" x="1531" y="343" fill="#ff8500"/><use href="#pl" x="1417" y="467" fill="#ff0300"/><use href="#pl" x="1333" y="437" fill="#ff3900"/><use href="#pl" x="1361" y="417" fill="#ff3d00"/><use href="#pl" x="1368" y="452" fill="#ff0400"/><use href="#pl" x="1464" y="469" fill="#ff2500"/><use href="#pl" x="1425" y="399" fill="#ff0000"/><use href="#pl" x="1452" y="490" fill="#ff8c00"/><use href="#pl" x="1418" y="454" fill="#ff0c00"/><use href="#pl" x="1441" y="385" fill="#ff5c00"/><use href="#pl" x="1688" y="411" fill="#ff5e00"/><use href="#pl" x="1424" y="447" fill="#ff0c00"/><use href="#pl" x="1516" y="393" fill="#ff5b00"/><use href="#pl" x="1428" y="483" fill="#ff1c00"/><use href="#pl" x="1455" y="419" fill="#ff2300"/><use href="#pl" x="1329" y="334" fill="#ff4100"/><use href="#pl" x="1456" y="377" fill="#ff2300"/><use href="#pl" x="1364" y="445" fill="#ff0c00"/><use href="#pl" x="1452" y="424" fill="#ff2c00"/><use href="#pl" x="1327" y="401" fill="#ff2b00"/><use href="#pl" x="1413" y="399" fill="#ff0200"/><use href="#pl" x="1363" y="447" fill="#ff0d00"/><use href="#pl" x="1428" y="387" fill="#ff0d00"/><use href="#pl" x="1429" y="442" fill="#ff2f00"/><use href="#pl" x="1390" y="388" fill="#ff1500"/><use href="#pl" x="1451" y="357" fill="#ff2800"/><use href="#pl" x="1267" y="457" fill="#ff2700"/><use href="#pl" x="1404" y="429" fill="#ff0000"/><use href="#pl" x="1653" y="562" fill="#ff3f00"/><use href="#pl" x="1356" y="363" fill="#ff1600"/><use href="#pl" x="1266" y="352" fill="#ff6500"/><use href="#pl" x="1459" y="456" fill="#ff0600"/><use href="#pl" x="1522" y="246" fill="#ff2d00"/><use href="#pl" x="1422" y="439" fill="#ff0c00"/><use href="#pl" x="1366" y="485" fill="#ff0e00"/><use href="#pl" x="1424" y="438" fill="#ff0900"/><use href="#pl" x="1353" y="276" fill="#ff3900"/><use href="#pl" x="1426" y="428" fill="#ff0b00"/><use href="#pl" x="1375" y="418" fill="#ff5300"/><use href="#pl" x="1343" y="318" fill="#ff6e00"/><use href="#pl" x="1334" y="448" fill="#ff4900"/><use href="#pl" x="1391" y="393" fill="#ff1200"/><use href="#pl" x="1402" y="397" fill="#ff0000"/><use href="#pl" x="1386" y="400" fill="#ff0000"/><use href="#pl" x="1375" y="476" fill="#ff1300"/><use href="#pl" x="1418" y="396" fill="#ff2400"/><use href="#pl" x="1501" y="368" fill="#ff7300"/><use href="#pl" x="1287" y="335" fill="#ff6100"/><use href="#pl" x="1350" y="371" fill="#ff5e00"/><use href="#pl" x="1389" y="370" fill="#ff7800"/><use href="#pl" x="1380" y="359" fill="#ff4200"/><use href="#pl" x="1366" y="456" fill="#ff0d00"/><use href="#pl" x="1422" y="513" fill="#ff1b00"/><use href="#pl" x="1550" y="361" fill="#ff4c00"/><use href="#pl" x="1365" y="347" fill="#ff5900"/><use href="#pl" x="1400" y="372" fill="#ff1c00"/><use href="#pl" x="1395" y="395" fill="#ff1200"/><use href="#pl" x="1516" y="225" fill="#ff4000"/><use href="#pl" x="1513" y="345" fill="#ff7b00"/><use href="#pl" x="1422" y="463" fill="#ff0d00"/><use href="#pl" x="1365" y="447" fill="#ff0000"/><use href="#pl" x="1510" y="205" fill="#ff5a00"/><use href="#pl" x="1425" y="298" fill="#ff7c00"/><use href="#pl" x="1553" y="541" fill="#ff7e00"/><use href="#pl" x="1579" y="404" fill="#ff4b00"/><use href="#pl" x="1426" y="470" fill="#ff2f00"/><use href="#pl" x="1443" y="485" fill="#ff2500"/><use href="#pl" x="1365" y="423" fill="#ff0b00"/><use href="#pl" x="1513" y="345" fill="#ff2f00"/><use href="#pl" x="1482" y="310" fill="#ff3c00"/><use href="#pl" x="1409" y="434" fill="#ff1000"/><use href="#pl" x="1298" y="309" fill="#ff1900"/><use href="#pl" x="1381" y="358" fill="#ff8c00"/><use href="#pl" x="1407" y="326" fill="#ff7f00"/><use href="#pl" x="1386" y="394" fill="#ff0000"/><use href="#pl" x="1751" y="567" fill="#ff3200"/><use href="#pl" x="1399" y="452" fill="#ff0700"/><use href="#pl" x="1303" y="319" fill="#ff4400"/><use href="#pl" x="1262" y="371" fill="#ff7f00"/><use href="#pl" x="1502" y="313" fill="#ff6300"/><use href="#pl" x="1414" y="426" fill="#ff0000"/><use href="#pl" x="1483" y="414" fill="#ff1c00"/><use href="#pl" x="1395" y="482" fill="#ff1200"/><use href="#pl" x="1298" y="462" fill="#ff0000"/><use href="#pl" x="1436" y="463" fill="#ff4200"/><use href="#pl" x="1457" y="463" fill="#ff4f00"/><use href="#pl" x="1417" y="459" fill="#ff0000"/><use href="#pl" x="1359" y="440" fill="#ff5900"/><use href="#pl" x="1403" y="402" fill="#ff0300"/><use href="#pl" x="1369" y="391" fill="#ff1c00"/><use href="#pl" x="1384" y="413" fill="#ff0000"/><use href="#pl" x="1709" y="143" fill="#ff9000"/><use href="#pl" x="1545" y="472" fill="#ff2b00"/><use href="#pl" x="1381" y="407" fill="#ff1900"/><use href="#pl" x="1350" y="374" fill="#ff2200"/><use href="#pl" x="1388" y="396" fill="#ff1200"/><use href="#pl" x="1338" y="371" fill="#ff4c00"/><use href="#pl" x="1611" y="426" fill="#ff6300"/><use href="#pl" x="1347" y="451" fill="#ff3400"/><use href="#pl" x="1418" y="424" fill="#ff0b00"/><use href="#pl" x="1434" y="509" fill="#ff4200"/><use href="#pl" x="1405" y="397" fill="#ff0400"/><use href="#pl" x="1370" y="372" fill="#ff2300"/><use href="#pl" x="1416" y="385" fill="#ff1500"/><use href="#pl" x="1379" y="433" fill="#ff0000"/><use href="#pl" x="1447" y="507" fill="#ff4a00"/><use href="#pl" x="1394" y="465" fill="#ff1f00"/><use href="#pl" x="1420" y="523" fill="#ff1400"/><use href="#pl" x="1629" y="355" fill="#ff7c00"/><use href="#pl" x="1564" y="377" fill="#ff7700"/><use href="#pl" x="1389" y="477" fill="#ff0000"/><use href="#pl" x="1375" y="443" fill="#ff0000"/><use href="#pl" x="1765" y="579" fill="#ff5600"/><use href="#pl" x="1637" y="459" fill="#ff5600"/><use href="#pl" x="1372" y="431" fill="#ff0c00"/><use href="#pl" x="1339" y="464" fill="#ff8700"/><use href="#pl" x="1388" y="229" fill="#ff2200"/><use href="#pl" x="1410" y="385" fill="#ff1600"/><use href="#pl" x="1486" y="433" fill="#ff5800"/><use href="#pl" x="1269" y="329" fill="#ff7000"/><use href="#pl" x="1373" y="315" fill="#ff0000"/><use href="#pl" x="1466" y="478" fill="#ff0d00"/><use href="#pl" x="1628" y="402" fill="#ff4700"/><use href="#pl" x="1257" y="397" fill="#ff7200"/><use href="#pl" x="1606" y="453" fill="#ff6500"/><use href="#pl" x="1386" y="417" fill="#ff0800"/><use href="#pl" x="1373" y="471" fill="#ff0e00"/><use href="#pl" x="1385" y="393" fill="#ff0700"/><use href="#pl" x="1359" y="440" fill="#ff0000"/><use href="#pl" x="1278" y="408" fill="#ff3200"/><use href="#pl" x="1349" y="458" fill="#ff1f00"/><use href="#pl" x="1330" y="356" fill="#ff7700"/><use href="#pl" x="1581" y="362" fill="#ff5700"/><use href="#pl" x="1285" y="440" fill="#ff0a00"/><use href="#pl" x="1670" y="506" fill="#ff9b00"/><use href="#pl" x="1389" y="457" fill="#ff1000"/><use href="#pl" x="1382" y="475" fill="#ff0000"/><use href="#pl" x="1547" y="431" fill="#ff6600"/><use href="#pl" x="1535" y="420" fill="#ff3900"/><use href="#pl" x="1370" y="406" fill="#ff0600"/><use href="#pl" x="1349" y="367" fill="#ff2400"/><use href="#pl" x="1387" y="435" fill="#ff0100"/><use href="#pl" x="1362" y="505" fill="#ff0900"/><use href="#pl" x="1473" y="385" fill="#ff1100"/><use href="#pl" x="1428" y="407" fill="#ff0000"/><use href="#pl" x="1408" y="437" fill="#ff2c00"/><use href="#pl" x="1427" y="424" fill="#ff0900"/><use href="#pl" x="1394" y="463" fill="#ff0200"/><use href="#pl" x="1510" y="280" fill="#ff6d00"/><use href="#pl" x="1394" y="401" fill="#ff0600"/><use href="#pl" x="1409" y="463" fill="#ff0600"/><use href="#pl" x="1409" y="463" fill="#ff0000"/><use href="#pl" x="1340" y="423" fill="#ff0000"/><use href="#pl" x="1519" y="546" fill="#ff4000"/><use href="#pl" x="1382" y="504" fill="#ff0300"/><use href="#pl" x="1400" y="448" fill="#ff0f00"/><use href="#pl" x="1396" y="400" fill="#ff0000"/><use href="#pl" x="1733" y="463" fill="#ff6400"/><use href="#pl" x="1588" y="495" fill="#ff6b00"/><use href="#pl" x="1455" y="381" fill="#ff0d00"/><use href="#pl" x="1214" y="565" fill="#ff9600"/></g><g fill="#000" stroke="none"><rect x="1257.5" y="558.6" width="3" height="31.3"/><rect x="1227.0" y="586.9" width="33.5" height="3"/><path d="M1247.4 558.6L1270.6 558.6L1259.0 538.1z"/><path d="M1227.0 577.3L1227.0 599.5L1203.7 588.4z"/></g><g stroke="#b0b0b0" stroke-width="1.9" fill="none"><path d="M1270.61 34.0V650.0"/><path d="M1455.75 34.0V650.0"/><path d="M1640.89 34.0V650.0"/><path d="M1159.8 105.62H1821.0"/><path d="M1159.8 213.90H1821.0"/><path d="M1159.8 322.18H1821.0"/><path d="M1159.8 430.46H1821.0"/><path d="M1159.8 538.74H1821.0"/><path d="M1159.8 647.02H1821.0"/></g><use href="#pl" x="1455.8" y="213.9" fill="#000"/></g><text x="1259.3" y="533.5" font-size="28.5" text-anchor="middle">N</text><text x="1198.0" y="595.9" font-size="28.5" text-anchor="middle">E</text><rect x="1533.3" y="531.0" width="276.5" height="107.7" rx="4" fill="#fff" fill-opacity="0.8" stroke="#cccccc" stroke-width="1.9"/><circle cx="1565.6" cy="551.5" r="8.4" fill="#add8e6" fill-opacity="0.3"/><use href="#pl" x="1565.6" y="585.2" fill="#000"/><use href="#pl" x="1565.6" y="619.3" fill="#f88080"/><g font-size="23.75" letter-spacing="-0.28"><text x="1606.5" y="557.3">all clones</text><text x="1606.5" y="591.6">Apophis nominal</text><text x="1606.5" y="625.9">Earth impactors</text></g><g stroke="#000" stroke-width="2"><path d="M1270.61 650.0V658.3"/><path d="M1455.75 650.0V658.3"/><path d="M1640.89 650.0V658.3"/><path d="M1159.8 105.62H1151.5"/><path d="M1159.8 213.90H1151.5"/><path d="M1159.8 322.18H1151.5"/><path d="M1159.8 430.46H1151.5"/><path d="M1159.8 538.74H1151.5"/><path d="M1159.8 647.02H1151.5"/></g><text x="1271.01" y="683.8" font-size="23.75" text-anchor="middle" letter-spacing="-0.2">15</text><text x="1456.15" y="683.8" font-size="23.75" text-anchor="middle" letter-spacing="-0.2">0</text><text x="1641.30" y="683.8" font-size="23.75" text-anchor="middle" letter-spacing="-0.2">−15</text><text x="1143.60" y="114.82" font-size="23.75" text-anchor="end" letter-spacing="-0.2">10</text><text x="1143.60" y="223.10" font-size="23.75" text-anchor="end" letter-spacing="-0.2">0</text><text x="1143.60" y="331.38" font-size="23.75" text-anchor="end" letter-spacing="-0.2">−10</text><text x="1143.60" y="439.66" font-size="23.75" text-anchor="end" letter-spacing="-0.2">−20</text><text x="1143.60" y="547.94" font-size="23.75" text-anchor="end" letter-spacing="-0.2">−30</text><text x="1143.60" y="656.22" font-size="23.75" text-anchor="end" letter-spacing="-0.2">−40</text><text x="1490.4" y="722.9" font-size="35.6" text-anchor="middle" letter-spacing="-0.17">Δ RA (arcsec)</text><text transform="translate(1076.8 342.0) rotate(-90)" font-size="35.6" text-anchor="middle" letter-spacing="-0.24">Δ Dec (arcsec)</text><text x="1491.2" y="20.7" font-size="28.5" text-anchor="middle" letter-spacing="-0.22">2027 Dec 06</text><rect x="1862.8" y="34.0" width="30.4" height="616.0" fill="url(#cg)"/><rect x="1862.8" y="34.0" width="30.4" height="616.0" fill="url(#st)"/><rect x="1862.8" y="34.0" width="30.4" height="616.0" fill="none" stroke="#000" stroke-width="2"/><g stroke="#000" stroke-width="2"><path d="M1893.2 99.40H1901.5"/><path d="M1893.2 230.50H1901.5"/><path d="M1893.2 361.60H1901.5"/><path d="M1893.2 492.70H1901.5"/><path d="M1893.2 623.80H1901.5"/></g><text x="1910.1" y="109.00" font-size="23.75" letter-spacing="-0.2">0.9</text><text x="1910.1" y="240.10" font-size="23.75" letter-spacing="-0.2">0.7</text><text x="1910.1" y="371.20" font-size="23.75" letter-spacing="-0.2">0.5</text><text x="1910.1" y="502.30" font-size="23.75" letter-spacing="-0.2">0.3</text><text x="1910.1" y="633.40" font-size="23.75" letter-spacing="-0.2">0.1</text><text transform="translate(1973.7 342.0) rotate(-90)" font-size="23.75" text-anchor="middle" letter-spacing="-0.3">Earth impactor Δ<tspan font-style="italic">v</tspan> (m/s)</text><rect x="124.6" y="839.0" width="661.2" height="616.0" fill="none" stroke="#000" stroke-width="2.1"/><g clip-path="url(#cp3)"><path d="M590 968L560 988L542 1007L506 1023L474 1055L456 1083L432 1100L406 1152L366 1188L326 1226L296 1256L266 1277L250 1300L270 1312L298 1322L314 1301L344 1281L364 1265L384 1245L410 1229L432 1201L462 1165L484 1135L518 1095L548 1065L578 1037L608 1009L625 993Z" fill="#add8e6" fill-opacity="0.85" filter="url(#bl3)"/><g class="b"><circle cx="562" cy="1014"/><circle cx="274" cy="1290"/><circle cx="507" cy="1047"/><circle cx="436" cy="1109"/><circle cx="454" cy="1126"/><circle cx="404" cy="1171"/><circle cx="591" cy="968"/><circle cx="472" cy="1149"/><circle cx="201" cy="1347"/><circle cx="299" cy="1277"/><circle cx="378" cy="1205"/><circle cx="462" cy="1133"/><circle cx="517" cy="1039"/><circle cx="552" cy="996"/><circle cx="346" cy="1204"/><circle cx="199" cy="1348"/><circle cx="301" cy="1255"/><circle cx="319" cy="1251"/><circle cx="648" cy="975"/><circle cx="382" cy="1185"/><circle cx="628" cy="969"/><circle cx="373" cy="1198"/><circle cx="471" cy="1078"/><circle cx="205" cy="1349"/><circle cx="589" cy="989"/><circle cx="415" cy="1177"/><circle cx="313" cy="1255"/><circle cx="548" cy="1056"/><circle cx="631" cy="959"/><circle cx="269" cy="1337"/><circle cx="494" cy="1083"/><circle cx="469" cy="1089"/><circle cx="652" cy="927"/><circle cx="410" cy="1203"/><circle cx="308" cy="1292"/><circle cx="324" cy="1286"/><circle cx="429" cy="1134"/><circle cx="465" cy="1074"/><circle cx="442" cy="1151"/><circle cx="404" cy="1224"/><circle cx="503" cy="1069"/><circle cx="618" cy="958"/><circle cx="593" cy="1010"/><circle cx="364" cy="1261"/><circle cx="567" cy="1037"/><circle cx="437" cy="1148"/><circle cx="502" cy="1049"/><circle cx="614" cy="967"/><circle cx="357" cy="1199"/><circle cx="493" cy="1087"/><circle cx="677" cy="935"/><circle cx="425" cy="1138"/><circle cx="339" cy="1266"/><circle cx="604" cy="982"/><circle cx="609" cy="1004"/><circle cx="437" cy="1200"/><circle cx="358" cy="1208"/><circle cx="487" cy="1091"/><circle cx="543" cy="1015"/><circle cx="541" cy="1041"/><circle cx="350" cy="1274"/><circle cx="441" cy="1152"/><circle cx="474" cy="1126"/><circle cx="448" cy="1126"/><circle cx="567" cy="1004"/><circle cx="328" cy="1245"/><circle cx="521" cy="1031"/><circle cx="616" cy="945"/><circle cx="512" cy="1059"/><circle cx="435" cy="1173"/><circle cx="752" cy="873"/><circle cx="525" cy="1072"/><circle cx="418" cy="1208"/><circle cx="214" cy="1377"/><circle cx="756" cy="871"/><circle cx="375" cy="1220"/><circle cx="558" cy="1050"/><circle cx="278" cy="1313"/><circle cx="213" cy="1379"/><circle cx="312" cy="1268"/><circle cx="220" cy="1351"/><circle cx="379" cy="1230"/><circle cx="510" cy="1104"/><circle cx="440" cy="1096"/><circle cx="637" cy="975"/><circle cx="520" cy="1045"/><circle cx="355" cy="1224"/><circle cx="573" cy="1036"/><circle cx="438" cy="1154"/><circle cx="569" cy="998"/><circle cx="332" cy="1228"/><circle cx="474" cy="1064"/><circle cx="422" cy="1185"/><circle cx="279" cy="1313"/><circle cx="500" cy="1043"/><circle cx="347" cy="1214"/><circle cx="333" cy="1258"/><circle cx="615" cy="1007"/><circle cx="470" cy="1129"/><circle cx="532" cy="1073"/><circle cx="599" cy="966"/><circle cx="222" cy="1382"/><circle cx="687" cy="899"/><circle cx="461" cy="1159"/><circle cx="294" cy="1312"/><circle cx="432" cy="1129"/><circle cx="421" cy="1134"/><circle cx="546" cy="1073"/><circle cx="316" cy="1292"/><circle cx="521" cy="1076"/><circle cx="261" cy="1289"/><circle cx="295" cy="1256"/><circle cx="457" cy="1108"/><circle cx="661" cy="945"/><circle cx="263" cy="1325"/><circle cx="259" cy="1297"/><circle cx="457" cy="1157"/><circle cx="263" cy="1276"/><circle cx="369" cy="1237"/><circle cx="261" cy="1347"/><circle cx="246" cy="1351"/><circle cx="532" cy="1009"/><circle cx="346" cy="1267"/><circle cx="572" cy="984"/><circle cx="486" cy="1094"/><circle cx="460" cy="1141"/><circle cx="571" cy="984"/><circle cx="240" cy="1347"/><circle cx="436" cy="1070"/><circle cx="263" cy="1314"/><circle cx="335" cy="1262"/><circle cx="512" cy="1023"/><circle cx="530" cy="1061"/><circle cx="662" cy="961"/><circle cx="346" cy="1222"/><circle cx="329" cy="1253"/><circle cx="479" cy="1052"/><circle cx="551" cy="1027"/><circle cx="560" cy="1005"/><circle cx="249" cy="1345"/><circle cx="333" cy="1219"/><circle cx="482" cy="1084"/><circle cx="494" cy="1057"/><circle cx="502" cy="1042"/><circle cx="426" cy="1187"/><circle cx="464" cy="1137"/><circle cx="413" cy="1151"/><circle cx="224" cy="1371"/><circle cx="723" cy="884"/><circle cx="524" cy="1074"/><circle cx="524" cy="1064"/><circle cx="334" cy="1219"/><circle cx="420" cy="1178"/><circle cx="413" cy="1215"/><circle cx="399" cy="1218"/><circle cx="459" cy="1133"/><circle cx="461" cy="1096"/><circle cx="320" cy="1270"/><circle cx="432" cy="1179"/><circle cx="485" cy="1109"/><circle cx="577" cy="1016"/><circle cx="485" cy="1070"/><circle cx="515" cy="1079"/><circle cx="172" cy="1427"/><circle cx="405" cy="1216"/><circle cx="639" cy="963"/><circle cx="698" cy="885"/><circle cx="660" cy="955"/><circle cx="576" cy="979"/><circle cx="226" cy="1326"/><circle cx="471" cy="1132"/><circle cx="552" cy="1037"/><circle cx="502" cy="1119"/><circle cx="508" cy="1098"/><circle cx="555" cy="1017"/><circle cx="277" cy="1320"/><circle cx="667" cy="931"/><circle cx="422" cy="1130"/><circle cx="238" cy="1317"/><circle cx="662" cy="921"/><circle cx="683" cy="918"/><circle cx="368" cy="1198"/><circle cx="259" cy="1341"/><circle cx="339" cy="1285"/><circle cx="671" cy="929"/><circle cx="507" cy="1097"/><circle cx="261" cy="1285"/><circle cx="466" cy="1112"/><circle cx="472" cy="1112"/><circle cx="383" cy="1246"/><circle cx="461" cy="1149"/><circle cx="510" cy="1036"/><circle cx="553" cy="1001"/><circle cx="241" cy="1314"/><circle cx="358" cy="1218"/><circle cx="444" cy="1134"/><circle cx="385" cy="1185"/><circle cx="586" cy="1015"/><circle cx="426" cy="1163"/><circle cx="612" cy="956"/><circle cx="316" cy="1282"/><circle cx="337" cy="1255"/><circle cx="288" cy="1289"/><circle cx="439" cy="1116"/><circle cx="398" cy="1172"/><circle cx="329" cy="1236"/><circle cx="274" cy="1291"/><circle cx="273" cy="1293"/><circle cx="534" cy="1038"/><circle cx="300" cy="1256"/><circle cx="341" cy="1244"/><circle cx="246" cy="1311"/><circle cx="331" cy="1258"/><circle cx="415" cy="1136"/><circle cx="484" cy="1060"/><circle cx="599" cy="1003"/><circle cx="672" cy="957"/><circle cx="452" cy="1076"/><circle cx="195" cy="1385"/><circle cx="486" cy="1051"/><circle cx="618" cy="989"/><circle cx="536" cy="1064"/><circle cx="594" cy="970"/><circle cx="172" cy="1423"/><circle cx="434" cy="1194"/><circle cx="435" cy="1137"/><circle cx="579" cy="995"/><circle cx="610" cy="940"/><circle cx="527" cy="1049"/><circle cx="185" cy="1412"/><circle cx="616" cy="995"/><circle cx="631" cy="988"/><circle cx="389" cy="1191"/><circle cx="359" cy="1266"/><circle cx="438" cy="1102"/><circle cx="439" cy="1068"/><circle cx="455" cy="1165"/><circle cx="627" cy="949"/><circle cx="379" cy="1190"/><circle cx="271" cy="1278"/><circle cx="436" cy="1185"/><circle cx="378" cy="1216"/><circle cx="253" cy="1315"/><circle cx="559" cy="995"/><circle cx="343" cy="1211"/><circle cx="520" cy="1049"/><circle cx="320" cy="1247"/><circle cx="564" cy="1014"/><circle cx="353" cy="1248"/><circle cx="414" cy="1159"/><circle cx="587" cy="973"/><circle cx="591" cy="1018"/><circle cx="551" cy="1015"/><circle cx="317" cy="1253"/><circle cx="305" cy="1251"/><circle cx="486" cy="1065"/><circle cx="684" cy="925"/><circle cx="337" cy="1239"/><circle cx="253" cy="1300"/><circle cx="423" cy="1139"/><circle cx="722" cy="910"/><circle cx="596" cy="1004"/><circle cx="442" cy="1113"/><circle cx="496" cy="1038"/><circle cx="268" cy="1289"/><circle cx="645" cy="982"/><circle cx="293" cy="1309"/><circle cx="445" cy="1156"/><circle cx="416" cy="1215"/><circle cx="407" cy="1152"/><circle cx="523" cy="1053"/><circle cx="265" cy="1326"/><circle cx="532" cy="1047"/><circle cx="392" cy="1167"/><circle cx="319" cy="1236"/><circle cx="522" cy="1022"/><circle cx="587" cy="1029"/><circle cx="284" cy="1267"/><circle cx="451" cy="1125"/><circle cx="690" cy="909"/><circle cx="298" cy="1314"/><circle cx="522" cy="1025"/><circle cx="357" cy="1193"/><circle cx="564" cy="1044"/><circle cx="549" cy="1061"/><circle cx="464" cy="1078"/><circle cx="474" cy="1117"/><circle cx="563" cy="1028"/><circle cx="435" cy="1147"/><circle cx="483" cy="1082"/><circle cx="612" cy="989"/><circle cx="285" cy="1321"/><circle cx="444" cy="1128"/><circle cx="466" cy="1115"/><circle cx="450" cy="1110"/><circle cx="568" cy="1000"/><circle cx="257" cy="1338"/><circle cx="438" cy="1106"/><circle cx="600" cy="994"/><circle cx="398" cy="1227"/><circle cx="674" cy="907"/><circle cx="648" cy="973"/><circle cx="329" cy="1254"/><circle cx="312" cy="1270"/><circle cx="434" cy="1111"/><circle cx="285" cy="1297"/><circle cx="332" cy="1236"/><circle cx="366" cy="1260"/><circle cx="656" cy="950"/><circle cx="572" cy="1018"/><circle cx="692" cy="894"/><circle cx="686" cy="906"/><circle cx="336" cy="1260"/><circle cx="247" cy="1304"/><circle cx="471" cy="1097"/><circle cx="392" cy="1173"/><circle cx="510" cy="1103"/><circle cx="369" cy="1190"/><circle cx="298" cy="1326"/><circle cx="216" cy="1344"/><circle cx="612" cy="987"/><circle cx="287" cy="1271"/><circle cx="313" cy="1249"/><circle cx="412" cy="1226"/><circle cx="419" cy="1204"/><circle cx="437" cy="1138"/><circle cx="210" cy="1346"/><circle cx="401" cy="1201"/><circle cx="295" cy="1312"/><circle cx="515" cy="1086"/><circle cx="496" cy="1098"/><circle cx="333" cy="1275"/><circle cx="347" cy="1240"/><circle cx="630" cy="931"/><circle cx="419" cy="1119"/><circle cx="380" cy="1192"/><circle cx="620" cy="945"/><circle cx="344" cy="1280"/><circle cx="356" cy="1227"/><circle cx="390" cy="1220"/><circle cx="415" cy="1157"/><circle cx="486" cy="1053"/><circle cx="418" cy="1178"/><circle cx="295" cy="1257"/><circle cx="408" cy="1210"/><circle cx="468" cy="1081"/><circle cx="408" cy="1210"/><circle cx="417" cy="1191"/><circle cx="402" cy="1153"/><circle cx="511" cy="1087"/><circle cx="508" cy="1029"/><circle cx="274" cy="1309"/><circle cx="310" cy="1307"/><circle cx="635" cy="929"/><circle cx="453" cy="1091"/><circle cx="423" cy="1129"/><circle cx="514" cy="1045"/><circle cx="313" cy="1286"/><circle cx="295" cy="1287"/><circle cx="542" cy="1052"/><circle cx="491" cy="1088"/><circle cx="324" cy="1231"/><circle cx="325" cy="1281"/><circle cx="506" cy="1052"/><circle cx="522" cy="1035"/><circle cx="546" cy="1043"/><circle cx="451" cy="1175"/><circle cx="477" cy="1115"/><circle cx="245" cy="1346"/><circle cx="435" cy="1119"/><circle cx="571" cy="1042"/><circle cx="214" cy="1361"/><circle cx="516" cy="1042"/><circle cx="509" cy="1032"/><circle cx="427" cy="1147"/><circle cx="638" cy="969"/><circle cx="247" cy="1345"/><circle cx="298" cy="1272"/><circle cx="353" cy="1229"/><circle cx="462" cy="1109"/><circle cx="613" cy="983"/><circle cx="571" cy="992"/><circle cx="485" cy="1136"/><circle cx="299" cy="1274"/><circle cx="316" cy="1255"/><circle cx="299" cy="1321"/><circle cx="601" cy="982"/><circle cx="289" cy="1291"/><circle cx="283" cy="1310"/><circle cx="558" cy="991"/><circle cx="399" cy="1181"/><circle cx="364" cy="1187"/><circle cx="467" cy="1146"/><circle cx="523" cy="1029"/><circle cx="584" cy="1028"/><circle cx="552" cy="1054"/><circle cx="448" cy="1121"/><circle cx="520" cy="1080"/><circle cx="369" cy="1195"/><circle cx="652" cy="958"/><circle cx="408" cy="1143"/><circle cx="334" cy="1223"/><circle cx="492" cy="1094"/><circle cx="438" cy="1190"/><circle cx="423" cy="1173"/><circle cx="212" cy="1383"/><circle cx="621" cy="996"/><circle cx="294" cy="1304"/><circle cx="269" cy="1297"/><circle cx="154" cy="1425"/><circle cx="373" cy="1239"/><circle cx="268" cy="1316"/><circle cx="597" cy="956"/><circle cx="635" cy="942"/><circle cx="347" cy="1203"/><circle cx="580" cy="1002"/><circle cx="580" cy="1005"/><circle cx="361" cy="1247"/><circle cx="406" cy="1198"/><circle cx="461" cy="1090"/><circle cx="295" cy="1296"/><circle cx="333" cy="1260"/><circle cx="226" cy="1370"/><circle cx="421" cy="1119"/><circle cx="542" cy="1021"/><circle cx="322" cy="1274"/><circle cx="376" cy="1184"/><circle cx="453" cy="1082"/><circle cx="460" cy="1131"/><circle cx="594" cy="1013"/><circle cx="278" cy="1293"/><circle cx="413" cy="1136"/><circle cx="370" cy="1232"/><circle cx="564" cy="1028"/><circle cx="452" cy="1116"/><circle cx="475" cy="1080"/><circle cx="728" cy="884"/><circle cx="626" cy="963"/><circle cx="412" cy="1164"/><circle cx="386" cy="1221"/><circle cx="436" cy="1097"/><circle cx="465" cy="1138"/><circle cx="471" cy="1129"/><circle cx="211" cy="1372"/><circle cx="341" cy="1218"/><circle cx="191" cy="1359"/><circle cx="615" cy="970"/><circle cx="442" cy="1094"/><circle cx="405" cy="1214"/><circle cx="471" cy="1075"/><circle cx="424" cy="1117"/><circle cx="286" cy="1266"/><circle cx="313" cy="1293"/><circle cx="177" cy="1418"/><circle cx="517" cy="1089"/><circle cx="264" cy="1320"/><circle cx="451" cy="1167"/><circle cx="417" cy="1197"/><circle cx="571" cy="995"/><circle cx="237" cy="1333"/><circle cx="537" cy="1070"/><circle cx="509" cy="1053"/><circle cx="555" cy="1033"/><circle cx="451" cy="1181"/><circle cx="191" cy="1361"/><circle cx="416" cy="1146"/><circle cx="510" cy="1081"/><circle cx="470" cy="1106"/><circle cx="662" cy="953"/><circle cx="325" cy="1263"/><circle cx="470" cy="1138"/><circle cx="320" cy="1295"/><circle cx="306" cy="1280"/><circle cx="543" cy="1011"/><circle cx="298" cy="1323"/><circle cx="287" cy="1266"/><circle cx="550" cy="1056"/><circle cx="254" cy="1291"/><circle cx="474" cy="1103"/><circle cx="398" cy="1227"/><circle cx="645" cy="962"/><circle cx="312" cy="1252"/><circle cx="507" cy="1039"/><circle cx="655" cy="938"/><circle cx="566" cy="1047"/><circle cx="601" cy="963"/><circle cx="473" cy="1115"/><circle cx="286" cy="1322"/><circle cx="425" cy="1167"/><circle cx="469" cy="1154"/><circle cx="444" cy="1077"/><circle cx="463" cy="1156"/><circle cx="551" cy="1013"/><circle cx="676" cy="910"/><circle cx="546" cy="1030"/><circle cx="320" cy="1277"/><circle cx="207" cy="1340"/><circle cx="474" cy="1117"/><circle cx="317" cy="1259"/><circle cx="523" cy="1073"/><circle cx="423" cy="1194"/><circle cx="304" cy="1290"/><circle cx="611" cy="1007"/><circle cx="618" cy="983"/><circle cx="360" cy="1200"/><circle cx="226" cy="1345"/><circle cx="336" cy="1278"/><circle cx="530" cy="1017"/><circle cx="241" cy="1342"/><circle cx="516" cy="1096"/><circle cx="594" cy="991"/><circle cx="450" cy="1121"/><circle cx="567" cy="981"/><circle cx="493" cy="1065"/><circle cx="558" cy="1046"/><circle cx="585" cy="967"/><circle cx="348" cy="1270"/><circle cx="417" cy="1168"/><circle cx="299" cy="1299"/><circle cx="653" cy="930"/><circle cx="647" cy="939"/><circle cx="239" cy="1345"/><circle cx="499" cy="1047"/><circle cx="452" cy="1151"/><circle cx="258" cy="1311"/><circle cx="551" cy="1057"/><circle cx="405" cy="1215"/><circle cx="280" cy="1267"/><circle cx="403" cy="1221"/><circle cx="358" cy="1212"/><circle cx="661" cy="927"/><circle cx="200" cy="1361"/><circle cx="323" cy="1231"/><circle cx="352" cy="1223"/><circle cx="673" cy="944"/><circle cx="360" cy="1261"/><circle cx="302" cy="1269"/><circle cx="223" cy="1330"/><circle cx="343" cy="1248"/><circle cx="624" cy="997"/><circle cx="631" cy="978"/><circle cx="315" cy="1242"/><circle cx="392" cy="1187"/><circle cx="465" cy="1159"/><circle cx="383" cy="1174"/><circle cx="201" cy="1389"/><circle cx="579" cy="1025"/><circle cx="587" cy="1029"/><circle cx="486" cy="1105"/><circle cx="468" cy="1116"/><circle cx="216" cy="1361"/><circle cx="313" cy="1280"/><circle cx="483" cy="1069"/><circle cx="277" cy="1296"/><circle cx="417" cy="1155"/><circle cx="342" cy="1273"/><circle cx="360" cy="1227"/><circle cx="488" cy="1126"/><circle cx="372" cy="1257"/><circle cx="325" cy="1289"/><circle cx="548" cy="1049"/><circle cx="572" cy="1024"/><circle cx="434" cy="1079"/><circle cx="466" cy="1102"/><circle cx="692" cy="943"/><circle cx="561" cy="999"/><circle cx="414" cy="1221"/><circle cx="235" cy="1311"/><circle cx="558" cy="1054"/><circle cx="569" cy="983"/><circle cx="418" cy="1217"/><circle cx="339" cy="1261"/><circle cx="630" cy="962"/><circle cx="616" cy="997"/><circle cx="338" cy="1220"/><circle cx="307" cy="1286"/><circle cx="366" cy="1243"/><circle cx="303" cy="1318"/><circle cx="470" cy="1096"/><circle cx="446" cy="1146"/><circle cx="320" cy="1282"/><circle cx="646" cy="950"/><circle cx="501" cy="1060"/><circle cx="525" cy="1032"/><circle cx="720" cy="867"/><circle cx="641" cy="953"/><circle cx="391" cy="1203"/><circle cx="302" cy="1283"/><circle cx="275" cy="1273"/><circle cx="601" cy="978"/><circle cx="569" cy="1020"/><circle cx="315" cy="1287"/><circle cx="357" cy="1233"/><circle cx="233" cy="1354"/><circle cx="256" cy="1310"/><circle cx="375" cy="1204"/><circle cx="313" cy="1303"/><circle cx="579" cy="1001"/><circle cx="439" cy="1154"/><circle cx="514" cy="1091"/><circle cx="500" cy="1050"/><circle cx="374" cy="1236"/><circle cx="459" cy="1112"/><circle cx="358" cy="1193"/><circle cx="620" cy="960"/><circle cx="442" cy="1151"/><circle cx="447" cy="1158"/><circle cx="329" cy="1250"/><circle cx="524" cy="1051"/><circle cx="401" cy="1216"/><circle cx="577" cy="1016"/><circle cx="525" cy="1063"/><circle cx="195" cy="1383"/><circle cx="261" cy="1298"/><circle cx="365" cy="1265"/><circle cx="286" cy="1332"/><circle cx="393" cy="1176"/><circle cx="414" cy="1203"/><circle cx="339" cy="1220"/><circle cx="506" cy="1020"/><circle cx="422" cy="1139"/><circle cx="566" cy="1009"/><circle cx="408" cy="1220"/><circle cx="445" cy="1119"/><circle cx="671" cy="943"/><circle cx="432" cy="1165"/><circle cx="434" cy="1132"/><circle cx="273" cy="1322"/><circle cx="422" cy="1232"/><circle cx="618" cy="936"/><circle cx="275" cy="1271"/><circle cx="439" cy="1183"/><circle cx="365" cy="1263"/><circle cx="539" cy="1059"/><circle cx="407" cy="1168"/><circle cx="540" cy="1032"/><circle cx="385" cy="1184"/><circle cx="521" cy="1044"/><circle cx="638" cy="941"/><circle cx="588" cy="1011"/><circle cx="378" cy="1190"/><circle cx="287" cy="1309"/><circle cx="313" cy="1292"/><circle cx="536" cy="1030"/><circle cx="510" cy="1019"/><circle cx="451" cy="1088"/><circle cx="280" cy="1324"/><circle cx="249" cy="1329"/><circle cx="429" cy="1191"/><circle cx="647" cy="921"/><circle cx="537" cy="1035"/><circle cx="644" cy="941"/><circle cx="394" cy="1178"/><circle cx="605" cy="972"/><circle cx="637" cy="986"/><circle cx="283" cy="1288"/><circle cx="415" cy="1209"/><circle cx="534" cy="1067"/><circle cx="279" cy="1273"/><circle cx="613" cy="960"/><circle cx="543" cy="1007"/><circle cx="427" cy="1117"/><circle cx="528" cy="1075"/><circle cx="537" cy="1029"/><circle cx="318" cy="1230"/><circle cx="452" cy="1091"/><circle cx="687" cy="907"/><circle cx="457" cy="1089"/><circle cx="468" cy="1141"/><circle cx="573" cy="992"/><circle cx="424" cy="1226"/><circle cx="598" cy="1025"/><circle cx="299" cy="1288"/><circle cx="485" cy="1096"/><circle cx="416" cy="1139"/><circle cx="514" cy="1021"/><circle cx="303" cy="1279"/><circle cx="480" cy="1115"/><circle cx="595" cy="991"/><circle cx="496" cy="1119"/><circle cx="434" cy="1115"/><circle cx="424" cy="1127"/><circle cx="643" cy="948"/><circle cx="552" cy="1030"/><circle cx="471" cy="1114"/><circle cx="330" cy="1256"/><circle cx="637" cy="950"/><circle cx="345" cy="1209"/><circle cx="249" cy="1331"/><circle cx="631" cy="952"/><circle cx="500" cy="1044"/><circle cx="513" cy="1026"/><circle cx="409" cy="1212"/><circle cx="495" cy="1094"/><circle cx="398" cy="1175"/><circle cx="573" cy="1013"/><circle cx="330" cy="1223"/><circle cx="236" cy="1349"/><circle cx="516" cy="1065"/><circle cx="352" cy="1210"/><circle cx="566" cy="997"/><circle cx="377" cy="1210"/><circle cx="327" cy="1233"/><circle cx="291" cy="1276"/><circle cx="569" cy="983"/><circle cx="364" cy="1205"/><circle cx="224" cy="1377"/><circle cx="401" cy="1223"/><circle cx="402" cy="1213"/><circle cx="265" cy="1336"/><circle cx="232" cy="1342"/><circle cx="371" cy="1209"/><circle cx="550" cy="1045"/><circle cx="395" cy="1199"/><circle cx="429" cy="1180"/><circle cx="577" cy="993"/><circle cx="202" cy="1403"/><circle cx="526" cy="1020"/><circle cx="403" cy="1226"/><circle cx="482" cy="1065"/><circle cx="278" cy="1272"/><circle cx="452" cy="1090"/><circle cx="502" cy="1027"/><circle cx="400" cy="1163"/><circle cx="661" cy="943"/><circle cx="522" cy="1047"/><circle cx="329" cy="1223"/><circle cx="622" cy="958"/><circle cx="204" cy="1389"/><circle cx="417" cy="1202"/><circle cx="693" cy="902"/><circle cx="492" cy="1043"/><circle cx="267" cy="1304"/><circle cx="397" cy="1178"/><circle cx="381" cy="1223"/><circle cx="441" cy="1130"/><circle cx="456" cy="1110"/><circle cx="406" cy="1202"/><circle cx="367" cy="1217"/><circle cx="550" cy="1063"/><circle cx="310" cy="1263"/><circle cx="665" cy="950"/><circle cx="650" cy="923"/><circle cx="415" cy="1214"/><circle cx="658" cy="937"/><circle cx="420" cy="1203"/><circle cx="376" cy="1224"/><circle cx="504" cy="1063"/><circle cx="485" cy="1090"/><circle cx="591" cy="1013"/><circle cx="448" cy="1166"/><circle cx="379" cy="1228"/><circle cx="285" cy="1266"/><circle cx="507" cy="1082"/><circle cx="372" cy="1257"/><circle cx="290" cy="1293"/><circle cx="396" cy="1171"/><circle cx="657" cy="918"/><circle cx="364" cy="1199"/><circle cx="428" cy="1194"/><circle cx="406" cy="1221"/><circle cx="350" cy="1207"/><circle cx="623" cy="935"/><circle cx="344" cy="1212"/><circle cx="166" cy="1414"/><circle cx="681" cy="914"/><circle cx="576" cy="1027"/><circle cx="338" cy="1230"/><circle cx="407" cy="1218"/><circle cx="596" cy="968"/><circle cx="238" cy="1308"/><circle cx="479" cy="1130"/><circle cx="448" cy="1120"/><circle cx="454" cy="1170"/><circle cx="429" cy="1145"/><circle cx="645" cy="949"/><circle cx="293" cy="1283"/><circle cx="265" cy="1337"/><circle cx="653" cy="933"/><circle cx="382" cy="1218"/><circle cx="329" cy="1273"/><circle cx="287" cy="1313"/><circle cx="434" cy="1097"/><circle cx="284" cy="1308"/><circle cx="625" cy="982"/><circle cx="556" cy="1004"/><circle cx="531" cy="1081"/><circle cx="406" cy="1230"/><circle cx="464" cy="1118"/><circle cx="458" cy="1111"/><circle cx="429" cy="1086"/><circle cx="321" cy="1239"/><circle cx="246" cy="1334"/><circle cx="332" cy="1243"/><circle cx="239" cy="1311"/><circle cx="444" cy="1139"/><circle cx="266" cy="1301"/><circle cx="568" cy="1009"/><circle cx="579" cy="982"/><circle cx="357" cy="1211"/><circle cx="434" cy="1155"/><circle cx="447" cy="1093"/><circle cx="370" cy="1224"/><circle cx="523" cy="1092"/><circle cx="342" cy="1253"/><circle cx="517" cy="1062"/><circle cx="402" cy="1184"/><circle cx="684" cy="910"/><circle cx="422" cy="1137"/><circle cx="417" cy="1198"/><circle cx="374" cy="1255"/><circle cx="675" cy="919"/><circle cx="257" cy="1332"/><circle cx="494" cy="1113"/><circle cx="562" cy="1020"/><circle cx="361" cy="1256"/><circle cx="450" cy="1146"/><circle cx="429" cy="1159"/><circle cx="583" cy="1035"/><circle cx="288" cy="1313"/><circle cx="316" cy="1281"/><circle cx="588" cy="979"/><circle cx="660" cy="949"/><circle cx="348" cy="1265"/><circle cx="679" cy="905"/><circle cx="644" cy="967"/><circle cx="360" cy="1228"/><circle cx="338" cy="1259"/><circle cx="406" cy="1239"/><circle cx="468" cy="1149"/><circle cx="350" cy="1245"/><circle cx="490" cy="1094"/><circle cx="365" cy="1205"/><circle cx="445" cy="1174"/><circle cx="700" cy="897"/><circle cx="641" cy="973"/><circle cx="276" cy="1301"/><circle cx="330" cy="1284"/><circle cx="514" cy="1073"/><circle cx="322" cy="1257"/><circle cx="256" cy="1288"/><circle cx="374" cy="1210"/><circle cx="264" cy="1291"/><circle cx="453" cy="1125"/><circle cx="643" cy="944"/><circle cx="220" cy="1347"/><circle cx="266" cy="1343"/><circle cx="641" cy="944"/><circle cx="389" cy="1223"/><circle cx="433" cy="1098"/><circle cx="340" cy="1266"/><circle cx="511" cy="1087"/><circle cx="467" cy="1086"/><circle cx="368" cy="1247"/><circle cx="418" cy="1178"/><circle cx="306" cy="1268"/></g><g fill-opacity="0.55"><use href="#pl" x="426" y="1170" fill="#ff2100"/><use href="#pl" x="441" y="1146" fill="#ff0000"/><use href="#pl" x="427" y="1151" fill="#ff0400"/><use href="#pl" x="449" y="1158" fill="#ff0800"/><use href="#pl" x="435" y="1176" fill="#ff2700"/><use href="#pl" x="426" y="1150" fill="#ff0000"/><use href="#pl" x="444" y="1164" fill="#ff0200"/><use href="#pl" x="443" y="1153" fill="#ff0000"/><use href="#pl" x="435" y="1138" fill="#ff1000"/><use href="#pl" x="438" y="1163" fill="#ff0500"/><use href="#pl" x="456" y="1150" fill="#ff5900"/><use href="#pl" x="445" y="1141" fill="#ff0500"/><use href="#pl" x="454" y="1166" fill="#ff3500"/><use href="#pl" x="429" y="1137" fill="#ff1600"/><use href="#pl" x="426" y="1152" fill="#ff0000"/><use href="#pl" x="427" y="1151" fill="#ff0600"/><use href="#pl" x="427" y="1135" fill="#ff3a00"/><use href="#pl" x="451" y="1173" fill="#ff3e00"/><use href="#pl" x="454" y="1151" fill="#ff1f00"/><use href="#pl" x="443" y="1123" fill="#ff7900"/><use href="#pl" x="440" y="1143" fill="#ff0900"/><use href="#pl" x="420" y="1170" fill="#ff8500"/><use href="#pl" x="429" y="1158" fill="#ff1c00"/><use href="#pl" x="437" y="1141" fill="#ff1200"/><use href="#pl" x="432" y="1141" fill="#ff0700"/><use href="#pl" x="438" y="1180" fill="#ff5000"/><use href="#pl" x="432" y="1136" fill="#ff1200"/><use href="#pl" x="435" y="1150" fill="#ff0000"/><use href="#pl" x="423" y="1168" fill="#ff4800"/><use href="#pl" x="439" y="1146" fill="#ff0000"/><use href="#pl" x="451" y="1135" fill="#ff4b00"/><use href="#pl" x="442" y="1147" fill="#ff0f00"/><use href="#pl" x="429" y="1138" fill="#ff0a00"/><use href="#pl" x="441" y="1126" fill="#ff4900"/><use href="#pl" x="440" y="1160" fill="#ff0000"/><use href="#pl" x="439" y="1135" fill="#ff2700"/><use href="#pl" x="455" y="1149" fill="#ff3600"/><use href="#pl" x="451" y="1140" fill="#ff1100"/><use href="#pl" x="437" y="1155" fill="#ff0f00"/><use href="#pl" x="434" y="1179" fill="#ff4800"/><use href="#pl" x="440" y="1170" fill="#ff0500"/><use href="#pl" x="435" y="1179" fill="#ff4200"/><use href="#pl" x="437" y="1141" fill="#ff0000"/><use href="#pl" x="422" y="1146" fill="#ff2200"/><use href="#pl" x="443" y="1142" fill="#ff0000"/><use href="#pl" x="436" y="1159" fill="#ff0800"/><use href="#pl" x="453" y="1171" fill="#ff4900"/><use href="#pl" x="451" y="1175" fill="#ff7600"/><use href="#pl" x="427" y="1136" fill="#ff0800"/><use href="#pl" x="425" y="1143" fill="#ff0a00"/><use href="#pl" x="454" y="1140" fill="#ff3f00"/><use href="#pl" x="434" y="1157" fill="#ff0000"/><use href="#pl" x="440" y="1123" fill="#ff6700"/><use href="#pl" x="420" y="1152" fill="#ff4100"/><use href="#pl" x="448" y="1138" fill="#ff2200"/><use href="#pl" x="451" y="1168" fill="#ff2600"/><use href="#pl" x="436" y="1148" fill="#ff0100"/><use href="#pl" x="439" y="1174" fill="#ff2100"/><use href="#pl" x="435" y="1142" fill="#ff0000"/><use href="#pl" x="430" y="1122" fill="#ff7d00"/><use href="#pl" x="441" y="1177" fill="#ff3700"/><use href="#pl" x="445" y="1169" fill="#ff1f00"/><use href="#pl" x="444" y="1127" fill="#ff5e00"/><use href="#pl" x="430" y="1137" fill="#ff0c00"/><use href="#pl" x="448" y="1140" fill="#ff0e00"/><use href="#pl" x="439" y="1133" fill="#ff1500"/><use href="#pl" x="438" y="1143" fill="#ff0f00"/><use href="#pl" x="431" y="1137" fill="#ff2500"/><use href="#pl" x="455" y="1138" fill="#ff6f00"/><use href="#pl" x="440" y="1137" fill="#ff1100"/><use href="#pl" x="441" y="1169" fill="#ff0000"/><use href="#pl" x="451" y="1132" fill="#ff6500"/><use href="#pl" x="441" y="1124" fill="#ff7600"/><use href="#pl" x="444" y="1181" fill="#ff6300"/><use href="#pl" x="429" y="1164" fill="#ff0000"/><use href="#pl" x="435" y="1153" fill="#ff0c00"/><use href="#pl" x="440" y="1131" fill="#ff3a00"/><use href="#pl" x="449" y="1163" fill="#ff0000"/><use href="#pl" x="429" y="1139" fill="#ff0000"/><use href="#pl" x="431" y="1151" fill="#ff0000"/><use href="#pl" x="453" y="1135" fill="#ff7000"/><use href="#pl" x="438" y="1164" fill="#ff0000"/><use href="#pl" x="428" y="1161" fill="#ff0400"/><use href="#pl" x="444" y="1154" fill="#ff0200"/><use href="#pl" x="450" y="1168" fill="#ff1a00"/><use href="#pl" x="432" y="1173" fill="#ff0b00"/><use href="#pl" x="436" y="1165" fill="#ff0000"/><use href="#pl" x="425" y="1144" fill="#ff0000"/><use href="#pl" x="446" y="1134" fill="#ff0900"/><use href="#pl" x="429" y="1151" fill="#ff0000"/><use href="#pl" x="431" y="1148" fill="#ff0000"/><use href="#pl" x="448" y="1156" fill="#ff1100"/><use href="#pl" x="426" y="1138" fill="#ff1000"/><use href="#pl" x="457" y="1147" fill="#ff5c00"/><use href="#pl" x="455" y="1142" fill="#ff5800"/><use href="#pl" x="434" y="1173" fill="#ff1200"/><use href="#pl" x="426" y="1173" fill="#ff4a00"/><use href="#pl" x="452" y="1152" fill="#ff1000"/><use href="#pl" x="441" y="1149" fill="#ff0000"/><use href="#pl" x="433" y="1174" fill="#ff1200"/><use href="#pl" x="431" y="1125" fill="#ff8a00"/><use href="#pl" x="454" y="1161" fill="#ff1700"/><use href="#pl" x="440" y="1151" fill="#ff0000"/><use href="#pl" x="448" y="1185" fill="#ff8600"/><use href="#pl" x="444" y="1172" fill="#ff1200"/><use href="#pl" x="438" y="1153" fill="#ff0000"/><use href="#pl" x="445" y="1145" fill="#ff0000"/><use href="#pl" x="421" y="1163" fill="#ff2a00"/><use href="#pl" x="422" y="1165" fill="#ff2b00"/><use href="#pl" x="427" y="1159" fill="#ff0000"/><use href="#pl" x="429" y="1158" fill="#ff0000"/><use href="#pl" x="439" y="1134" fill="#ff0a00"/><use href="#pl" x="444" y="1145" fill="#ff1b00"/><use href="#pl" x="426" y="1158" fill="#ff0500"/><use href="#pl" x="431" y="1161" fill="#ff0000"/><use href="#pl" x="445" y="1179" fill="#ff4b00"/><use href="#pl" x="431" y="1144" fill="#ff0000"/><use href="#pl" x="429" y="1138" fill="#ff0a00"/><use href="#pl" x="446" y="1159" fill="#ff0000"/><use href="#pl" x="428" y="1169" fill="#ff0d00"/><use href="#pl" x="430" y="1148" fill="#ff0600"/><use href="#pl" x="445" y="1126" fill="#ff7000"/><use href="#pl" x="456" y="1145" fill="#ff4d00"/><use href="#pl" x="455" y="1171" fill="#ff7400"/><use href="#pl" x="456" y="1165" fill="#ff6200"/><use href="#pl" x="441" y="1171" fill="#ff2e00"/><use href="#pl" x="439" y="1155" fill="#ff0900"/><use href="#pl" x="423" y="1150" fill="#ff1600"/><use href="#pl" x="439" y="1161" fill="#ff1e00"/><use href="#pl" x="442" y="1165" fill="#ff0200"/><use href="#pl" x="442" y="1123" fill="#ff8e00"/><use href="#pl" x="427" y="1148" fill="#ff0300"/><use href="#pl" x="453" y="1164" fill="#ff0400"/><use href="#pl" x="434" y="1177" fill="#ff2a00"/><use href="#pl" x="437" y="1154" fill="#ff0000"/><use href="#pl" x="436" y="1169" fill="#ff1a00"/><use href="#pl" x="431" y="1181" fill="#ff7000"/><use href="#pl" x="437" y="1150" fill="#ff0000"/><use href="#pl" x="450" y="1178" fill="#ff7200"/><use href="#pl" x="427" y="1144" fill="#ff0600"/><use href="#pl" x="425" y="1154" fill="#ff2000"/><use href="#pl" x="440" y="1183" fill="#ff6c00"/><use href="#pl" x="422" y="1139" fill="#ff3700"/><use href="#pl" x="434" y="1124" fill="#ff9000"/><use href="#pl" x="432" y="1131" fill="#ff2b00"/><use href="#pl" x="444" y="1165" fill="#ff0500"/><use href="#pl" x="432" y="1174" fill="#ff2400"/><use href="#pl" x="449" y="1153" fill="#ff1400"/><use href="#pl" x="448" y="1141" fill="#ff0600"/><use href="#pl" x="432" y="1159" fill="#ff0000"/><use href="#pl" x="452" y="1172" fill="#ff5900"/><use href="#pl" x="433" y="1138" fill="#ff1b00"/><use href="#pl" x="429" y="1179" fill="#ff6e00"/><use href="#pl" x="452" y="1189" fill="#ff7f00"/><use href="#pl" x="421" y="1151" fill="#ff2f00"/><use href="#pl" x="455" y="1161" fill="#ff3700"/><use href="#pl" x="435" y="1149" fill="#ff0500"/><use href="#pl" x="440" y="1180" fill="#ff8900"/><use href="#pl" x="445" y="1181" fill="#ff6f00"/><use href="#pl" x="439" y="1122" fill="#ff8e00"/><use href="#pl" x="451" y="1176" fill="#ff7c00"/><use href="#pl" x="446" y="1165" fill="#ff0200"/><use href="#pl" x="433" y="1139" fill="#ff0000"/><use href="#pl" x="428" y="1149" fill="#ff0100"/><use href="#pl" x="435" y="1147" fill="#ff0400"/><use href="#pl" x="428" y="1153" fill="#ff0000"/><use href="#pl" x="427" y="1145" fill="#ff0700"/><use href="#pl" x="425" y="1137" fill="#ff2a00"/><use href="#pl" x="442" y="1138" fill="#ff0800"/><use href="#pl" x="456" y="1160" fill="#ff4900"/><use href="#pl" x="436" y="1165" fill="#ff0000"/><use href="#pl" x="437" y="1139" fill="#ff0000"/><use href="#pl" x="434" y="1130" fill="#ff4800"/><use href="#pl" x="451" y="1138" fill="#ff1e00"/><use href="#pl" x="429" y="1178" fill="#ff6200"/><use href="#pl" x="451" y="1170" fill="#ff4200"/><use href="#pl" x="438" y="1152" fill="#ff0000"/><use href="#pl" x="433" y="1128" fill="#ff6100"/><use href="#pl" x="433" y="1136" fill="#ff1200"/><use href="#pl" x="439" y="1174" fill="#ff2100"/><use href="#pl" x="457" y="1162" fill="#ff6a00"/><use href="#pl" x="440" y="1164" fill="#ff0000"/><use href="#pl" x="437" y="1119" fill="#ff8000"/><use href="#pl" x="436" y="1138" fill="#ff1400"/><use href="#pl" x="423" y="1138" fill="#ff4a00"/><use href="#pl" x="424" y="1157" fill="#ff0100"/><use href="#pl" x="440" y="1176" fill="#ff1b00"/><use href="#pl" x="422" y="1153" fill="#ff1400"/><use href="#pl" x="432" y="1158" fill="#ff0500"/><use href="#pl" x="437" y="1133" fill="#ff2200"/><use href="#pl" x="433" y="1150" fill="#ff0e00"/><use href="#pl" x="429" y="1154" fill="#ff0500"/><use href="#pl" x="439" y="1136" fill="#ff2f00"/><use href="#pl" x="446" y="1149" fill="#ff0000"/><use href="#pl" x="427" y="1166" fill="#ff0000"/><use href="#pl" x="440" y="1180" fill="#ff5900"/><use href="#pl" x="431" y="1150" fill="#ff0400"/><use href="#pl" x="448" y="1135" fill="#ff2000"/><use href="#pl" x="435" y="1163" fill="#ff0000"/><use href="#pl" x="446" y="1165" fill="#ff0000"/><use href="#pl" x="454" y="1151" fill="#ff1a00"/><use href="#pl" x="432" y="1139" fill="#ff1e00"/><use href="#pl" x="454" y="1170" fill="#ff6400"/><use href="#pl" x="442" y="1177" fill="#ff2d00"/><use href="#pl" x="424" y="1145" fill="#ff0f00"/><use href="#pl" x="437" y="1156" fill="#ff0000"/><use href="#pl" x="449" y="1160" fill="#ff0500"/><use href="#pl" x="448" y="1178" fill="#ff6a00"/><use href="#pl" x="457" y="1180" fill="#ff8400"/><use href="#pl" x="439" y="1164" fill="#ff0700"/><use href="#pl" x="430" y="1140" fill="#ff0000"/><use href="#pl" x="428" y="1158" fill="#ff0c00"/><use href="#pl" x="423" y="1147" fill="#ff0500"/><use href="#pl" x="421" y="1149" fill="#ff2f00"/><use href="#pl" x="426" y="1146" fill="#ff0700"/><use href="#pl" x="440" y="1150" fill="#ff0100"/><use href="#pl" x="431" y="1168" fill="#ff2200"/><use href="#pl" x="423" y="1156" fill="#ff0300"/><use href="#pl" x="437" y="1143" fill="#ff0e00"/><use href="#pl" x="425" y="1138" fill="#ff2c00"/><use href="#pl" x="451" y="1149" fill="#ff0a00"/><use href="#pl" x="440" y="1158" fill="#ff0000"/><use href="#pl" x="453" y="1141" fill="#ff1000"/><use href="#pl" x="433" y="1156" fill="#ff0000"/><use href="#pl" x="456" y="1167" fill="#ff5500"/><use href="#pl" x="428" y="1132" fill="#ff3200"/><use href="#pl" x="421" y="1150" fill="#ff3000"/><use href="#pl" x="445" y="1126" fill="#ff7600"/><use href="#pl" x="429" y="1152" fill="#ff1700"/><use href="#pl" x="430" y="1166" fill="#ff0a00"/><use href="#pl" x="441" y="1179" fill="#ff3b00"/><use href="#pl" x="431" y="1165" fill="#ff0000"/><use href="#pl" x="453" y="1140" fill="#ff2c00"/><use href="#pl" x="442" y="1150" fill="#ff0000"/><use href="#pl" x="433" y="1148" fill="#ff0000"/><use href="#pl" x="435" y="1152" fill="#ff0000"/><use href="#pl" x="455" y="1166" fill="#ff5300"/><use href="#pl" x="436" y="1179" fill="#ff4900"/><use href="#pl" x="428" y="1148" fill="#ff0000"/><use href="#pl" x="454" y="1134" fill="#ff5800"/><use href="#pl" x="427" y="1171" fill="#ff1a00"/><use href="#pl" x="438" y="1146" fill="#ff0500"/><use href="#pl" x="445" y="1141" fill="#ff0000"/><use href="#pl" x="446" y="1125" fill="#ff8000"/><use href="#pl" x="451" y="1149" fill="#ff2400"/><use href="#pl" x="434" y="1143" fill="#ff0000"/><use href="#pl" x="448" y="1162" fill="#ff0a00"/><use href="#pl" x="425" y="1154" fill="#ff1000"/><use href="#pl" x="446" y="1117" fill="#ff7300"/><use href="#pl" x="448" y="1157" fill="#ff0100"/><use href="#pl" x="434" y="1181" fill="#ff6500"/><use href="#pl" x="457" y="1156" fill="#ff5100"/><use href="#pl" x="436" y="1173" fill="#ff3000"/><use href="#pl" x="447" y="1176" fill="#ff2700"/><use href="#pl" x="426" y="1166" fill="#ff1100"/><use href="#pl" x="431" y="1180" fill="#ff6a00"/><use href="#pl" x="427" y="1142" fill="#ff0c00"/><use href="#pl" x="423" y="1163" fill="#ff1800"/><use href="#pl" x="423" y="1158" fill="#ff0c00"/><use href="#pl" x="455" y="1118" fill="#ff7f00"/><use href="#pl" x="434" y="1146" fill="#ff0800"/><use href="#pl" x="424" y="1161" fill="#ff1900"/><use href="#pl" x="436" y="1179" fill="#ff2f00"/><use href="#pl" x="432" y="1144" fill="#ff0300"/><use href="#pl" x="444" y="1179" fill="#ff4d00"/><use href="#pl" x="437" y="1131" fill="#ff3e00"/><use href="#pl" x="453" y="1165" fill="#ff3400"/><use href="#pl" x="436" y="1176" fill="#ff1e00"/><use href="#pl" x="451" y="1136" fill="#ff3c00"/><use href="#pl" x="441" y="1180" fill="#ff3e00"/><use href="#pl" x="434" y="1149" fill="#ff0000"/><use href="#pl" x="454" y="1172" fill="#ff7000"/><use href="#pl" x="445" y="1131" fill="#ff1700"/><use href="#pl" x="440" y="1145" fill="#ff0100"/><use href="#pl" x="438" y="1124" fill="#ff7d00"/><use href="#pl" x="433" y="1150" fill="#ff0200"/><use href="#pl" x="430" y="1165" fill="#ff0000"/><use href="#pl" x="427" y="1158" fill="#ff1e00"/><use href="#pl" x="436" y="1172" fill="#ff2800"/><use href="#pl" x="447" y="1161" fill="#ff0000"/><use href="#pl" x="445" y="1177" fill="#ff8000"/><use href="#pl" x="439" y="1165" fill="#ff0200"/><use href="#pl" x="448" y="1150" fill="#ff0300"/><use href="#pl" x="451" y="1154" fill="#ff0000"/><use href="#pl" x="425" y="1136" fill="#ff4400"/><use href="#pl" x="428" y="1153" fill="#ff0800"/><use href="#pl" x="429" y="1145" fill="#ff0000"/><use href="#pl" x="438" y="1129" fill="#ff5200"/><use href="#pl" x="432" y="1154" fill="#ff0000"/><use href="#pl" x="449" y="1140" fill="#ff0800"/><use href="#pl" x="443" y="1131" fill="#ff3600"/><use href="#pl" x="430" y="1144" fill="#ff0500"/><use href="#pl" x="427" y="1166" fill="#ff0000"/><use href="#pl" x="430" y="1130" fill="#ff5000"/><use href="#pl" x="456" y="1156" fill="#ff3300"/><use href="#pl" x="435" y="1144" fill="#ff0600"/><use href="#pl" x="438" y="1156" fill="#ff0100"/><use href="#pl" x="428" y="1136" fill="#ff1400"/><use href="#pl" x="444" y="1178" fill="#ff3900"/><use href="#pl" x="446" y="1140" fill="#ff0f00"/><use href="#pl" x="439" y="1155" fill="#ff1b00"/><use href="#pl" x="422" y="1156" fill="#ff0000"/><use href="#pl" x="433" y="1172" fill="#ff1c00"/><use href="#pl" x="433" y="1125" fill="#ff8200"/><use href="#pl" x="430" y="1130" fill="#ff6a00"/><use href="#pl" x="430" y="1148" fill="#ff0000"/><use href="#pl" x="429" y="1162" fill="#ff0000"/><use href="#pl" x="423" y="1137" fill="#ff4900"/><use href="#pl" x="449" y="1152" fill="#ff0a00"/><use href="#pl" x="437" y="1147" fill="#ff0500"/><use href="#pl" x="439" y="1164" fill="#ff0000"/><use href="#pl" x="438" y="1161" fill="#ff0000"/><use href="#pl" x="435" y="1164" fill="#ff0000"/><use href="#pl" x="426" y="1149" fill="#ff0b00"/><use href="#pl" x="433" y="1153" fill="#ff0000"/><use href="#pl" x="424" y="1147" fill="#ff0300"/><use href="#pl" x="430" y="1132" fill="#ff3200"/><use href="#pl" x="446" y="1148" fill="#ff0b00"/><use href="#pl" x="442" y="1178" fill="#ff2e00"/><use href="#pl" x="456" y="1162" fill="#ff4d00"/><use href="#pl" x="423" y="1164" fill="#ff2e00"/><use href="#pl" x="448" y="1148" fill="#ff1100"/><use href="#pl" x="448" y="1172" fill="#ff2200"/><use href="#pl" x="459" y="1122" fill="#ff7f00"/><use href="#pl" x="452" y="1131" fill="#ff9000"/><use href="#pl" x="436" y="1153" fill="#ff0000"/><use href="#pl" x="424" y="1138" fill="#ff3a00"/><use href="#pl" x="449" y="1162" fill="#ff0e00"/><use href="#pl" x="436" y="1154" fill="#ff0000"/><use href="#pl" x="435" y="1181" fill="#ff4d00"/><use href="#pl" x="442" y="1155" fill="#ff0000"/><use href="#pl" x="422" y="1151" fill="#ff3400"/><use href="#pl" x="426" y="1132" fill="#ff6400"/><use href="#pl" x="445" y="1172" fill="#ff1000"/><use href="#pl" x="450" y="1168" fill="#ff1500"/><use href="#pl" x="447" y="1177" fill="#ff4700"/><use href="#pl" x="450" y="1168" fill="#ff0d00"/><use href="#pl" x="441" y="1161" fill="#ff0000"/><use href="#pl" x="450" y="1165" fill="#ff1600"/><use href="#pl" x="436" y="1162" fill="#ff0000"/><use href="#pl" x="437" y="1154" fill="#ff0300"/><use href="#pl" x="426" y="1158" fill="#ff0400"/><use href="#pl" x="439" y="1134" fill="#ff3100"/><use href="#pl" x="430" y="1145" fill="#ff0500"/><use href="#pl" x="442" y="1177" fill="#ff2100"/><use href="#pl" x="425" y="1149" fill="#ff0900"/><use href="#pl" x="435" y="1160" fill="#ff0600"/><use href="#pl" x="422" y="1139" fill="#ff3d00"/><use href="#pl" x="448" y="1133" fill="#ff3600"/><use href="#pl" x="435" y="1136" fill="#ff0500"/><use href="#pl" x="434" y="1143" fill="#ff0000"/></g><g fill="#000" stroke="none"><rect x="222.3" y="1363.6" width="3" height="31.3"/><rect x="191.8" y="1391.9" width="33.5" height="3"/><path d="M212.2 1363.6L235.4 1363.6L223.8 1343.1z"/><path d="M191.8 1382.3L191.8 1404.5L168.5 1393.4z"/></g><g stroke="#b0b0b0" stroke-width="1.9" fill="none"><path d="M183.80 839.0V1455.0"/><path d="M316.95 839.0V1455.0"/><path d="M450.10 839.0V1455.0"/><path d="M583.25 839.0V1455.0"/><path d="M716.40 839.0V1455.0"/><path d="M124.6 861.90H785.8"/><path d="M124.6 998.65H785.8"/><path d="M124.6 1135.40H785.8"/><path d="M124.6 1272.15H785.8"/><path d="M124.6 1408.90H785.8"/></g><use href="#pl" x="450.1" y="1135.4" fill="#000"/></g><text x="224.1" y="1338.5" font-size="28.5" text-anchor="middle">N</text><text x="162.8" y="1400.9" font-size="28.5" text-anchor="middle">E</text><rect x="135.9" y="850.9" width="276.5" height="107.7" rx="4" fill="#fff" fill-opacity="0.8" stroke="#cccccc" stroke-width="1.9"/><circle cx="168.2" cy="871.4" r="8.4" fill="#add8e6" fill-opacity="0.3"/><use href="#pl" x="168.2" y="905.1" fill="#000"/><use href="#pl" x="168.2" y="939.2" fill="#f88080"/><g font-size="23.75" letter-spacing="-0.28"><text x="209.1" y="877.2">all clones</text><text x="209.1" y="911.5">Apophis nominal</text><text x="209.1" y="945.8">Earth impactors</text></g><g stroke="#000" stroke-width="2"><path d="M183.80 1455.0V1463.3"/><path d="M316.95 1455.0V1463.3"/><path d="M450.10 1455.0V1463.3"/><path d="M583.25 1455.0V1463.3"/><path d="M716.40 1455.0V1463.3"/><path d="M124.6 861.90H116.3"/><path d="M124.6 998.65H116.3"/><path d="M124.6 1135.40H116.3"/><path d="M124.6 1272.15H116.3"/><path d="M124.6 1408.90H116.3"/></g><text x="184.20" y="1488.8" font-size="23.75" text-anchor="middle" letter-spacing="-0.2">800</text><text x="317.35" y="1488.8" font-size="23.75" text-anchor="middle" letter-spacing="-0.2">400</text><text x="450.50" y="1488.8" font-size="23.75" text-anchor="middle" letter-spacing="-0.2">0</text><text x="583.65" y="1488.8" font-size="23.75" text-anchor="middle" letter-spacing="-0.2">−400</text><text x="716.80" y="1488.8" font-size="23.75" text-anchor="middle" letter-spacing="-0.2">−800</text><text x="108.40" y="871.10" font-size="23.75" text-anchor="end" letter-spacing="-0.2">200</text><text x="108.40" y="1007.85" font-size="23.75" text-anchor="end" letter-spacing="-0.2">100</text><text x="108.40" y="1144.60" font-size="23.75" text-anchor="end" letter-spacing="-0.2">0</text><text x="108.40" y="1281.35" font-size="23.75" text-anchor="end" letter-spacing="-0.2">−100</text><text x="108.40" y="1418.10" font-size="23.75" text-anchor="end" letter-spacing="-0.2">−200</text><text x="455.2" y="1527.9" font-size="35.6" text-anchor="middle" letter-spacing="-0.17">Δ RA (arcsec)</text><text transform="translate(27.8 1147.0) rotate(-90)" font-size="35.6" text-anchor="middle" letter-spacing="-0.24">Δ Dec (arcsec)</text><text x="456.0" y="825.7" font-size="28.5" text-anchor="middle" letter-spacing="-0.22">2028 Jan 05</text><rect x="827.3" y="839.0" width="30.6" height="616.0" fill="url(#cg)"/><rect x="827.3" y="839.0" width="30.6" height="616.0" fill="url(#st)"/><rect x="827.3" y="839.0" width="30.6" height="616.0" fill="none" stroke="#000" stroke-width="2"/><g stroke="#000" stroke-width="2"><path d="M857.9 904.40H866.2"/><path d="M857.9 1035.50H866.2"/><path d="M857.9 1166.60H866.2"/><path d="M857.9 1297.70H866.2"/><path d="M857.9 1428.80H866.2"/></g><text x="874.8" y="914.00" font-size="23.75" letter-spacing="-0.2">0.9</text><text x="874.8" y="1045.10" font-size="23.75" letter-spacing="-0.2">0.7</text><text x="874.8" y="1176.20" font-size="23.75" letter-spacing="-0.2">0.5</text><text x="874.8" y="1307.30" font-size="23.75" letter-spacing="-0.2">0.3</text><text x="874.8" y="1438.40" font-size="23.75" letter-spacing="-0.2">0.1</text><text transform="translate(938.4 1147.0) rotate(-90)" font-size="23.75" text-anchor="middle" letter-spacing="-0.3">Earth impactor Δ<tspan font-style="italic">v</tspan> (m/s)</text><rect x="1154.8" y="839.0" width="661.1" height="616.0" fill="none" stroke="#000" stroke-width="2.1"/><g clip-path="url(#cp4)"><path d="M1816 903L1816 999L1740 1029L1700 1059L1680 1089L1640 1099L1600 1109L1560 1109L1520 1119L1490 1139L1470 1130L1480 1100L1500 1059L1520 1039L1560 1019L1590 1003L1610 979L1640 951L1680 935L1740 923Z" fill="#add8e6" fill-opacity="0.85" filter="url(#bl3)"/><g class="b"><circle cx="1183" cy="1241"/><circle cx="1772" cy="926"/><circle cx="1664" cy="1043"/><circle cx="1288" cy="1159"/><circle cx="1235" cy="1253"/><circle cx="1675" cy="980"/><circle cx="1233" cy="1177"/><circle cx="1176" cy="1178"/><circle cx="1648" cy="1242"/><circle cx="1616" cy="1057"/><circle cx="1696" cy="877"/><circle cx="1183" cy="1294"/><circle cx="1419" cy="1156"/><circle cx="1716" cy="1050"/><circle cx="1531" cy="1079"/><circle cx="1796" cy="908"/><circle cx="1761" cy="1325"/><circle cx="1452" cy="1238"/><circle cx="1477" cy="1155"/><circle cx="1639" cy="970"/><circle cx="1814" cy="1236"/><circle cx="1698" cy="944"/><circle cx="1709" cy="899"/><circle cx="1445" cy="1021"/><circle cx="1542" cy="1104"/><circle cx="1181" cy="1191"/><circle cx="1733" cy="853"/><circle cx="1581" cy="991"/><circle cx="1223" cy="1291"/><circle cx="1485" cy="1306"/><circle cx="1253" cy="1192"/><circle cx="1808" cy="1136"/><circle cx="1445" cy="1451"/><circle cx="1658" cy="1030"/><circle cx="1315" cy="1188"/><circle cx="1624" cy="938"/><circle cx="1682" cy="1023"/><circle cx="1386" cy="1307"/><circle cx="1610" cy="845"/><circle cx="1358" cy="1421"/><circle cx="1219" cy="1159"/><circle cx="1613" cy="1083"/><circle cx="1711" cy="997"/><circle cx="1773" cy="983"/><circle cx="1596" cy="987"/><circle cx="1758" cy="1133"/><circle cx="1160" cy="1334"/><circle cx="1411" cy="1100"/><circle cx="1686" cy="1363"/><circle cx="1726" cy="1001"/><circle cx="1714" cy="1120"/><circle cx="1713" cy="899"/><circle cx="1167" cy="1316"/><circle cx="1547" cy="1171"/><circle cx="1177" cy="1182"/><circle cx="1810" cy="901"/><circle cx="1272" cy="1256"/><circle cx="1397" cy="1319"/><circle cx="1655" cy="865"/><circle cx="1157" cy="1205"/><circle cx="1521" cy="1065"/><circle cx="1521" cy="968"/><circle cx="1745" cy="926"/><circle cx="1640" cy="959"/><circle cx="1513" cy="1245"/><circle cx="1660" cy="913"/><circle cx="1607" cy="1376"/><circle cx="1229" cy="1178"/><circle cx="1242" cy="1236"/><circle cx="1257" cy="1150"/><circle cx="1299" cy="1209"/><circle cx="1165" cy="1155"/><circle cx="1194" cy="1134"/><circle cx="1491" cy="1097"/><circle cx="1774" cy="913"/><circle cx="1804" cy="1026"/><circle cx="1601" cy="1086"/><circle cx="1637" cy="900"/><circle cx="1209" cy="1429"/><circle cx="1814" cy="1039"/><circle cx="1176" cy="1429"/><circle cx="1788" cy="1101"/><circle cx="1745" cy="896"/><circle cx="1748" cy="1103"/><circle cx="1628" cy="1016"/><circle cx="1670" cy="955"/><circle cx="1318" cy="1123"/><circle cx="1685" cy="916"/><circle cx="1585" cy="904"/><circle cx="1505" cy="1342"/><circle cx="1783" cy="1107"/><circle cx="1711" cy="957"/><circle cx="1616" cy="1006"/><circle cx="1757" cy="1212"/><circle cx="1787" cy="1098"/><circle cx="1327" cy="983"/><circle cx="1770" cy="863"/><circle cx="1793" cy="968"/><circle cx="1796" cy="943"/><circle cx="1239" cy="845"/><circle cx="1677" cy="1032"/><circle cx="1789" cy="892"/><circle cx="1610" cy="967"/><circle cx="1517" cy="1130"/><circle cx="1207" cy="1284"/><circle cx="1710" cy="1097"/><circle cx="1737" cy="914"/><circle cx="1689" cy="1046"/><circle cx="1708" cy="1132"/><circle cx="1648" cy="849"/><circle cx="1773" cy="862"/><circle cx="1492" cy="1148"/><circle cx="1616" cy="1056"/><circle cx="1623" cy="887"/><circle cx="1700" cy="1416"/><circle cx="1648" cy="1234"/><circle cx="1455" cy="1352"/><circle cx="1702" cy="879"/><circle cx="1374" cy="1276"/><circle cx="1258" cy="1142"/><circle cx="1176" cy="1198"/><circle cx="1745" cy="1113"/><circle cx="1581" cy="1027"/><circle cx="1249" cy="1163"/><circle cx="1693" cy="1208"/><circle cx="1183" cy="1270"/><circle cx="1564" cy="961"/><circle cx="1815" cy="1088"/><circle cx="1616" cy="1001"/><circle cx="1305" cy="1452"/><circle cx="1158" cy="1285"/><circle cx="1506" cy="1049"/><circle cx="1791" cy="897"/><circle cx="1158" cy="1307"/><circle cx="1628" cy="855"/><circle cx="1745" cy="931"/><circle cx="1274" cy="1298"/><circle cx="1223" cy="1190"/><circle cx="1777" cy="892"/><circle cx="1216" cy="1132"/><circle cx="1319" cy="1228"/><circle cx="1159" cy="1273"/><circle cx="1626" cy="871"/><circle cx="1790" cy="899"/><circle cx="1270" cy="1214"/><circle cx="1766" cy="1030"/><circle cx="1574" cy="1387"/><circle cx="1689" cy="849"/><circle cx="1207" cy="1224"/><circle cx="1807" cy="1037"/><circle cx="1404" cy="1200"/><circle cx="1309" cy="1226"/><circle cx="1515" cy="1241"/><circle cx="1182" cy="1171"/><circle cx="1503" cy="1117"/><circle cx="1660" cy="916"/><circle cx="1277" cy="1034"/><circle cx="1703" cy="1241"/><circle cx="1663" cy="920"/><circle cx="1183" cy="1166"/><circle cx="1719" cy="925"/><circle cx="1555" cy="1299"/><circle cx="1432" cy="1120"/><circle cx="1356" cy="1274"/><circle cx="1753" cy="1125"/><circle cx="1626" cy="1303"/><circle cx="1739" cy="876"/><circle cx="1715" cy="1109"/><circle cx="1686" cy="868"/><circle cx="1665" cy="902"/><circle cx="1705" cy="857"/><circle cx="1642" cy="1122"/><circle cx="1155" cy="1143"/><circle cx="1486" cy="1179"/><circle cx="1298" cy="1302"/><circle cx="1200" cy="1265"/><circle cx="1614" cy="940"/><circle cx="1214" cy="1162"/><circle cx="1807" cy="1112"/><circle cx="1316" cy="1388"/><circle cx="1694" cy="865"/><circle cx="1178" cy="1294"/><circle cx="1777" cy="1145"/><circle cx="1756" cy="1335"/><circle cx="1673" cy="961"/><circle cx="1231" cy="1263"/><circle cx="1195" cy="1315"/><circle cx="1262" cy="1256"/><circle cx="1612" cy="874"/><circle cx="1307" cy="1182"/><circle cx="1740" cy="920"/><circle cx="1733" cy="1119"/><circle cx="1609" cy="891"/><circle cx="1298" cy="1259"/><circle cx="1660" cy="1141"/><circle cx="1466" cy="1101"/><circle cx="1792" cy="886"/><circle cx="1371" cy="1136"/><circle cx="1201" cy="1184"/><circle cx="1705" cy="1091"/><circle cx="1801" cy="936"/><circle cx="1284" cy="1339"/><circle cx="1733" cy="850"/><circle cx="1645" cy="1243"/><circle cx="1227" cy="1200"/><circle cx="1185" cy="1213"/><circle cx="1671" cy="841"/><circle cx="1233" cy="1225"/><circle cx="1489" cy="1360"/><circle cx="1282" cy="1266"/><circle cx="1775" cy="862"/><circle cx="1213" cy="1270"/><circle cx="1723" cy="897"/><circle cx="1687" cy="974"/><circle cx="1165" cy="1269"/><circle cx="1794" cy="1137"/><circle cx="1422" cy="1133"/><circle cx="1319" cy="1210"/><circle cx="1279" cy="1197"/><circle cx="1167" cy="1257"/><circle cx="1724" cy="1115"/><circle cx="1804" cy="1039"/><circle cx="1529" cy="1049"/><circle cx="1734" cy="1144"/><circle cx="1169" cy="1317"/><circle cx="1236" cy="1272"/><circle cx="1678" cy="882"/><circle cx="1636" cy="1104"/><circle cx="1233" cy="1254"/><circle cx="1688" cy="1039"/><circle cx="1683" cy="840"/><circle cx="1642" cy="1305"/><circle cx="1299" cy="1239"/><circle cx="1626" cy="1273"/><circle cx="1161" cy="1317"/><circle cx="1797" cy="871"/><circle cx="1430" cy="1148"/><circle cx="1701" cy="913"/><circle cx="1661" cy="1327"/><circle cx="1769" cy="845"/><circle cx="1609" cy="945"/><circle cx="1796" cy="854"/><circle cx="1748" cy="859"/><circle cx="1712" cy="881"/><circle cx="1230" cy="1153"/><circle cx="1555" cy="1067"/><circle cx="1751" cy="951"/><circle cx="1222" cy="1387"/><circle cx="1512" cy="1191"/><circle cx="1615" cy="883"/><circle cx="1774" cy="1153"/><circle cx="1757" cy="879"/><circle cx="1201" cy="1223"/><circle cx="1184" cy="1133"/><circle cx="1731" cy="1107"/><circle cx="1315" cy="1151"/><circle cx="1564" cy="1041"/><circle cx="1706" cy="846"/><circle cx="1564" cy="1043"/><circle cx="1265" cy="1224"/><circle cx="1772" cy="1394"/><circle cx="1409" cy="1181"/><circle cx="1621" cy="843"/><circle cx="1775" cy="861"/><circle cx="1455" cy="1177"/><circle cx="1207" cy="1138"/><circle cx="1768" cy="1364"/><circle cx="1611" cy="974"/><circle cx="1277" cy="1195"/><circle cx="1808" cy="1017"/><circle cx="1696" cy="1436"/><circle cx="1800" cy="870"/><circle cx="1613" cy="846"/><circle cx="1694" cy="1031"/><circle cx="1509" cy="1035"/><circle cx="1715" cy="1076"/><circle cx="1250" cy="1240"/><circle cx="1287" cy="1251"/><circle cx="1191" cy="1298"/><circle cx="1661" cy="877"/><circle cx="1513" cy="1067"/><circle cx="1707" cy="861"/><circle cx="1694" cy="926"/><circle cx="1172" cy="1115"/><circle cx="1722" cy="897"/><circle cx="1515" cy="1037"/><circle cx="1336" cy="1194"/><circle cx="1281" cy="1162"/><circle cx="1699" cy="882"/><circle cx="1509" cy="1100"/><circle cx="1344" cy="1109"/><circle cx="1797" cy="1006"/><circle cx="1760" cy="1312"/><circle cx="1737" cy="1042"/><circle cx="1204" cy="1215"/><circle cx="1732" cy="881"/><circle cx="1677" cy="1028"/><circle cx="1532" cy="1028"/><circle cx="1814" cy="903"/><circle cx="1811" cy="1094"/><circle cx="1744" cy="898"/><circle cx="1757" cy="1050"/><circle cx="1421" cy="1194"/><circle cx="1796" cy="920"/><circle cx="1664" cy="891"/><circle cx="1213" cy="1380"/><circle cx="1657" cy="1078"/><circle cx="1773" cy="893"/><circle cx="1798" cy="1138"/><circle cx="1637" cy="922"/><circle cx="1722" cy="1116"/><circle cx="1265" cy="1183"/><circle cx="1216" cy="1146"/><circle cx="1217" cy="927"/><circle cx="1583" cy="1053"/><circle cx="1785" cy="1401"/><circle cx="1799" cy="1093"/><circle cx="1731" cy="1043"/><circle cx="1605" cy="1164"/><circle cx="1173" cy="1140"/><circle cx="1729" cy="858"/><circle cx="1618" cy="1006"/><circle cx="1484" cy="1419"/><circle cx="1543" cy="1026"/><circle cx="1580" cy="1031"/><circle cx="1277" cy="1309"/><circle cx="1742" cy="847"/><circle cx="1660" cy="1441"/><circle cx="1679" cy="1135"/><circle cx="1792" cy="1083"/><circle cx="1658" cy="864"/><circle cx="1163" cy="1049"/><circle cx="1793" cy="844"/><circle cx="1777" cy="1146"/><circle cx="1466" cy="1294"/><circle cx="1813" cy="897"/><circle cx="1625" cy="899"/><circle cx="1516" cy="1040"/><circle cx="1770" cy="876"/><circle cx="1234" cy="1208"/><circle cx="1201" cy="1200"/><circle cx="1199" cy="1279"/><circle cx="1225" cy="1266"/><circle cx="1166" cy="1184"/><circle cx="1735" cy="958"/><circle cx="1336" cy="1347"/><circle cx="1200" cy="1289"/><circle cx="1792" cy="1048"/><circle cx="1731" cy="850"/><circle cx="1717" cy="1137"/><circle cx="1733" cy="1116"/><circle cx="1618" cy="1002"/><circle cx="1744" cy="1149"/><circle cx="1771" cy="1028"/><circle cx="1816" cy="1063"/><circle cx="1611" cy="891"/><circle cx="1641" cy="1117"/><circle cx="1278" cy="1165"/><circle cx="1444" cy="1159"/><circle cx="1631" cy="845"/><circle cx="1814" cy="1128"/><circle cx="1573" cy="972"/><circle cx="1602" cy="883"/><circle cx="1773" cy="888"/><circle cx="1521" cy="1144"/><circle cx="1723" cy="1019"/><circle cx="1313" cy="1210"/><circle cx="1723" cy="1123"/><circle cx="1578" cy="1068"/><circle cx="1754" cy="856"/><circle cx="1786" cy="865"/><circle cx="1789" cy="1113"/><circle cx="1215" cy="1289"/><circle cx="1604" cy="922"/><circle cx="1748" cy="919"/><circle cx="1646" cy="885"/><circle cx="1544" cy="1189"/><circle cx="1534" cy="1091"/><circle cx="1751" cy="1114"/><circle cx="1771" cy="1104"/><circle cx="1310" cy="1011"/><circle cx="1790" cy="1072"/><circle cx="1339" cy="1088"/><circle cx="1672" cy="1014"/><circle cx="1375" cy="839"/><circle cx="1641" cy="1011"/><circle cx="1344" cy="1169"/><circle cx="1734" cy="1141"/><circle cx="1498" cy="1294"/><circle cx="1462" cy="1124"/><circle cx="1541" cy="953"/><circle cx="1222" cy="1239"/><circle cx="1673" cy="851"/><circle cx="1278" cy="1240"/><circle cx="1759" cy="968"/><circle cx="1619" cy="949"/><circle cx="1605" cy="1079"/><circle cx="1752" cy="876"/><circle cx="1286" cy="1090"/><circle cx="1539" cy="866"/><circle cx="1547" cy="1084"/><circle cx="1775" cy="889"/><circle cx="1525" cy="1109"/><circle cx="1181" cy="1254"/><circle cx="1620" cy="1000"/><circle cx="1714" cy="972"/><circle cx="1670" cy="959"/><circle cx="1204" cy="1266"/><circle cx="1785" cy="1110"/><circle cx="1728" cy="898"/><circle cx="1246" cy="1232"/><circle cx="1335" cy="1029"/><circle cx="1718" cy="1082"/><circle cx="1759" cy="852"/><circle cx="1310" cy="1177"/><circle cx="1814" cy="1076"/><circle cx="1625" cy="921"/><circle cx="1185" cy="1263"/><circle cx="1719" cy="1106"/><circle cx="1752" cy="871"/><circle cx="1717" cy="919"/><circle cx="1514" cy="1442"/><circle cx="1682" cy="1112"/><circle cx="1340" cy="1349"/><circle cx="1416" cy="1346"/><circle cx="1691" cy="1060"/><circle cx="1783" cy="1110"/><circle cx="1179" cy="1254"/><circle cx="1480" cy="1173"/><circle cx="1746" cy="850"/><circle cx="1678" cy="890"/><circle cx="1327" cy="1161"/><circle cx="1277" cy="1014"/><circle cx="1543" cy="1118"/><circle cx="1185" cy="1217"/><circle cx="1557" cy="1052"/><circle cx="1620" cy="862"/><circle cx="1685" cy="1009"/><circle cx="1475" cy="1170"/><circle cx="1814" cy="987"/><circle cx="1655" cy="929"/><circle cx="1265" cy="1159"/><circle cx="1209" cy="1252"/><circle cx="1518" cy="1150"/><circle cx="1484" cy="1188"/><circle cx="1772" cy="1120"/><circle cx="1652" cy="1355"/><circle cx="1799" cy="1123"/><circle cx="1795" cy="922"/><circle cx="1702" cy="924"/><circle cx="1577" cy="897"/><circle cx="1603" cy="965"/><circle cx="1612" cy="909"/><circle cx="1210" cy="1346"/><circle cx="1694" cy="872"/><circle cx="1319" cy="1245"/><circle cx="1601" cy="986"/><circle cx="1261" cy="1257"/><circle cx="1784" cy="863"/><circle cx="1351" cy="971"/><circle cx="1745" cy="991"/><circle cx="1162" cy="1193"/><circle cx="1674" cy="1031"/><circle cx="1172" cy="1212"/><circle cx="1623" cy="868"/><circle cx="1608" cy="869"/><circle cx="1320" cy="1176"/><circle cx="1490" cy="1405"/><circle cx="1678" cy="943"/><circle cx="1760" cy="1116"/><circle cx="1408" cy="1125"/><circle cx="1806" cy="923"/><circle cx="1451" cy="1454"/><circle cx="1634" cy="1118"/><circle cx="1770" cy="977"/><circle cx="1703" cy="1025"/><circle cx="1517" cy="1168"/><circle cx="1591" cy="1193"/><circle cx="1168" cy="1206"/><circle cx="1571" cy="1084"/><circle cx="1792" cy="947"/><circle cx="1227" cy="976"/><circle cx="1320" cy="1121"/><circle cx="1316" cy="1169"/><circle cx="1812" cy="901"/><circle cx="1243" cy="1139"/><circle cx="1625" cy="1150"/><circle cx="1231" cy="1257"/><circle cx="1745" cy="1266"/><circle cx="1582" cy="1071"/><circle cx="1647" cy="1045"/><circle cx="1571" cy="1078"/><circle cx="1685" cy="989"/><circle cx="1179" cy="1255"/><circle cx="1788" cy="872"/><circle cx="1696" cy="1138"/><circle cx="1781" cy="1058"/><circle cx="1439" cy="1129"/><circle cx="1165" cy="1222"/><circle cx="1478" cy="1191"/><circle cx="1691" cy="874"/><circle cx="1264" cy="1215"/><circle cx="1710" cy="882"/><circle cx="1232" cy="1243"/><circle cx="1678" cy="1075"/><circle cx="1424" cy="1075"/><circle cx="1736" cy="1099"/><circle cx="1361" cy="1020"/><circle cx="1422" cy="1087"/><circle cx="1229" cy="1213"/><circle cx="1537" cy="1037"/><circle cx="1288" cy="1162"/><circle cx="1510" cy="1039"/><circle cx="1651" cy="1188"/><circle cx="1721" cy="847"/><circle cx="1200" cy="1271"/><circle cx="1604" cy="962"/><circle cx="1504" cy="1067"/><circle cx="1702" cy="889"/><circle cx="1698" cy="1098"/><circle cx="1304" cy="1213"/><circle cx="1530" cy="1082"/><circle cx="1731" cy="874"/><circle cx="1363" cy="855"/><circle cx="1154" cy="1250"/><circle cx="1651" cy="1115"/><circle cx="1656" cy="953"/><circle cx="1662" cy="1104"/><circle cx="1752" cy="844"/><circle cx="1547" cy="1100"/><circle cx="1179" cy="1288"/><circle cx="1683" cy="852"/><circle cx="1523" cy="1042"/><circle cx="1728" cy="1410"/><circle cx="1814" cy="894"/><circle cx="1206" cy="1245"/><circle cx="1657" cy="952"/><circle cx="1627" cy="841"/><circle cx="1618" cy="1343"/><circle cx="1699" cy="864"/><circle cx="1311" cy="1168"/><circle cx="1253" cy="1202"/><circle cx="1314" cy="1161"/><circle cx="1761" cy="1062"/><circle cx="1711" cy="1125"/><circle cx="1159" cy="1300"/><circle cx="1189" cy="1276"/><circle cx="1231" cy="1142"/><circle cx="1304" cy="868"/><circle cx="1237" cy="1217"/><circle cx="1511" cy="1122"/><circle cx="1665" cy="1116"/><circle cx="1706" cy="1235"/><circle cx="1605" cy="1054"/><circle cx="1159" cy="1175"/><circle cx="1186" cy="1302"/><circle cx="1182" cy="1226"/><circle cx="1244" cy="1197"/><circle cx="1259" cy="1200"/><circle cx="1653" cy="1117"/><circle cx="1487" cy="1040"/><circle cx="1204" cy="1388"/><circle cx="1542" cy="1418"/><circle cx="1688" cy="1053"/><circle cx="1499" cy="1116"/><circle cx="1175" cy="1265"/><circle cx="1460" cy="1160"/><circle cx="1308" cy="1164"/><circle cx="1263" cy="1249"/><circle cx="1339" cy="1214"/><circle cx="1577" cy="1024"/><circle cx="1212" cy="1317"/><circle cx="1298" cy="1208"/><circle cx="1803" cy="889"/><circle cx="1815" cy="847"/><circle cx="1196" cy="1173"/><circle cx="1809" cy="961"/><circle cx="1708" cy="1009"/><circle cx="1296" cy="1154"/><circle cx="1687" cy="908"/><circle cx="1509" cy="1057"/><circle cx="1177" cy="1309"/><circle cx="1244" cy="1163"/><circle cx="1664" cy="918"/><circle cx="1609" cy="1219"/><circle cx="1340" cy="1336"/><circle cx="1700" cy="1058"/><circle cx="1247" cy="1384"/><circle cx="1602" cy="861"/><circle cx="1513" cy="1085"/><circle cx="1718" cy="1132"/><circle cx="1780" cy="857"/><circle cx="1784" cy="862"/><circle cx="1750" cy="1123"/><circle cx="1712" cy="859"/><circle cx="1763" cy="865"/><circle cx="1597" cy="1221"/><circle cx="1703" cy="1078"/><circle cx="1238" cy="1408"/><circle cx="1699" cy="998"/><circle cx="1723" cy="908"/><circle cx="1481" cy="1152"/><circle cx="1649" cy="919"/><circle cx="1565" cy="1065"/><circle cx="1686" cy="1118"/><circle cx="1767" cy="970"/><circle cx="1810" cy="1128"/><circle cx="1158" cy="1238"/><circle cx="1613" cy="1088"/><circle cx="1606" cy="859"/><circle cx="1243" cy="1220"/><circle cx="1505" cy="1118"/><circle cx="1536" cy="1027"/><circle cx="1209" cy="1289"/><circle cx="1689" cy="890"/><circle cx="1466" cy="1147"/><circle cx="1367" cy="1361"/><circle cx="1223" cy="1170"/><circle cx="1623" cy="982"/><circle cx="1764" cy="883"/><circle cx="1724" cy="961"/><circle cx="1215" cy="1218"/><circle cx="1195" cy="1172"/><circle cx="1633" cy="1251"/><circle cx="1325" cy="1122"/><circle cx="1560" cy="1069"/><circle cx="1803" cy="915"/><circle cx="1274" cy="1238"/><circle cx="1578" cy="1000"/><circle cx="1778" cy="967"/><circle cx="1404" cy="1193"/><circle cx="1758" cy="871"/><circle cx="1570" cy="1044"/><circle cx="1595" cy="1272"/><circle cx="1802" cy="1058"/><circle cx="1251" cy="1261"/><circle cx="1718" cy="897"/><circle cx="1787" cy="981"/><circle cx="1654" cy="987"/><circle cx="1769" cy="1068"/><circle cx="1655" cy="1026"/><circle cx="1462" cy="1395"/><circle cx="1237" cy="1243"/><circle cx="1191" cy="1138"/><circle cx="1601" cy="862"/><circle cx="1748" cy="969"/><circle cx="1284" cy="1240"/><circle cx="1570" cy="1080"/><circle cx="1799" cy="1047"/><circle cx="1765" cy="1175"/><circle cx="1572" cy="1106"/><circle cx="1757" cy="908"/><circle cx="1226" cy="902"/><circle cx="1805" cy="940"/><circle cx="1578" cy="1025"/><circle cx="1294" cy="1159"/><circle cx="1705" cy="928"/><circle cx="1677" cy="862"/><circle cx="1765" cy="1062"/><circle cx="1237" cy="1297"/><circle cx="1630" cy="849"/><circle cx="1255" cy="1149"/><circle cx="1356" cy="1186"/><circle cx="1758" cy="1031"/><circle cx="1286" cy="1251"/><circle cx="1239" cy="1196"/><circle cx="1666" cy="1130"/><circle cx="1390" cy="1195"/><circle cx="1603" cy="901"/><circle cx="1805" cy="1060"/><circle cx="1285" cy="1368"/><circle cx="1766" cy="1091"/><circle cx="1289" cy="1183"/><circle cx="1308" cy="1453"/><circle cx="1811" cy="895"/><circle cx="1641" cy="1028"/><circle cx="1164" cy="1245"/><circle cx="1565" cy="1100"/><circle cx="1375" cy="1303"/><circle cx="1754" cy="1128"/><circle cx="1816" cy="1039"/><circle cx="1655" cy="851"/><circle cx="1768" cy="945"/><circle cx="1704" cy="1038"/><circle cx="1651" cy="1421"/><circle cx="1697" cy="879"/><circle cx="1592" cy="1307"/><circle cx="1508" cy="1035"/><circle cx="1202" cy="1302"/><circle cx="1728" cy="1354"/><circle cx="1770" cy="981"/><circle cx="1181" cy="1298"/><circle cx="1717" cy="918"/><circle cx="1769" cy="1138"/><circle cx="1526" cy="1088"/><circle cx="1675" cy="972"/><circle cx="1796" cy="945"/><circle cx="1435" cy="1334"/><circle cx="1641" cy="840"/><circle cx="1544" cy="1453"/><circle cx="1779" cy="1378"/><circle cx="1180" cy="1270"/><circle cx="1180" cy="1153"/><circle cx="1703" cy="861"/><circle cx="1241" cy="1162"/><circle cx="1320" cy="1170"/><circle cx="1788" cy="1096"/><circle cx="1650" cy="991"/><circle cx="1216" cy="1203"/><circle cx="1610" cy="1091"/><circle cx="1533" cy="1451"/><circle cx="1572" cy="1074"/><circle cx="1515" cy="1090"/><circle cx="1208" cy="1134"/><circle cx="1647" cy="1029"/><circle cx="1249" cy="1260"/><circle cx="1662" cy="847"/><circle cx="1408" cy="1219"/><circle cx="1240" cy="1371"/><circle cx="1298" cy="1146"/><circle cx="1186" cy="1200"/><circle cx="1328" cy="1164"/><circle cx="1798" cy="901"/><circle cx="1712" cy="868"/><circle cx="1661" cy="1114"/><circle cx="1736" cy="960"/><circle cx="1745" cy="905"/><circle cx="1801" cy="846"/><circle cx="1592" cy="980"/><circle cx="1230" cy="1180"/><circle cx="1177" cy="1285"/><circle cx="1789" cy="998"/><circle cx="1499" cy="1025"/><circle cx="1389" cy="1091"/><circle cx="1251" cy="1240"/><circle cx="1207" cy="1241"/><circle cx="1754" cy="1094"/><circle cx="1303" cy="1241"/><circle cx="1567" cy="1288"/><circle cx="1192" cy="1302"/><circle cx="1656" cy="921"/><circle cx="1670" cy="1117"/><circle cx="1765" cy="996"/><circle cx="1443" cy="882"/><circle cx="1223" cy="1291"/><circle cx="1768" cy="1251"/><circle cx="1814" cy="1054"/><circle cx="1786" cy="889"/><circle cx="1750" cy="1056"/><circle cx="1536" cy="890"/><circle cx="1546" cy="1066"/><circle cx="1385" cy="960"/><circle cx="1415" cy="1431"/><circle cx="1325" cy="1154"/><circle cx="1313" cy="1419"/><circle cx="1705" cy="984"/><circle cx="1632" cy="888"/><circle cx="1180" cy="1161"/><circle cx="1173" cy="1185"/><circle cx="1183" cy="1270"/><circle cx="1647" cy="970"/><circle cx="1750" cy="1110"/><circle cx="1530" cy="1036"/><circle cx="1249" cy="1389"/><circle cx="1637" cy="911"/><circle cx="1760" cy="908"/><circle cx="1316" cy="1170"/><circle cx="1746" cy="1016"/><circle cx="1498" cy="1033"/><circle cx="1283" cy="1168"/><circle cx="1224" cy="1295"/><circle cx="1463" cy="1152"/><circle cx="1756" cy="892"/><circle cx="1767" cy="1134"/><circle cx="1781" cy="883"/><circle cx="1521" cy="1441"/><circle cx="1290" cy="1235"/><circle cx="1731" cy="894"/><circle cx="1326" cy="1205"/><circle cx="1649" cy="1023"/><circle cx="1693" cy="865"/><circle cx="1662" cy="1432"/><circle cx="1177" cy="1219"/><circle cx="1611" cy="1029"/><circle cx="1581" cy="1194"/><circle cx="1725" cy="859"/><circle cx="1731" cy="1030"/><circle cx="1597" cy="911"/><circle cx="1613" cy="893"/><circle cx="1294" cy="898"/><circle cx="1224" cy="905"/><circle cx="1638" cy="932"/><circle cx="1585" cy="1044"/><circle cx="1673" cy="1304"/><circle cx="1733" cy="1148"/><circle cx="1508" cy="1183"/><circle cx="1776" cy="878"/><circle cx="1278" cy="1003"/><circle cx="1421" cy="1139"/><circle cx="1362" cy="1234"/><circle cx="1752" cy="1000"/><circle cx="1660" cy="1095"/><circle cx="1761" cy="1429"/><circle cx="1694" cy="1224"/><circle cx="1291" cy="1179"/><circle cx="1697" cy="842"/><circle cx="1774" cy="888"/><circle cx="1181" cy="1196"/><circle cx="1554" cy="990"/><circle cx="1745" cy="908"/><circle cx="1538" cy="1397"/><circle cx="1237" cy="1277"/><circle cx="1535" cy="1204"/><circle cx="1173" cy="1217"/><circle cx="1515" cy="1117"/><circle cx="1415" cy="1115"/><circle cx="1533" cy="1431"/><circle cx="1666" cy="921"/><circle cx="1485" cy="1133"/><circle cx="1668" cy="891"/><circle cx="1807" cy="992"/><circle cx="1314" cy="1000"/><circle cx="1421" cy="1072"/><circle cx="1770" cy="847"/><circle cx="1659" cy="1081"/><circle cx="1718" cy="1425"/><circle cx="1448" cy="1112"/><circle cx="1598" cy="1097"/><circle cx="1179" cy="1257"/><circle cx="1234" cy="922"/><circle cx="1506" cy="1146"/><circle cx="1610" cy="900"/><circle cx="1525" cy="1453"/><circle cx="1751" cy="908"/><circle cx="1791" cy="1123"/><circle cx="1744" cy="1033"/><circle cx="1671" cy="967"/><circle cx="1660" cy="925"/><circle cx="1599" cy="1250"/><circle cx="1277" cy="1240"/><circle cx="1452" cy="1375"/><circle cx="1725" cy="914"/><circle cx="1195" cy="1398"/><circle cx="1738" cy="1331"/><circle cx="1509" cy="1037"/><circle cx="1767" cy="882"/><circle cx="1681" cy="872"/><circle cx="1752" cy="899"/><circle cx="1597" cy="1071"/><circle cx="1748" cy="884"/><circle cx="1510" cy="1053"/><circle cx="1604" cy="983"/><circle cx="1380" cy="1286"/><circle cx="1267" cy="1064"/><circle cx="1171" cy="1201"/><circle cx="1183" cy="1218"/><circle cx="1342" cy="1187"/><circle cx="1601" cy="1310"/><circle cx="1728" cy="1135"/><circle cx="1506" cy="1343"/><circle cx="1682" cy="947"/><circle cx="1267" cy="1169"/><circle cx="1498" cy="1048"/><circle cx="1642" cy="1044"/><circle cx="1770" cy="970"/><circle cx="1179" cy="1244"/><circle cx="1780" cy="1429"/><circle cx="1771" cy="1015"/><circle cx="1721" cy="979"/><circle cx="1569" cy="1017"/><circle cx="1620" cy="1042"/><circle cx="1238" cy="1201"/><circle cx="1788" cy="900"/><circle cx="1612" cy="960"/><circle cx="1570" cy="1417"/><circle cx="1694" cy="974"/><circle cx="1643" cy="1051"/><circle cx="1763" cy="1040"/><circle cx="1503" cy="1102"/><circle cx="1770" cy="1133"/><circle cx="1681" cy="847"/><circle cx="1784" cy="1091"/><circle cx="1384" cy="1005"/><circle cx="1246" cy="1164"/><circle cx="1634" cy="1162"/><circle cx="1266" cy="1194"/><circle cx="1222" cy="1209"/><circle cx="1603" cy="949"/><circle cx="1514" cy="1030"/><circle cx="1609" cy="1178"/><circle cx="1629" cy="933"/><circle cx="1176" cy="1301"/><circle cx="1507" cy="1061"/><circle cx="1257" cy="1196"/><circle cx="1683" cy="937"/><circle cx="1632" cy="925"/><circle cx="1185" cy="1319"/><circle cx="1715" cy="1046"/><circle cx="1612" cy="953"/><circle cx="1400" cy="1161"/><circle cx="1506" cy="1128"/><circle cx="1532" cy="1110"/><circle cx="1527" cy="1134"/><circle cx="1623" cy="862"/><circle cx="1779" cy="941"/><circle cx="1612" cy="1024"/><circle cx="1777" cy="841"/><circle cx="1517" cy="1116"/><circle cx="1671" cy="883"/><circle cx="1499" cy="1116"/><circle cx="1601" cy="1011"/><circle cx="1710" cy="1057"/><circle cx="1733" cy="845"/><circle cx="1810" cy="875"/><circle cx="1256" cy="1374"/><circle cx="1308" cy="1242"/><circle cx="1611" cy="1031"/><circle cx="1292" cy="1144"/><circle cx="1298" cy="1036"/><circle cx="1670" cy="942"/><circle cx="1693" cy="1012"/><circle cx="1172" cy="1227"/><circle cx="1777" cy="864"/><circle cx="1209" cy="1243"/><circle cx="1748" cy="1151"/><circle cx="1205" cy="1411"/><circle cx="1807" cy="1002"/><circle cx="1208" cy="1308"/><circle cx="1804" cy="1005"/><circle cx="1703" cy="1067"/><circle cx="1721" cy="1077"/><circle cx="1518" cy="972"/><circle cx="1274" cy="1270"/><circle cx="1166" cy="1213"/><circle cx="1709" cy="839"/><circle cx="1531" cy="911"/><circle cx="1436" cy="1379"/><circle cx="1241" cy="1210"/><circle cx="1205" cy="1256"/><circle cx="1675" cy="1115"/><circle cx="1571" cy="897"/><circle cx="1811" cy="1088"/><circle cx="1709" cy="1101"/><circle cx="1639" cy="919"/><circle cx="1253" cy="1260"/><circle cx="1587" cy="926"/><circle cx="1691" cy="895"/><circle cx="1537" cy="1043"/><circle cx="1397" cy="1052"/><circle cx="1785" cy="996"/><circle cx="1173" cy="1261"/><circle cx="1600" cy="1404"/><circle cx="1687" cy="850"/><circle cx="1282" cy="1019"/><circle cx="1666" cy="871"/><circle cx="1462" cy="1177"/><circle cx="1765" cy="1115"/><circle cx="1608" cy="1055"/><circle cx="1413" cy="1106"/><circle cx="1784" cy="1010"/><circle cx="1533" cy="1125"/><circle cx="1327" cy="1234"/><circle cx="1187" cy="1298"/><circle cx="1170" cy="1202"/><circle cx="1705" cy="987"/><circle cx="1768" cy="1145"/><circle cx="1605" cy="1141"/><circle cx="1684" cy="927"/><circle cx="1796" cy="1006"/><circle cx="1165" cy="1150"/><circle cx="1635" cy="942"/><circle cx="1796" cy="1150"/><circle cx="1807" cy="1411"/><circle cx="1171" cy="1330"/><circle cx="1213" cy="1182"/><circle cx="1371" cy="962"/><circle cx="1769" cy="918"/><circle cx="1724" cy="851"/><circle cx="1537" cy="1100"/><circle cx="1332" cy="1210"/><circle cx="1725" cy="909"/><circle cx="1473" cy="1160"/><circle cx="1280" cy="1237"/><circle cx="1786" cy="904"/><circle cx="1157" cy="1265"/><circle cx="1733" cy="1112"/><circle cx="1580" cy="1448"/><circle cx="1340" cy="1220"/><circle cx="1269" cy="1219"/><circle cx="1789" cy="1035"/><circle cx="1197" cy="1201"/><circle cx="1582" cy="1017"/><circle cx="1702" cy="957"/><circle cx="1531" cy="987"/><circle cx="1812" cy="1098"/><circle cx="1176" cy="1299"/><circle cx="1696" cy="981"/><circle cx="1430" cy="1139"/><circle cx="1804" cy="1042"/><circle cx="1744" cy="1053"/><circle cx="1689" cy="940"/><circle cx="1436" cy="1238"/><circle cx="1273" cy="1209"/><circle cx="1168" cy="1236"/><circle cx="1591" cy="1091"/><circle cx="1815" cy="901"/><circle cx="1601" cy="896"/><circle cx="1792" cy="1112"/><circle cx="1697" cy="932"/><circle cx="1711" cy="1271"/><circle cx="1786" cy="927"/><circle cx="1516" cy="1074"/><circle cx="1545" cy="1105"/><circle cx="1795" cy="1134"/><circle cx="1639" cy="876"/><circle cx="1232" cy="1239"/><circle cx="1173" cy="1169"/><circle cx="1703" cy="1047"/><circle cx="1332" cy="1193"/><circle cx="1607" cy="944"/><circle cx="1288" cy="1238"/><circle cx="1699" cy="862"/><circle cx="1609" cy="1056"/><circle cx="1679" cy="848"/><circle cx="1620" cy="1043"/><circle cx="1317" cy="1164"/><circle cx="1692" cy="896"/><circle cx="1609" cy="1262"/><circle cx="1703" cy="905"/><circle cx="1747" cy="913"/><circle cx="1217" cy="1138"/><circle cx="1790" cy="1087"/><circle cx="1436" cy="1332"/><circle cx="1600" cy="1097"/><circle cx="1278" cy="1276"/><circle cx="1503" cy="1061"/><circle cx="1404" cy="1450"/><circle cx="1638" cy="1025"/><circle cx="1174" cy="1267"/><circle cx="1629" cy="1449"/><circle cx="1375" cy="1135"/><circle cx="1527" cy="1080"/><circle cx="1721" cy="1088"/><circle cx="1732" cy="1372"/><circle cx="1695" cy="1128"/><circle cx="1531" cy="956"/><circle cx="1504" cy="1225"/><circle cx="1159" cy="1171"/><circle cx="1238" cy="1168"/><circle cx="1736" cy="1332"/><circle cx="1339" cy="1274"/><circle cx="1697" cy="858"/><circle cx="1681" cy="1231"/><circle cx="1720" cy="1090"/><circle cx="1658" cy="1371"/><circle cx="1492" cy="1113"/><circle cx="1393" cy="1424"/><circle cx="1534" cy="1101"/><circle cx="1374" cy="975"/><circle cx="1407" cy="1136"/><circle cx="1658" cy="862"/><circle cx="1512" cy="1450"/><circle cx="1640" cy="1056"/><circle cx="1715" cy="951"/><circle cx="1645" cy="1115"/><circle cx="1491" cy="1090"/><circle cx="1594" cy="1001"/><circle cx="1747" cy="941"/><circle cx="1581" cy="1043"/><circle cx="1689" cy="912"/><circle cx="1610" cy="1417"/><circle cx="1730" cy="884"/><circle cx="1726" cy="1005"/><circle cx="1810" cy="1073"/><circle cx="1813" cy="1120"/><circle cx="1616" cy="1053"/><circle cx="1701" cy="863"/><circle cx="1205" cy="1221"/><circle cx="1275" cy="1201"/><circle cx="1683" cy="970"/><circle cx="1723" cy="856"/><circle cx="1674" cy="853"/><circle cx="1202" cy="1280"/><circle cx="1291" cy="1175"/><circle cx="1467" cy="1439"/><circle cx="1583" cy="874"/><circle cx="1536" cy="1291"/><circle cx="1184" cy="1189"/><circle cx="1649" cy="892"/><circle cx="1796" cy="1089"/><circle cx="1692" cy="1036"/><circle cx="1576" cy="1076"/><circle cx="1585" cy="1065"/><circle cx="1733" cy="1084"/><circle cx="1552" cy="1284"/><circle cx="1612" cy="1081"/><circle cx="1628" cy="878"/><circle cx="1156" cy="1155"/><circle cx="1645" cy="855"/><circle cx="1707" cy="1088"/><circle cx="1674" cy="1017"/><circle cx="1224" cy="1305"/><circle cx="1723" cy="895"/><circle cx="1207" cy="1031"/><circle cx="1775" cy="930"/><circle cx="1554" cy="1106"/><circle cx="1206" cy="1227"/><circle cx="1520" cy="1441"/><circle cx="1471" cy="1108"/><circle cx="1765" cy="1107"/><circle cx="1156" cy="1333"/><circle cx="1629" cy="913"/><circle cx="1299" cy="1204"/><circle cx="1655" cy="924"/><circle cx="1674" cy="1062"/><circle cx="1766" cy="881"/><circle cx="1724" cy="1119"/><circle cx="1320" cy="1194"/><circle cx="1656" cy="906"/><circle cx="1612" cy="840"/><circle cx="1156" cy="1331"/><circle cx="1705" cy="938"/><circle cx="1726" cy="864"/><circle cx="1757" cy="1065"/><circle cx="1651" cy="1047"/><circle cx="1660" cy="905"/><circle cx="1275" cy="1223"/><circle cx="1198" cy="1194"/><circle cx="1469" cy="1182"/><circle cx="1328" cy="1163"/><circle cx="1304" cy="1174"/><circle cx="1722" cy="1101"/><circle cx="1656" cy="1042"/><circle cx="1185" cy="1031"/><circle cx="1725" cy="1078"/><circle cx="1495" cy="1102"/><circle cx="1583" cy="992"/><circle cx="1687" cy="948"/><circle cx="1783" cy="1272"/><circle cx="1634" cy="1003"/><circle cx="1705" cy="948"/><circle cx="1766" cy="942"/><circle cx="1768" cy="996"/><circle cx="1472" cy="1112"/><circle cx="1342" cy="1222"/><circle cx="1202" cy="1258"/><circle cx="1252" cy="1076"/><circle cx="1669" cy="1061"/><circle cx="1788" cy="862"/><circle cx="1790" cy="1087"/><circle cx="1348" cy="1435"/><circle cx="1580" cy="1076"/><circle cx="1487" cy="1117"/><circle cx="1763" cy="860"/><circle cx="1734" cy="1208"/><circle cx="1703" cy="1096"/><circle cx="1580" cy="1057"/><circle cx="1689" cy="1103"/><circle cx="1682" cy="865"/><circle cx="1813" cy="901"/><circle cx="1775" cy="1029"/><circle cx="1751" cy="884"/><circle cx="1697" cy="847"/><circle cx="1214" cy="1164"/><circle cx="1175" cy="1296"/><circle cx="1294" cy="1260"/><circle cx="1163" cy="1274"/><circle cx="1155" cy="1161"/><circle cx="1678" cy="1409"/><circle cx="1251" cy="1148"/><circle cx="1529" cy="1249"/><circle cx="1697" cy="845"/><circle cx="1678" cy="1058"/><circle cx="1645" cy="1064"/><circle cx="1743" cy="1406"/><circle cx="1259" cy="1219"/><circle cx="1491" cy="1115"/><circle cx="1630" cy="868"/><circle cx="1722" cy="1074"/><circle cx="1600" cy="1100"/><circle cx="1609" cy="1053"/><circle cx="1369" cy="1375"/><circle cx="1225" cy="1282"/><circle cx="1478" cy="1150"/><circle cx="1702" cy="989"/><circle cx="1625" cy="1048"/><circle cx="1277" cy="1302"/><circle cx="1675" cy="1239"/><circle cx="1537" cy="1044"/><circle cx="1188" cy="1278"/><circle cx="1784" cy="1120"/><circle cx="1345" cy="1183"/><circle cx="1301" cy="1144"/><circle cx="1763" cy="944"/><circle cx="1176" cy="1223"/><circle cx="1767" cy="1044"/><circle cx="1604" cy="1445"/><circle cx="1680" cy="1253"/><circle cx="1287" cy="1311"/><circle cx="1679" cy="927"/><circle cx="1812" cy="1112"/><circle cx="1172" cy="1227"/><circle cx="1808" cy="1149"/><circle cx="1730" cy="917"/><circle cx="1408" cy="1136"/><circle cx="1802" cy="1416"/><circle cx="1789" cy="906"/><circle cx="1300" cy="1152"/><circle cx="1643" cy="1116"/><circle cx="1742" cy="1125"/><circle cx="1748" cy="1086"/><circle cx="1702" cy="1022"/><circle cx="1691" cy="902"/><circle cx="1671" cy="1336"/><circle cx="1614" cy="1329"/><circle cx="1320" cy="1278"/><circle cx="1674" cy="1014"/><circle cx="1703" cy="894"/><circle cx="1643" cy="1406"/><circle cx="1166" cy="1263"/><circle cx="1195" cy="1175"/><circle cx="1671" cy="847"/><circle cx="1725" cy="1006"/><circle cx="1660" cy="965"/><circle cx="1666" cy="1117"/><circle cx="1506" cy="1115"/><circle cx="1660" cy="1017"/><circle cx="1497" cy="1067"/><circle cx="1651" cy="842"/><circle cx="1339" cy="1194"/><circle cx="1609" cy="886"/><circle cx="1591" cy="1128"/><circle cx="1572" cy="1083"/><circle cx="1223" cy="1274"/><circle cx="1276" cy="1335"/><circle cx="1453" cy="1174"/><circle cx="1672" cy="948"/><circle cx="1774" cy="1123"/><circle cx="1483" cy="1137"/><circle cx="1215" cy="1204"/><circle cx="1631" cy="1116"/><circle cx="1756" cy="851"/><circle cx="1741" cy="862"/><circle cx="1554" cy="882"/><circle cx="1185" cy="1222"/><circle cx="1706" cy="920"/><circle cx="1278" cy="1170"/><circle cx="1171" cy="1279"/><circle cx="1162" cy="1229"/><circle cx="1168" cy="1301"/><circle cx="1268" cy="1205"/><circle cx="1615" cy="1224"/><circle cx="1717" cy="916"/><circle cx="1445" cy="1116"/><circle cx="1171" cy="1204"/><circle cx="1750" cy="1268"/><circle cx="1287" cy="1134"/><circle cx="1745" cy="995"/><circle cx="1556" cy="892"/><circle cx="1701" cy="871"/><circle cx="1771" cy="1155"/><circle cx="1273" cy="1272"/><circle cx="1672" cy="865"/><circle cx="1183" cy="1137"/><circle cx="1724" cy="1144"/><circle cx="1416" cy="1163"/><circle cx="1585" cy="1263"/><circle cx="1666" cy="866"/><circle cx="1391" cy="1149"/><circle cx="1422" cy="1167"/><circle cx="1600" cy="1089"/><circle cx="1573" cy="1073"/><circle cx="1659" cy="1066"/><circle cx="1628" cy="1067"/><circle cx="1608" cy="860"/><circle cx="1254" cy="1149"/><circle cx="1282" cy="1142"/><circle cx="1770" cy="1129"/><circle cx="1748" cy="993"/><circle cx="1757" cy="1098"/><circle cx="1723" cy="1115"/><circle cx="1167" cy="1171"/><circle cx="1490" cy="1171"/><circle cx="1734" cy="890"/><circle cx="1624" cy="1100"/><circle cx="1568" cy="1027"/><circle cx="1810" cy="1148"/><circle cx="1752" cy="904"/><circle cx="1295" cy="1267"/><circle cx="1755" cy="1394"/><circle cx="1504" cy="1110"/><circle cx="1203" cy="1161"/><circle cx="1707" cy="1036"/><circle cx="1620" cy="1339"/><circle cx="1680" cy="1069"/><circle cx="1761" cy="1147"/><circle cx="1779" cy="916"/><circle cx="1793" cy="990"/><circle cx="1448" cy="1154"/><circle cx="1571" cy="1002"/><circle cx="1739" cy="960"/><circle cx="1653" cy="943"/><circle cx="1702" cy="926"/><circle cx="1227" cy="1428"/><circle cx="1200" cy="1279"/><circle cx="1646" cy="1348"/><circle cx="1753" cy="846"/><circle cx="1743" cy="959"/><circle cx="1593" cy="1017"/><circle cx="1662" cy="1018"/><circle cx="1276" cy="1260"/><circle cx="1616" cy="886"/><circle cx="1765" cy="1108"/><circle cx="1647" cy="850"/><circle cx="1687" cy="1097"/><circle cx="1723" cy="1010"/><circle cx="1773" cy="1010"/><circle cx="1183" cy="1299"/><circle cx="1771" cy="906"/><circle cx="1321" cy="1176"/><circle cx="1286" cy="1213"/><circle cx="1731" cy="1239"/><circle cx="1432" cy="1094"/><circle cx="1610" cy="1020"/><circle cx="1221" cy="1154"/><circle cx="1209" cy="1182"/><circle cx="1731" cy="1106"/><circle cx="1690" cy="971"/><circle cx="1230" cy="1443"/><circle cx="1619" cy="1324"/><circle cx="1729" cy="1340"/><circle cx="1242" cy="1149"/><circle cx="1794" cy="1006"/><circle cx="1687" cy="937"/><circle cx="1714" cy="990"/><circle cx="1721" cy="846"/><circle cx="1169" cy="1362"/><circle cx="1803" cy="902"/><circle cx="1601" cy="999"/><circle cx="1245" cy="1227"/><circle cx="1237" cy="1242"/><circle cx="1573" cy="1078"/><circle cx="1755" cy="875"/><circle cx="1762" cy="881"/><circle cx="1715" cy="1021"/><circle cx="1739" cy="1029"/><circle cx="1681" cy="892"/><circle cx="1568" cy="893"/><circle cx="1718" cy="853"/><circle cx="1233" cy="1162"/><circle cx="1292" cy="1174"/><circle cx="1695" cy="882"/><circle cx="1474" cy="1194"/><circle cx="1624" cy="911"/><circle cx="1792" cy="1106"/><circle cx="1724" cy="864"/><circle cx="1552" cy="1064"/><circle cx="1709" cy="980"/><circle cx="1630" cy="1021"/><circle cx="1162" cy="1203"/><circle cx="1626" cy="859"/><circle cx="1734" cy="1074"/><circle cx="1675" cy="890"/><circle cx="1681" cy="988"/><circle cx="1459" cy="1202"/><circle cx="1588" cy="1212"/><circle cx="1336" cy="1058"/><circle cx="1170" cy="1152"/><circle cx="1667" cy="876"/><circle cx="1722" cy="894"/><circle cx="1628" cy="877"/><circle cx="1238" cy="1284"/><circle cx="1262" cy="1162"/><circle cx="1474" cy="1391"/><circle cx="1186" cy="1275"/><circle cx="1803" cy="917"/><circle cx="1660" cy="997"/><circle cx="1547" cy="1233"/><circle cx="1252" cy="1152"/><circle cx="1604" cy="843"/><circle cx="1706" cy="1069"/><circle cx="1501" cy="1360"/><circle cx="1203" cy="1248"/><circle cx="1271" cy="1221"/><circle cx="1315" cy="1159"/><circle cx="1407" cy="1166"/><circle cx="1752" cy="1307"/><circle cx="1664" cy="1182"/><circle cx="1213" cy="1204"/><circle cx="1763" cy="1003"/><circle cx="1617" cy="1005"/><circle cx="1220" cy="1239"/><circle cx="1624" cy="878"/><circle cx="1497" cy="1118"/><circle cx="1616" cy="907"/><circle cx="1499" cy="1046"/><circle cx="1775" cy="1143"/><circle cx="1815" cy="931"/><circle cx="1185" cy="1310"/><circle cx="1813" cy="899"/><circle cx="1519" cy="1187"/><circle cx="1624" cy="1084"/><circle cx="1709" cy="860"/><circle cx="1174" cy="1033"/><circle cx="1435" cy="1354"/><circle cx="1815" cy="897"/><circle cx="1565" cy="1015"/><circle cx="1196" cy="1283"/><circle cx="1474" cy="1138"/><circle cx="1806" cy="938"/><circle cx="1686" cy="908"/><circle cx="1666" cy="872"/><circle cx="1738" cy="892"/><circle cx="1379" cy="1423"/><circle cx="1333" cy="1286"/><circle cx="1203" cy="1271"/><circle cx="1211" cy="1302"/><circle cx="1710" cy="1136"/><circle cx="1332" cy="1161"/><circle cx="1237" cy="1162"/><circle cx="1721" cy="1077"/><circle cx="1696" cy="1063"/><circle cx="1493" cy="1236"/><circle cx="1709" cy="940"/><circle cx="1573" cy="1389"/><circle cx="1532" cy="1055"/><circle cx="1216" cy="1274"/><circle cx="1375" cy="1429"/><circle cx="1518" cy="964"/><circle cx="1666" cy="994"/><circle cx="1790" cy="940"/><circle cx="1263" cy="1188"/><circle cx="1799" cy="1099"/><circle cx="1210" cy="866"/><circle cx="1554" cy="1069"/><circle cx="1338" cy="1434"/><circle cx="1179" cy="1374"/><circle cx="1801" cy="883"/><circle cx="1520" cy="1193"/><circle cx="1276" cy="1232"/><circle cx="1445" cy="1107"/><circle cx="1723" cy="1011"/><circle cx="1722" cy="916"/><circle cx="1409" cy="1396"/><circle cx="1315" cy="1212"/><circle cx="1165" cy="1241"/><circle cx="1494" cy="1016"/><circle cx="1590" cy="1058"/><circle cx="1572" cy="1055"/><circle cx="1159" cy="1287"/><circle cx="1233" cy="1198"/><circle cx="1629" cy="1135"/><circle cx="1756" cy="1129"/><circle cx="1567" cy="884"/><circle cx="1813" cy="1030"/><circle cx="1245" cy="1374"/><circle cx="1752" cy="1357"/><circle cx="1204" cy="1087"/><circle cx="1784" cy="945"/><circle cx="1614" cy="1088"/><circle cx="1752" cy="1356"/><circle cx="1723" cy="1368"/><circle cx="1591" cy="974"/><circle cx="1750" cy="1111"/><circle cx="1731" cy="1120"/><circle cx="1241" cy="1239"/><circle cx="1737" cy="907"/><circle cx="1438" cy="1398"/><circle cx="1211" cy="1159"/><circle cx="1170" cy="1252"/><circle cx="1209" cy="1176"/><circle cx="1601" cy="928"/><circle cx="1280" cy="1204"/><circle cx="1223" cy="1284"/><circle cx="1645" cy="960"/><circle cx="1412" cy="1176"/><circle cx="1778" cy="1441"/><circle cx="1194" cy="1394"/><circle cx="1636" cy="1054"/><circle cx="1705" cy="921"/><circle cx="1347" cy="1062"/><circle cx="1355" cy="1426"/><circle cx="1801" cy="854"/><circle cx="1796" cy="925"/><circle cx="1494" cy="1113"/><circle cx="1350" cy="1190"/><circle cx="1688" cy="1136"/><circle cx="1460" cy="1115"/><circle cx="1174" cy="1243"/><circle cx="1788" cy="903"/><circle cx="1510" cy="1124"/><circle cx="1802" cy="928"/><circle cx="1460" cy="1155"/><circle cx="1657" cy="1001"/><circle cx="1751" cy="959"/><circle cx="1636" cy="1425"/><circle cx="1606" cy="1115"/><circle cx="1278" cy="1180"/><circle cx="1744" cy="1123"/><circle cx="1641" cy="1087"/><circle cx="1232" cy="1237"/><circle cx="1513" cy="1029"/><circle cx="1768" cy="849"/><circle cx="1556" cy="1026"/><circle cx="1803" cy="1433"/><circle cx="1575" cy="920"/><circle cx="1525" cy="1109"/><circle cx="1226" cy="1226"/><circle cx="1340" cy="1126"/><circle cx="1480" cy="1128"/><circle cx="1318" cy="1267"/><circle cx="1254" cy="1067"/><circle cx="1257" cy="1314"/><circle cx="1621" cy="939"/><circle cx="1731" cy="844"/><circle cx="1808" cy="1082"/><circle cx="1798" cy="867"/><circle cx="1589" cy="1056"/><circle cx="1410" cy="1017"/><circle cx="1344" cy="1199"/><circle cx="1222" cy="1241"/><circle cx="1672" cy="958"/><circle cx="1617" cy="945"/><circle cx="1608" cy="870"/><circle cx="1217" cy="1154"/><circle cx="1701" cy="977"/><circle cx="1499" cy="1330"/><circle cx="1172" cy="1193"/><circle cx="1316" cy="1218"/><circle cx="1246" cy="1248"/><circle cx="1703" cy="919"/><circle cx="1811" cy="1001"/><circle cx="1766" cy="1035"/><circle cx="1773" cy="1122"/><circle cx="1424" cy="874"/><circle cx="1602" cy="1072"/><circle cx="1255" cy="1252"/><circle cx="1738" cy="928"/><circle cx="1267" cy="1430"/><circle cx="1219" cy="1295"/><circle cx="1742" cy="1094"/><circle cx="1309" cy="1202"/><circle cx="1172" cy="1211"/><circle cx="1795" cy="892"/><circle cx="1463" cy="1301"/><circle cx="1350" cy="1171"/><circle cx="1396" cy="1223"/><circle cx="1763" cy="989"/><circle cx="1214" cy="1298"/><circle cx="1209" cy="1224"/><circle cx="1590" cy="1159"/><circle cx="1304" cy="1185"/><circle cx="1173" cy="1278"/><circle cx="1697" cy="839"/><circle cx="1612" cy="919"/><circle cx="1726" cy="867"/><circle cx="1797" cy="1126"/><circle cx="1763" cy="1106"/><circle cx="1718" cy="864"/><circle cx="1327" cy="1305"/><circle cx="1656" cy="881"/><circle cx="1759" cy="847"/><circle cx="1738" cy="967"/><circle cx="1792" cy="839"/><circle cx="1480" cy="1286"/><circle cx="1250" cy="1164"/><circle cx="1535" cy="1085"/><circle cx="1218" cy="1124"/><circle cx="1749" cy="878"/><circle cx="1739" cy="998"/><circle cx="1737" cy="969"/><circle cx="1660" cy="898"/><circle cx="1560" cy="920"/><circle cx="1209" cy="1259"/><circle cx="1764" cy="896"/><circle cx="1745" cy="858"/><circle cx="1789" cy="1425"/><circle cx="1588" cy="1101"/><circle cx="1444" cy="1427"/><circle cx="1268" cy="1262"/><circle cx="1180" cy="1167"/><circle cx="1300" cy="1228"/><circle cx="1716" cy="1069"/><circle cx="1687" cy="1105"/><circle cx="1172" cy="1285"/><circle cx="1741" cy="1083"/><circle cx="1644" cy="1309"/><circle cx="1442" cy="1137"/><circle cx="1652" cy="1097"/><circle cx="1809" cy="982"/><circle cx="1641" cy="946"/><circle cx="1576" cy="985"/><circle cx="1500" cy="1049"/><circle cx="1630" cy="1085"/><circle cx="1727" cy="974"/><circle cx="1333" cy="1189"/><circle cx="1780" cy="858"/><circle cx="1627" cy="948"/><circle cx="1795" cy="1063"/><circle cx="1344" cy="1253"/><circle cx="1590" cy="1107"/><circle cx="1655" cy="881"/><circle cx="1590" cy="1096"/><circle cx="1179" cy="1208"/><circle cx="1619" cy="970"/><circle cx="1499" cy="1092"/><circle cx="1681" cy="933"/><circle cx="1717" cy="840"/><circle cx="1652" cy="1406"/><circle cx="1669" cy="1001"/><circle cx="1623" cy="1122"/><circle cx="1691" cy="935"/><circle cx="1801" cy="1114"/><circle cx="1754" cy="919"/><circle cx="1635" cy="1100"/><circle cx="1345" cy="1271"/><circle cx="1756" cy="928"/><circle cx="1213" cy="1042"/><circle cx="1196" cy="1286"/><circle cx="1709" cy="878"/><circle cx="1789" cy="877"/><circle cx="1683" cy="924"/><circle cx="1807" cy="861"/><circle cx="1588" cy="1060"/><circle cx="1272" cy="1166"/><circle cx="1493" cy="1114"/><circle cx="1322" cy="1216"/><circle cx="1643" cy="944"/><circle cx="1520" cy="1197"/><circle cx="1563" cy="1061"/><circle cx="1178" cy="1175"/><circle cx="1811" cy="1003"/><circle cx="1279" cy="1225"/><circle cx="1267" cy="1218"/><circle cx="1635" cy="839"/><circle cx="1167" cy="1283"/><circle cx="1706" cy="1026"/><circle cx="1278" cy="1400"/><circle cx="1757" cy="1001"/><circle cx="1328" cy="1210"/><circle cx="1653" cy="1120"/><circle cx="1679" cy="952"/><circle cx="1807" cy="951"/><circle cx="1766" cy="1131"/><circle cx="1307" cy="1107"/><circle cx="1304" cy="1179"/><circle cx="1704" cy="1361"/><circle cx="1734" cy="914"/><circle cx="1216" cy="1306"/><circle cx="1605" cy="991"/><circle cx="1171" cy="1255"/><circle cx="1259" cy="1193"/><circle cx="1755" cy="1303"/><circle cx="1488" cy="1034"/><circle cx="1240" cy="1154"/><circle cx="1168" cy="1253"/><circle cx="1620" cy="1066"/><circle cx="1322" cy="1175"/><circle cx="1793" cy="874"/><circle cx="1659" cy="872"/><circle cx="1201" cy="1172"/><circle cx="1804" cy="963"/><circle cx="1695" cy="871"/><circle cx="1630" cy="1446"/><circle cx="1578" cy="1029"/><circle cx="1699" cy="1240"/><circle cx="1684" cy="902"/><circle cx="1268" cy="1043"/><circle cx="1603" cy="979"/><circle cx="1760" cy="1343"/><circle cx="1662" cy="873"/><circle cx="1657" cy="986"/><circle cx="1300" cy="1204"/><circle cx="1665" cy="1002"/><circle cx="1742" cy="1420"/><circle cx="1316" cy="1452"/><circle cx="1546" cy="1076"/><circle cx="1174" cy="1233"/><circle cx="1345" cy="1218"/><circle cx="1520" cy="1117"/><circle cx="1717" cy="1167"/><circle cx="1756" cy="1030"/><circle cx="1614" cy="1064"/><circle cx="1158" cy="1150"/><circle cx="1601" cy="874"/><circle cx="1187" cy="1159"/><circle cx="1721" cy="897"/><circle cx="1348" cy="1182"/><circle cx="1186" cy="1136"/><circle cx="1295" cy="1411"/><circle cx="1793" cy="902"/><circle cx="1725" cy="853"/><circle cx="1772" cy="1014"/><circle cx="1455" cy="1172"/><circle cx="1448" cy="1161"/><circle cx="1432" cy="1347"/><circle cx="1575" cy="850"/><circle cx="1767" cy="900"/><circle cx="1625" cy="1122"/><circle cx="1748" cy="1021"/><circle cx="1628" cy="874"/><circle cx="1162" cy="1249"/><circle cx="1685" cy="1089"/><circle cx="1298" cy="1241"/><circle cx="1761" cy="852"/><circle cx="1172" cy="1258"/><circle cx="1241" cy="1276"/><circle cx="1266" cy="1105"/><circle cx="1305" cy="1147"/><circle cx="1201" cy="1152"/><circle cx="1763" cy="903"/><circle cx="1675" cy="1094"/><circle cx="1508" cy="1093"/><circle cx="1749" cy="853"/><circle cx="1187" cy="1316"/><circle cx="1701" cy="1121"/><circle cx="1256" cy="1289"/><circle cx="1159" cy="1224"/><circle cx="1650" cy="1128"/><circle cx="1637" cy="951"/><circle cx="1721" cy="1110"/><circle cx="1343" cy="1192"/><circle cx="1745" cy="1047"/><circle cx="1154" cy="1298"/><circle cx="1781" cy="877"/><circle cx="1772" cy="910"/><circle cx="1346" cy="1277"/><circle cx="1753" cy="996"/><circle cx="1738" cy="1105"/><circle cx="1540" cy="1293"/><circle cx="1284" cy="1162"/><circle cx="1643" cy="1054"/><circle cx="1788" cy="1213"/><circle cx="1265" cy="1171"/><circle cx="1562" cy="1387"/><circle cx="1455" cy="1156"/><circle cx="1788" cy="846"/><circle cx="1378" cy="1100"/><circle cx="1699" cy="857"/><circle cx="1725" cy="1129"/><circle cx="1715" cy="1320"/><circle cx="1741" cy="865"/><circle cx="1628" cy="878"/><circle cx="1321" cy="1339"/><circle cx="1214" cy="1259"/><circle cx="1238" cy="1187"/><circle cx="1316" cy="1094"/><circle cx="1426" cy="1208"/><circle cx="1729" cy="879"/><circle cx="1159" cy="1232"/><circle cx="1158" cy="1231"/><circle cx="1511" cy="1100"/><circle cx="1673" cy="1033"/><circle cx="1681" cy="859"/><circle cx="1641" cy="941"/><circle cx="1809" cy="878"/><circle cx="1623" cy="1041"/><circle cx="1183" cy="1027"/><circle cx="1496" cy="1103"/><circle cx="1751" cy="859"/><circle cx="1796" cy="892"/><circle cx="1313" cy="1191"/><circle cx="1252" cy="1246"/><circle cx="1757" cy="1102"/><circle cx="1770" cy="873"/><circle cx="1721" cy="848"/><circle cx="1160" cy="1217"/><circle cx="1205" cy="1182"/></g><g fill-opacity="0.55"><use href="#pl" x="1274" y="1150" fill="#ff1e00"/><use href="#pl" x="1537" y="1120" fill="#ff2600"/><use href="#pl" x="1418" y="1197" fill="#ff2300"/><use href="#pl" x="1384" y="1151" fill="#ff2200"/><use href="#pl" x="1703" y="1357" fill="#ff7200"/><use href="#pl" x="1410" y="1109" fill="#ff2b00"/><use href="#pl" x="1409" y="1115" fill="#ff0200"/><use href="#pl" x="1518" y="1022" fill="#ff3e00"/><use href="#pl" x="1636" y="1169" fill="#ff1400"/><use href="#pl" x="1409" y="1134" fill="#ff0700"/><use href="#pl" x="1662" y="1182" fill="#ff8700"/><use href="#pl" x="1386" y="1142" fill="#ff0500"/><use href="#pl" x="1313" y="1186" fill="#ff1e00"/><use href="#pl" x="1605" y="1020" fill="#ff3e00"/><use href="#pl" x="1403" y="1263" fill="#ff6c00"/><use href="#pl" x="1370" y="1144" fill="#ff0a00"/><use href="#pl" x="1287" y="1171" fill="#ff3e00"/><use href="#pl" x="1387" y="1199" fill="#ff0d00"/><use href="#pl" x="1384" y="1155" fill="#ff2000"/><use href="#pl" x="1479" y="1169" fill="#ff3f00"/><use href="#pl" x="1545" y="1148" fill="#ff4900"/><use href="#pl" x="1362" y="1227" fill="#ff8100"/><use href="#pl" x="1394" y="1108" fill="#ff4600"/><use href="#pl" x="1422" y="1080" fill="#ff0000"/><use href="#pl" x="1431" y="1106" fill="#ff3000"/><use href="#pl" x="1441" y="1110" fill="#ff0000"/><use href="#pl" x="1399" y="995" fill="#ff1c00"/><use href="#pl" x="1385" y="1189" fill="#ff1200"/><use href="#pl" x="1468" y="1227" fill="#ff2c00"/><use href="#pl" x="1332" y="1090" fill="#ff6a00"/><use href="#pl" x="1351" y="1137" fill="#ff0d00"/><use href="#pl" x="1426" y="1137" fill="#ff0900"/><use href="#pl" x="1429" y="1108" fill="#ff0000"/><use href="#pl" x="1412" y="1120" fill="#ff0d00"/><use href="#pl" x="1392" y="1071" fill="#ff2000"/><use href="#pl" x="1680" y="1012" fill="#ff5700"/><use href="#pl" x="1376" y="1136" fill="#ff0400"/><use href="#pl" x="1579" y="1067" fill="#ff6500"/><use href="#pl" x="1451" y="1247" fill="#ff4a00"/><use href="#pl" x="1388" y="1147" fill="#ff0000"/><use href="#pl" x="1641" y="1132" fill="#ff5b00"/><use href="#pl" x="1403" y="1070" fill="#ff1e00"/><use href="#pl" x="1382" y="1144" fill="#ff2600"/><use href="#pl" x="1617" y="1022" fill="#ff3900"/><use href="#pl" x="1501" y="1109" fill="#ff3100"/><use href="#pl" x="1396" y="1201" fill="#ff5700"/><use href="#pl" x="1326" y="1130" fill="#ff0000"/><use href="#pl" x="1390" y="1123" fill="#ff9e00"/><use href="#pl" x="1449" y="1113" fill="#ff0f00"/><use href="#pl" x="1310" y="1052" fill="#ff5700"/><use href="#pl" x="1382" y="1145" fill="#ff0000"/><use href="#pl" x="1335" y="1175" fill="#ff4000"/><use href="#pl" x="1658" y="1280" fill="#ff6f00"/><use href="#pl" x="1303" y="1157" fill="#ff1500"/><use href="#pl" x="1357" y="1125" fill="#ff0000"/><use href="#pl" x="1317" y="1149" fill="#ff3100"/><use href="#pl" x="1380" y="1253" fill="#ff5400"/><use href="#pl" x="1415" y="1081" fill="#ff0900"/><use href="#pl" x="1444" y="1104" fill="#ff0000"/><use href="#pl" x="1444" y="1192" fill="#ff6000"/><use href="#pl" x="1353" y="1144" fill="#ff0700"/><use href="#pl" x="1386" y="1115" fill="#ff0600"/><use href="#pl" x="1369" y="1136" fill="#ff0000"/><use href="#pl" x="1417" y="1119" fill="#ff1500"/><use href="#pl" x="1443" y="998" fill="#ff6100"/><use href="#pl" x="1585" y="1122" fill="#ff6f00"/><use href="#pl" x="1334" y="1238" fill="#ff7f00"/><use href="#pl" x="1377" y="1169" fill="#ff2000"/><use href="#pl" x="1325" y="1050" fill="#ff1900"/><use href="#pl" x="1442" y="1118" fill="#ff0000"/><use href="#pl" x="1295" y="1316" fill="#ff9e00"/><use href="#pl" x="1365" y="1125" fill="#ff0000"/><use href="#pl" x="1463" y="964" fill="#ff4500"/><use href="#pl" x="1419" y="1116" fill="#ff0000"/><use href="#pl" x="1553" y="1183" fill="#ff4400"/><use href="#pl" x="1337" y="1179" fill="#ff0000"/><use href="#pl" x="1320" y="1178" fill="#ff0e00"/><use href="#pl" x="1350" y="908" fill="#ff3d00"/><use href="#pl" x="1287" y="1141" fill="#ff2f00"/><use href="#pl" x="1318" y="1185" fill="#ff3800"/><use href="#pl" x="1426" y="1119" fill="#ff0000"/><use href="#pl" x="1433" y="1085" fill="#ff9200"/><use href="#pl" x="1672" y="963" fill="#ff6500"/><use href="#pl" x="1303" y="1188" fill="#ff1100"/><use href="#pl" x="1437" y="1123" fill="#ff0000"/><use href="#pl" x="1516" y="1086" fill="#ff6b00"/><use href="#pl" x="1410" y="1130" fill="#ff0100"/><use href="#pl" x="1235" y="1042" fill="#ff9e00"/><use href="#pl" x="1460" y="1116" fill="#ff0000"/><use href="#pl" x="1351" y="1201" fill="#ff3b00"/><use href="#pl" x="1303" y="1088" fill="#ff3e00"/><use href="#pl" x="1447" y="1128" fill="#ff0700"/><use href="#pl" x="1309" y="939" fill="#ff9e00"/><use href="#pl" x="1376" y="1217" fill="#ff4700"/><use href="#pl" x="1266" y="1079" fill="#ff5100"/><use href="#pl" x="1415" y="1107" fill="#ff0700"/><use href="#pl" x="1417" y="1147" fill="#ff9400"/><use href="#pl" x="1432" y="1077" fill="#ff5400"/><use href="#pl" x="1428" y="1110" fill="#ff0100"/><use href="#pl" x="1399" y="1110" fill="#ff0000"/><use href="#pl" x="1426" y="1090" fill="#ff2400"/><use href="#pl" x="1457" y="1082" fill="#ff0a00"/><use href="#pl" x="1348" y="1164" fill="#ff2d00"/><use href="#pl" x="1603" y="1135" fill="#ff2e00"/><use href="#pl" x="1382" y="999" fill="#ff5a00"/><use href="#pl" x="1438" y="1177" fill="#ff1200"/><use href="#pl" x="1360" y="1148" fill="#ff0000"/><use href="#pl" x="1357" y="1094" fill="#ff3f00"/><use href="#pl" x="1568" y="1234" fill="#ff5300"/><use href="#pl" x="1430" y="1078" fill="#ff1300"/><use href="#pl" x="1386" y="1186" fill="#ff3200"/><use href="#pl" x="1386" y="997" fill="#ff4900"/><use href="#pl" x="1291" y="1167" fill="#ff1e00"/><use href="#pl" x="1269" y="1179" fill="#ff0700"/><use href="#pl" x="1351" y="1150" fill="#ff2c00"/><use href="#pl" x="1382" y="1144" fill="#ff2300"/><use href="#pl" x="1394" y="1116" fill="#ff0200"/><use href="#pl" x="1269" y="1163" fill="#ff4100"/><use href="#pl" x="1300" y="1167" fill="#ff0200"/><use href="#pl" x="1483" y="1113" fill="#ff0000"/><use href="#pl" x="1323" y="1131" fill="#ff5300"/><use href="#pl" x="1453" y="1170" fill="#ff2a00"/><use href="#pl" x="1333" y="1185" fill="#ff2200"/><use href="#pl" x="1460" y="1074" fill="#ff2b00"/><use href="#pl" x="1305" y="1155" fill="#ff2f00"/><use href="#pl" x="1236" y="1232" fill="#ff2e00"/><use href="#pl" x="1623" y="1034" fill="#ff9400"/><use href="#pl" x="1419" y="1105" fill="#ff0500"/><use href="#pl" x="1365" y="1094" fill="#ff1c00"/><use href="#pl" x="1301" y="1133" fill="#ff3800"/><use href="#pl" x="1330" y="1140" fill="#ff1500"/><use href="#pl" x="1378" y="1200" fill="#ff3200"/><use href="#pl" x="1303" y="1084" fill="#ff3700"/><use href="#pl" x="1357" y="1169" fill="#ff0400"/><use href="#pl" x="1422" y="1109" fill="#ff0000"/><use href="#pl" x="1509" y="1099" fill="#ff3f00"/><use href="#pl" x="1388" y="1123" fill="#ff0000"/><use href="#pl" x="1440" y="1110" fill="#ff1c00"/><use href="#pl" x="1589" y="1211" fill="#ff5200"/><use href="#pl" x="1652" y="988" fill="#ff3100"/><use href="#pl" x="1686" y="1103" fill="#ff0900"/><use href="#pl" x="1382" y="1138" fill="#ff0000"/><use href="#pl" x="1362" y="1118" fill="#ff3f00"/><use href="#pl" x="1448" y="1069" fill="#ff3800"/><use href="#pl" x="1428" y="1138" fill="#ff0a00"/><use href="#pl" x="1419" y="1038" fill="#ff4300"/><use href="#pl" x="1386" y="1058" fill="#ff1000"/><use href="#pl" x="1352" y="1137" fill="#ff0000"/><use href="#pl" x="1450" y="1112" fill="#ff5d00"/><use href="#pl" x="1318" y="1143" fill="#ff9900"/><use href="#pl" x="1312" y="1149" fill="#ff1700"/><use href="#pl" x="1295" y="1182" fill="#ff2c00"/><use href="#pl" x="1411" y="1141" fill="#ff0000"/><use href="#pl" x="1450" y="1082" fill="#ff4d00"/><use href="#pl" x="1439" y="1112" fill="#ff0000"/><use href="#pl" x="1341" y="1118" fill="#ff6c00"/><use href="#pl" x="1358" y="1105" fill="#ff0000"/><use href="#pl" x="1318" y="1192" fill="#ff1a00"/><use href="#pl" x="1299" y="1039" fill="#ff8a00"/><use href="#pl" x="1323" y="1133" fill="#ff3900"/><use href="#pl" x="1413" y="1167" fill="#ff1900"/><use href="#pl" x="1374" y="1035" fill="#ff5200"/><use href="#pl" x="1287" y="1104" fill="#ff5d00"/><use href="#pl" x="1622" y="1170" fill="#ff9c00"/><use href="#pl" x="1487" y="1043" fill="#ff6300"/><use href="#pl" x="1285" y="1115" fill="#ff3d00"/><use href="#pl" x="1298" y="1144" fill="#ff2f00"/><use href="#pl" x="1573" y="970" fill="#ff5900"/><use href="#pl" x="1386" y="1131" fill="#ff0100"/><use href="#pl" x="1387" y="1137" fill="#ff0000"/><use href="#pl" x="1670" y="993" fill="#ff6100"/><use href="#pl" x="1655" y="1103" fill="#ff3700"/><use href="#pl" x="1381" y="1123" fill="#ff0000"/><use href="#pl" x="1569" y="1003" fill="#ff9000"/><use href="#pl" x="1424" y="1151" fill="#ff1f00"/><use href="#pl" x="1406" y="1117" fill="#ff0000"/><use href="#pl" x="1437" y="1067" fill="#ff2500"/><use href="#pl" x="1612" y="982" fill="#ff2d00"/><use href="#pl" x="1413" y="1120" fill="#ff0200"/><use href="#pl" x="1325" y="1155" fill="#ff2600"/><use href="#pl" x="1401" y="1118" fill="#ff3c00"/><use href="#pl" x="1348" y="1186" fill="#ff1a00"/><use href="#pl" x="1429" y="1155" fill="#ff4c00"/><use href="#pl" x="1412" y="1109" fill="#ff0000"/><use href="#pl" x="1441" y="1117" fill="#ff0000"/><use href="#pl" x="1458" y="1190" fill="#ff7e00"/><use href="#pl" x="1351" y="1141" fill="#ff0300"/><use href="#pl" x="1342" y="1164" fill="#ff1b00"/><use href="#pl" x="1289" y="1111" fill="#ff1900"/><use href="#pl" x="1380" y="1125" fill="#ff0400"/><use href="#pl" x="1378" y="1202" fill="#ff0000"/><use href="#pl" x="1345" y="1134" fill="#ff5900"/><use href="#pl" x="1335" y="1236" fill="#ff8600"/><use href="#pl" x="1362" y="1137" fill="#ff0000"/><use href="#pl" x="1341" y="1171" fill="#ff2200"/><use href="#pl" x="1403" y="1245" fill="#ff7500"/><use href="#pl" x="1364" y="1123" fill="#ff0000"/><use href="#pl" x="1553" y="1275" fill="#ff4400"/><use href="#pl" x="1368" y="1106" fill="#ff2a00"/><use href="#pl" x="1643" y="981" fill="#ff7300"/><use href="#pl" x="1383" y="1127" fill="#ff4800"/><use href="#pl" x="1343" y="1177" fill="#ff0f00"/><use href="#pl" x="1386" y="1144" fill="#ff0000"/><use href="#pl" x="1441" y="1088" fill="#ff5900"/><use href="#pl" x="1350" y="1079" fill="#ff3b00"/><use href="#pl" x="1386" y="1175" fill="#ff0900"/><use href="#pl" x="1595" y="1258" fill="#ff3400"/><use href="#pl" x="1366" y="1144" fill="#ff0000"/><use href="#pl" x="1431" y="1125" fill="#ff1300"/><use href="#pl" x="1454" y="1267" fill="#ff6500"/><use href="#pl" x="1353" y="1102" fill="#ff2e00"/><use href="#pl" x="1265" y="1174" fill="#ff4100"/><use href="#pl" x="1388" y="1082" fill="#ff2b00"/><use href="#pl" x="1325" y="1137" fill="#ff2800"/><use href="#pl" x="1322" y="1048" fill="#ff8100"/><use href="#pl" x="1443" y="1115" fill="#ff0000"/><use href="#pl" x="1401" y="1110" fill="#ff1400"/><use href="#pl" x="1306" y="1118" fill="#ff4700"/><use href="#pl" x="1520" y="1114" fill="#ff1900"/><use href="#pl" x="1350" y="1114" fill="#ff1400"/><use href="#pl" x="1403" y="1134" fill="#ff0000"/><use href="#pl" x="1446" y="1109" fill="#ff0200"/><use href="#pl" x="1386" y="1123" fill="#ff0400"/><use href="#pl" x="1639" y="1115" fill="#ff2d00"/><use href="#pl" x="1371" y="1124" fill="#ff0000"/><use href="#pl" x="1410" y="1104" fill="#ff0000"/><use href="#pl" x="1583" y="1224" fill="#ff3400"/><use href="#pl" x="1749" y="1134" fill="#ff5600"/><use href="#pl" x="1348" y="1142" fill="#ff0800"/><use href="#pl" x="1391" y="1113" fill="#ff0000"/><use href="#pl" x="1339" y="1164" fill="#ff2300"/><use href="#pl" x="1461" y="1134" fill="#ff5500"/><use href="#pl" x="1509" y="975" fill="#ff5b00"/><use href="#pl" x="1419" y="1134" fill="#ff1700"/><use href="#pl" x="1388" y="1095" fill="#ff7200"/><use href="#pl" x="1425" y="977" fill="#ff4500"/><use href="#pl" x="1337" y="1126" fill="#ff1300"/><use href="#pl" x="1616" y="1094" fill="#ff7400"/><use href="#pl" x="1363" y="1122" fill="#ff4800"/><use href="#pl" x="1658" y="1184" fill="#ff2f00"/><use href="#pl" x="1401" y="1132" fill="#ff0000"/><use href="#pl" x="1668" y="1104" fill="#ff5500"/><use href="#pl" x="1298" y="1156" fill="#ff9300"/><use href="#pl" x="1428" y="1124" fill="#ff0000"/><use href="#pl" x="1268" y="1159" fill="#ff1d00"/><use href="#pl" x="1520" y="1152" fill="#ff0f00"/><use href="#pl" x="1679" y="1112" fill="#ff5800"/><use href="#pl" x="1536" y="1215" fill="#ff5800"/><use href="#pl" x="1517" y="1150" fill="#ff1400"/><use href="#pl" x="1491" y="1269" fill="#ff4700"/><use href="#pl" x="1443" y="1118" fill="#ff0000"/><use href="#pl" x="1632" y="1366" fill="#ff8600"/><use href="#pl" x="1442" y="1130" fill="#ff0300"/><use href="#pl" x="1431" y="1129" fill="#ff0200"/><use href="#pl" x="1301" y="1046" fill="#ff5a00"/><use href="#pl" x="1420" y="1133" fill="#ff1300"/><use href="#pl" x="1433" y="1111" fill="#ff0000"/><use href="#pl" x="1542" y="1017" fill="#ff8b00"/><use href="#pl" x="1584" y="1021" fill="#ff3c00"/><use href="#pl" x="1348" y="1126" fill="#ff0300"/><use href="#pl" x="1371" y="1130" fill="#ff0000"/><use href="#pl" x="1480" y="1110" fill="#ff0000"/><use href="#pl" x="1397" y="1121" fill="#ff1000"/><use href="#pl" x="1426" y="1121" fill="#ff2b00"/><use href="#pl" x="1304" y="1182" fill="#ff7300"/><use href="#pl" x="1583" y="1259" fill="#ff6700"/><use href="#pl" x="1423" y="1154" fill="#ff2800"/><use href="#pl" x="1431" y="1120" fill="#ff0000"/><use href="#pl" x="1324" y="1095" fill="#ff0000"/><use href="#pl" x="1297" y="1106" fill="#ff1300"/><use href="#pl" x="1498" y="1103" fill="#ff4a00"/><use href="#pl" x="1311" y="1184" fill="#ff2200"/><use href="#pl" x="1347" y="1055" fill="#ff3400"/><use href="#pl" x="1436" y="1154" fill="#ff1100"/><use href="#pl" x="1498" y="1140" fill="#ff1300"/><use href="#pl" x="1633" y="1111" fill="#ff6900"/><use href="#pl" x="1559" y="1022" fill="#ff5800"/><use href="#pl" x="1349" y="1100" fill="#ff0000"/><use href="#pl" x="1273" y="1139" fill="#ff2600"/><use href="#pl" x="1339" y="1253" fill="#ff9a00"/><use href="#pl" x="1368" y="1142" fill="#ff0000"/><use href="#pl" x="1407" y="1176" fill="#ff0000"/><use href="#pl" x="1429" y="1110" fill="#ff1600"/><use href="#pl" x="1484" y="1215" fill="#ff5300"/><use href="#pl" x="1747" y="1009" fill="#ff7200"/><use href="#pl" x="1606" y="1005" fill="#ff9500"/><use href="#pl" x="1553" y="985" fill="#ff3300"/><use href="#pl" x="1357" y="1125" fill="#ff0000"/><use href="#pl" x="1393" y="1124" fill="#ff0000"/><use href="#pl" x="1405" y="1256" fill="#ff6500"/><use href="#pl" x="1350" y="1146" fill="#ff0000"/><use href="#pl" x="1510" y="1046" fill="#ff7b00"/><use href="#pl" x="1383" y="1111" fill="#ff0b00"/><use href="#pl" x="1683" y="1084" fill="#ff8500"/><use href="#pl" x="1468" y="1255" fill="#ff5600"/><use href="#pl" x="1379" y="1137" fill="#ff0700"/><use href="#pl" x="1542" y="1344" fill="#ff9e00"/><use href="#pl" x="1319" y="1039" fill="#ff8800"/><use href="#pl" x="1361" y="1117" fill="#ff3000"/><use href="#pl" x="1353" y="1162" fill="#ff4c00"/><use href="#pl" x="1294" y="943" fill="#ff5500"/><use href="#pl" x="1272" y="1064" fill="#ff3400"/><use href="#pl" x="1398" y="1146" fill="#ff2000"/><use href="#pl" x="1579" y="1135" fill="#ff8100"/><use href="#pl" x="1389" y="1111" fill="#ff0100"/><use href="#pl" x="1494" y="1104" fill="#ff2b00"/><use href="#pl" x="1439" y="1105" fill="#ff0000"/><use href="#pl" x="1444" y="1214" fill="#ff6300"/><use href="#pl" x="1393" y="1144" fill="#ff0c00"/><use href="#pl" x="1489" y="1253" fill="#ff6500"/><use href="#pl" x="1383" y="1138" fill="#ff0700"/><use href="#pl" x="1315" y="1153" fill="#ff2300"/><use href="#pl" x="1570" y="1138" fill="#ff6f00"/><use href="#pl" x="1408" y="1114" fill="#ff0000"/><use href="#pl" x="1282" y="1177" fill="#ff1200"/><use href="#pl" x="1635" y="1228" fill="#ff5f00"/><use href="#pl" x="1388" y="1147" fill="#ff0000"/><use href="#pl" x="1453" y="1375" fill="#ff6100"/><use href="#pl" x="1386" y="1135" fill="#ff0200"/><use href="#pl" x="1376" y="1123" fill="#ff0400"/><use href="#pl" x="1394" y="1126" fill="#ff0000"/><use href="#pl" x="1449" y="1109" fill="#ff2b00"/><use href="#pl" x="1353" y="1153" fill="#ff3500"/><use href="#pl" x="1396" y="1108" fill="#ff2100"/><use href="#pl" x="1414" y="1113" fill="#ff0000"/><use href="#pl" x="1363" y="1144" fill="#ff0400"/><use href="#pl" x="1486" y="1084" fill="#ff2100"/><use href="#pl" x="1365" y="1147" fill="#ff0000"/><use href="#pl" x="1325" y="1086" fill="#ff9e00"/><use href="#pl" x="1520" y="1151" fill="#ff5800"/><use href="#pl" x="1330" y="1172" fill="#ff1f00"/><use href="#pl" x="1454" y="1114" fill="#ff0000"/><use href="#pl" x="1313" y="1184" fill="#ff3800"/><use href="#pl" x="1495" y="1129" fill="#ff1c00"/><use href="#pl" x="1384" y="1134" fill="#ff0000"/><use href="#pl" x="1395" y="1237" fill="#ff5600"/><use href="#pl" x="1330" y="1145" fill="#ff1a00"/><use href="#pl" x="1439" y="1122" fill="#ff0000"/><use href="#pl" x="1479" y="1169" fill="#ff2000"/><use href="#pl" x="1510" y="1092" fill="#ff2200"/><use href="#pl" x="1366" y="1044" fill="#ff9e00"/><use href="#pl" x="1666" y="1355" fill="#ff4d00"/><use href="#pl" x="1408" y="1054" fill="#ff6300"/><use href="#pl" x="1668" y="1327" fill="#ff6200"/><use href="#pl" x="1359" y="1132" fill="#ff0000"/><use href="#pl" x="1531" y="1180" fill="#ff9e00"/><use href="#pl" x="1553" y="1089" fill="#ff7000"/><use href="#pl" x="1372" y="1202" fill="#ff6100"/><use href="#pl" x="1394" y="1127" fill="#ff0200"/><use href="#pl" x="1355" y="1085" fill="#ff2300"/><use href="#pl" x="1282" y="1129" fill="#ff1400"/><use href="#pl" x="1374" y="1113" fill="#ff0b00"/><use href="#pl" x="1410" y="1195" fill="#ff3000"/><use href="#pl" x="1497" y="1103" fill="#ff0e00"/><use href="#pl" x="1540" y="1102" fill="#ff1d00"/><use href="#pl" x="1312" y="1163" fill="#ff3000"/><use href="#pl" x="1404" y="1168" fill="#ff0900"/><use href="#pl" x="1348" y="1179" fill="#ff2100"/><use href="#pl" x="1428" y="1119" fill="#ff0400"/><use href="#pl" x="1372" y="1248" fill="#ff6000"/><use href="#pl" x="1263" y="1156" fill="#ff2400"/><use href="#pl" x="1514" y="1138" fill="#ff2200"/><use href="#pl" x="1653" y="1060" fill="#ff3a00"/><use href="#pl" x="1210" y="1066" fill="#ff7500"/><use href="#pl" x="1329" y="1122" fill="#ff3100"/><use href="#pl" x="1363" y="1176" fill="#ff0000"/><use href="#pl" x="1322" y="1151" fill="#ff3300"/><use href="#pl" x="1501" y="1377" fill="#ff6e00"/><use href="#pl" x="1308" y="1142" fill="#ff4900"/><use href="#pl" x="1448" y="1143" fill="#ff0000"/><use href="#pl" x="1334" y="1151" fill="#ff2b00"/><use href="#pl" x="1672" y="970" fill="#ff9e00"/><use href="#pl" x="1369" y="1097" fill="#ff2b00"/><use href="#pl" x="1419" y="1141" fill="#ff0000"/><use href="#pl" x="1502" y="1146" fill="#ff5000"/><use href="#pl" x="1328" y="1146" fill="#ff5300"/><use href="#pl" x="1359" y="1121" fill="#ff8500"/><use href="#pl" x="1482" y="1074" fill="#ff1b00"/><use href="#pl" x="1395" y="1021" fill="#ff8c00"/><use href="#pl" x="1440" y="1110" fill="#ff1200"/><use href="#pl" x="1406" y="1174" fill="#ff4200"/><use href="#pl" x="1728" y="1187" fill="#ff7e00"/><use href="#pl" x="1427" y="1096" fill="#ff2b00"/><use href="#pl" x="1359" y="1117" fill="#ff0e00"/><use href="#pl" x="1289" y="1138" fill="#ff2100"/><use href="#pl" x="1424" y="1109" fill="#ff0300"/><use href="#pl" x="1463" y="1116" fill="#ff4000"/><use href="#pl" x="1515" y="978" fill="#ff3e00"/><use href="#pl" x="1310" y="1230" fill="#ff3100"/><use href="#pl" x="1324" y="1176" fill="#ff0600"/><use href="#pl" x="1323" y="1181" fill="#ff4800"/><use href="#pl" x="1367" y="1128" fill="#ff0000"/><use href="#pl" x="1457" y="1115" fill="#ff0200"/><use href="#pl" x="1388" y="1142" fill="#ff0300"/><use href="#pl" x="1348" y="1079" fill="#ff2c00"/><use href="#pl" x="1409" y="1112" fill="#ff0800"/><use href="#pl" x="1388" y="1296" fill="#ff9e00"/><use href="#pl" x="1534" y="1133" fill="#ff5a00"/><use href="#pl" x="1454" y="1112" fill="#ff6700"/><use href="#pl" x="1412" y="1160" fill="#ff2100"/><use href="#pl" x="1376" y="1149" fill="#ff6000"/><use href="#pl" x="1488" y="965" fill="#ff5600"/><use href="#pl" x="1388" y="1141" fill="#ff2600"/><use href="#pl" x="1405" y="1122" fill="#ff1500"/><use href="#pl" x="1668" y="1145" fill="#ff5900"/><use href="#pl" x="1618" y="1055" fill="#ff3e00"/><use href="#pl" x="1356" y="1095" fill="#ff1300"/><use href="#pl" x="1468" y="1284" fill="#ff7800"/><use href="#pl" x="1297" y="1156" fill="#ff1000"/><use href="#pl" x="1464" y="1010" fill="#ff8a00"/><use href="#pl" x="1438" y="1043" fill="#ff6400"/><use href="#pl" x="1394" y="1112" fill="#ff0d00"/><use href="#pl" x="1366" y="1202" fill="#ff0000"/><use href="#pl" x="1423" y="1124" fill="#ff0000"/><use href="#pl" x="1451" y="1106" fill="#ff0e00"/><use href="#pl" x="1608" y="1007" fill="#ff9400"/><use href="#pl" x="1286" y="1174" fill="#ff1100"/><use href="#pl" x="1421" y="1169" fill="#ff2400"/><use href="#pl" x="1607" y="1097" fill="#ff1a00"/><use href="#pl" x="1342" y="1179" fill="#ff3300"/><use href="#pl" x="1313" y="1119" fill="#ff0000"/><use href="#pl" x="1366" y="1141" fill="#ff0000"/><use href="#pl" x="1399" y="1128" fill="#ff0000"/><use href="#pl" x="1363" y="1146" fill="#ff1d00"/><use href="#pl" x="1383" y="1098" fill="#ff5f00"/><use href="#pl" x="1479" y="1084" fill="#ff1300"/><use href="#pl" x="1404" y="1126" fill="#ff1500"/><use href="#pl" x="1438" y="1106" fill="#ff0e00"/><use href="#pl" x="1747" y="1374" fill="#ff4d00"/><use href="#pl" x="1645" y="1053" fill="#ff7500"/><use href="#pl" x="1373" y="1146" fill="#ff5100"/><use href="#pl" x="1337" y="1092" fill="#ff4000"/><use href="#pl" x="1424" y="1358" fill="#ff8a00"/><use href="#pl" x="1499" y="1157" fill="#ff0600"/><use href="#pl" x="1332" y="1192" fill="#ff6c00"/><use href="#pl" x="1570" y="1103" fill="#ff4000"/><use href="#pl" x="1372" y="1116" fill="#ff0200"/><use href="#pl" x="1417" y="1116" fill="#ff0000"/><use href="#pl" x="1365" y="1125" fill="#ff0000"/><use href="#pl" x="1444" y="1055" fill="#ff3f00"/><use href="#pl" x="1505" y="893" fill="#ff5600"/><use href="#pl" x="1406" y="1148" fill="#ff8300"/><use href="#pl" x="1439" y="1108" fill="#ff0000"/><use href="#pl" x="1450" y="1127" fill="#ff0800"/><use href="#pl" x="1443" y="1124" fill="#ff0500"/><use href="#pl" x="1358" y="1146" fill="#ff0b00"/><use href="#pl" x="1431" y="1113" fill="#ff0000"/><use href="#pl" x="1397" y="1103" fill="#ff2b00"/><use href="#pl" x="1372" y="1129" fill="#ff0200"/><use href="#pl" x="1444" y="1106" fill="#ff2f00"/><use href="#pl" x="1494" y="1126" fill="#ff5200"/><use href="#pl" x="1491" y="1150" fill="#ff3100"/><use href="#pl" x="1381" y="1192" fill="#ff2300"/><use href="#pl" x="1516" y="980" fill="#ff3200"/><use href="#pl" x="1474" y="1152" fill="#ff2c00"/><use href="#pl" x="1331" y="1180" fill="#ff6200"/><use href="#pl" x="1608" y="1014" fill="#ff8600"/><use href="#pl" x="1474" y="1098" fill="#ff4d00"/><use href="#pl" x="1447" y="1095" fill="#ff4500"/><use href="#pl" x="1447" y="1039" fill="#ff5800"/><use href="#pl" x="1436" y="1113" fill="#ff0a00"/><use href="#pl" x="1260" y="1146" fill="#ff4300"/><use href="#pl" x="1429" y="1128" fill="#ff0000"/><use href="#pl" x="1399" y="1141" fill="#ff0000"/><use href="#pl" x="1720" y="1102" fill="#ff7400"/><use href="#pl" x="1301" y="1022" fill="#ff7400"/><use href="#pl" x="1366" y="1134" fill="#ff0000"/><use href="#pl" x="1378" y="1138" fill="#ff0000"/><use href="#pl" x="1463" y="1113" fill="#ff0200"/><use href="#pl" x="1360" y="1120" fill="#ff0000"/><use href="#pl" x="1420" y="1124" fill="#ff0000"/><use href="#pl" x="1346" y="1179" fill="#ff1500"/><use href="#pl" x="1320" y="1098" fill="#ff1900"/><use href="#pl" x="1380" y="1120" fill="#ff0000"/><use href="#pl" x="1411" y="1133" fill="#ff0000"/><use href="#pl" x="1527" y="1180" fill="#ff8300"/><use href="#pl" x="1397" y="1188" fill="#ff2300"/><use href="#pl" x="1337" y="1182" fill="#ff2000"/><use href="#pl" x="1350" y="1147" fill="#ff3000"/><use href="#pl" x="1431" y="938" fill="#ff8900"/><use href="#pl" x="1275" y="1144" fill="#ff4100"/><use href="#pl" x="1412" y="1105" fill="#ff0600"/><use href="#pl" x="1337" y="1187" fill="#ff2400"/><use href="#pl" x="1474" y="969" fill="#ff5800"/><use href="#pl" x="1439" y="1075" fill="#ff0400"/><use href="#pl" x="1599" y="1140" fill="#ff1700"/><use href="#pl" x="1421" y="1135" fill="#ff0800"/><use href="#pl" x="1401" y="1135" fill="#ff0600"/><use href="#pl" x="1331" y="1183" fill="#ff0300"/><use href="#pl" x="1488" y="1004" fill="#ff4b00"/><use href="#pl" x="1388" y="1077" fill="#ff4100"/><use href="#pl" x="1318" y="1044" fill="#ff4f00"/><use href="#pl" x="1375" y="1132" fill="#ff3600"/><use href="#pl" x="1634" y="1072" fill="#ff6f00"/><use href="#pl" x="1352" y="1168" fill="#ff1500"/><use href="#pl" x="1426" y="1114" fill="#ff0000"/><use href="#pl" x="1417" y="1158" fill="#ff0800"/><use href="#pl" x="1414" y="1130" fill="#ff2a00"/><use href="#pl" x="1440" y="1218" fill="#ff6f00"/><use href="#pl" x="1394" y="1131" fill="#ff0000"/><use href="#pl" x="1467" y="1080" fill="#ff4100"/><use href="#pl" x="1384" y="1005" fill="#ff9100"/><use href="#pl" x="1404" y="1068" fill="#ff1700"/><use href="#pl" x="1351" y="1084" fill="#ff1600"/><use href="#pl" x="1435" y="1118" fill="#ff1600"/><use href="#pl" x="1651" y="1141" fill="#ff5c00"/><use href="#pl" x="1265" y="1153" fill="#ff2900"/><use href="#pl" x="1440" y="1122" fill="#ff0600"/><use href="#pl" x="1478" y="1125" fill="#ff2400"/><use href="#pl" x="1229" y="1390" fill="#ff5a00"/><use href="#pl" x="1426" y="1156" fill="#ff7200"/><use href="#pl" x="1364" y="1121" fill="#ff0600"/><use href="#pl" x="1330" y="1208" fill="#ff8900"/><use href="#pl" x="1476" y="1126" fill="#ff2900"/><use href="#pl" x="1478" y="1230" fill="#ff6d00"/><use href="#pl" x="1338" y="1085" fill="#ff6600"/><use href="#pl" x="1453" y="1171" fill="#ff1e00"/><use href="#pl" x="1341" y="1039" fill="#ff5200"/><use href="#pl" x="1311" y="1142" fill="#ff0e00"/><use href="#pl" x="1513" y="1127" fill="#ff3700"/><use href="#pl" x="1381" y="1090" fill="#ff0800"/><use href="#pl" x="1512" y="1133" fill="#ff2800"/><use href="#pl" x="1398" y="1291" fill="#ff9e00"/><use href="#pl" x="1421" y="1185" fill="#ff3c00"/><use href="#pl" x="1393" y="1099" fill="#ff0c00"/><use href="#pl" x="1382" y="1150" fill="#ff0b00"/><use href="#pl" x="1327" y="1142" fill="#ff2e00"/><use href="#pl" x="1382" y="1144" fill="#ff0000"/><use href="#pl" x="1324" y="1116" fill="#ff9e00"/><use href="#pl" x="1499" y="1249" fill="#ff2600"/><use href="#pl" x="1372" y="1140" fill="#ff1200"/><use href="#pl" x="1408" y="922" fill="#ff7f00"/><use href="#pl" x="1394" y="1114" fill="#ff0000"/><use href="#pl" x="1326" y="1196" fill="#ff0b00"/><use href="#pl" x="1437" y="1182" fill="#ff1e00"/><use href="#pl" x="1341" y="1178" fill="#ff2500"/><use href="#pl" x="1413" y="1123" fill="#ff0d00"/><use href="#pl" x="1454" y="1118" fill="#ff0200"/><use href="#pl" x="1395" y="1136" fill="#ff0000"/><use href="#pl" x="1419" y="1204" fill="#ff5100"/><use href="#pl" x="1409" y="1069" fill="#ff3b00"/><use href="#pl" x="1414" y="1129" fill="#ff0700"/><use href="#pl" x="1263" y="1156" fill="#ff4400"/><use href="#pl" x="1275" y="1150" fill="#ff3500"/><use href="#pl" x="1498" y="1027" fill="#ff5400"/><use href="#pl" x="1450" y="1163" fill="#ff1300"/><use href="#pl" x="1266" y="1179" fill="#ff1c00"/><use href="#pl" x="1389" y="1173" fill="#ff0200"/><use href="#pl" x="1329" y="1156" fill="#ff1c00"/><use href="#pl" x="1422" y="1109" fill="#ff0500"/><use href="#pl" x="1573" y="1119" fill="#ff5200"/><use href="#pl" x="1355" y="1139" fill="#ff0000"/><use href="#pl" x="1473" y="1082" fill="#ff0300"/><use href="#pl" x="1389" y="1136" fill="#ff0000"/><use href="#pl" x="1294" y="1153" fill="#ff1e00"/><use href="#pl" x="1395" y="1128" fill="#ff1500"/><use href="#pl" x="1404" y="1141" fill="#ff0000"/><use href="#pl" x="1698" y="1098" fill="#ff7c00"/><use href="#pl" x="1392" y="1144" fill="#ff0000"/><use href="#pl" x="1390" y="1112" fill="#ff0600"/><use href="#pl" x="1357" y="1140" fill="#ff0600"/><use href="#pl" x="1346" y="1151" fill="#ff0700"/><use href="#pl" x="1354" y="1129" fill="#ff0000"/><use href="#pl" x="1446" y="1123" fill="#ff0e00"/><use href="#pl" x="1604" y="1001" fill="#ff8b00"/><use href="#pl" x="1367" y="1134" fill="#ff0000"/><use href="#pl" x="1446" y="1077" fill="#ff4700"/><use href="#pl" x="1366" y="1144" fill="#ff0000"/><use href="#pl" x="1327" y="1088" fill="#ff1500"/><use href="#pl" x="1421" y="1110" fill="#ff0a00"/><use href="#pl" x="1383" y="1173" fill="#ff3500"/><use href="#pl" x="1401" y="1146" fill="#ff2400"/><use href="#pl" x="1367" y="1129" fill="#ff0000"/><use href="#pl" x="1462" y="1145" fill="#ff6200"/><use href="#pl" x="1363" y="1114" fill="#ff3b00"/><use href="#pl" x="1435" y="1132" fill="#ff0000"/><use href="#pl" x="1687" y="1140" fill="#ff6300"/><use href="#pl" x="1388" y="1147" fill="#ff0000"/><use href="#pl" x="1295" y="1168" fill="#ff3000"/><use href="#pl" x="1342" y="1137" fill="#ff2c00"/><use href="#pl" x="1415" y="1128" fill="#ff0000"/><use href="#pl" x="1601" y="1118" fill="#ff6400"/><use href="#pl" x="1420" y="1241" fill="#ff2e00"/><use href="#pl" x="1452" y="1125" fill="#ff0000"/><use href="#pl" x="1326" y="1103" fill="#ff1c00"/><use href="#pl" x="1565" y="1171" fill="#ff7200"/><use href="#pl" x="1294" y="1186" fill="#ff2400"/><use href="#pl" x="1436" y="1102" fill="#ff2a00"/><use href="#pl" x="1557" y="1005" fill="#ff6900"/><use href="#pl" x="1340" y="1177" fill="#ff0000"/><use href="#pl" x="1376" y="1147" fill="#ff0500"/><use href="#pl" x="1630" y="1016" fill="#ff2c00"/><use href="#pl" x="1358" y="1128" fill="#ff3000"/><use href="#pl" x="1450" y="1164" fill="#ff0000"/><use href="#pl" x="1639" y="1083" fill="#ff9200"/><use href="#pl" x="1437" y="1131" fill="#ff6a00"/><use href="#pl" x="1334" y="1165" fill="#ff0800"/><use href="#pl" x="1398" y="1121" fill="#ff1400"/><use href="#pl" x="1292" y="1112" fill="#ff6d00"/><use href="#pl" x="1428" y="1114" fill="#ff0f00"/><use href="#pl" x="1431" y="1209" fill="#ff0500"/><use href="#pl" x="1444" y="1108" fill="#ff0900"/><use href="#pl" x="1587" y="1055" fill="#ff2b00"/><use href="#pl" x="1368" y="1177" fill="#ff4500"/><use href="#pl" x="1526" y="1035" fill="#ff7200"/><use href="#pl" x="1439" y="1035" fill="#ff2f00"/><use href="#pl" x="1476" y="1100" fill="#ff1900"/><use href="#pl" x="1690" y="965" fill="#ff0900"/><use href="#pl" x="1412" y="1041" fill="#ff6000"/><use href="#pl" x="1758" y="1010" fill="#ff9e00"/><use href="#pl" x="1509" y="986" fill="#ff7500"/><use href="#pl" x="1343" y="1183" fill="#ff1400"/><use href="#pl" x="1410" y="1143" fill="#ff0000"/><use href="#pl" x="1596" y="1140" fill="#ff1b00"/><use href="#pl" x="1455" y="1124" fill="#ff0600"/><use href="#pl" x="1356" y="1144" fill="#ff0c00"/><use href="#pl" x="1490" y="990" fill="#ff6000"/><use href="#pl" x="1320" y="1156" fill="#ff6300"/><use href="#pl" x="1299" y="1160" fill="#ff2d00"/><use href="#pl" x="1299" y="1169" fill="#ff0500"/><use href="#pl" x="1313" y="1189" fill="#ff7200"/><use href="#pl" x="1645" y="1012" fill="#ff7200"/><use href="#pl" x="1411" y="1133" fill="#ff0000"/><use href="#pl" x="1386" y="1126" fill="#ff0000"/><use href="#pl" x="1340" y="1126" fill="#ff1900"/><use href="#pl" x="1566" y="1381" fill="#ff5900"/><use href="#pl" x="1392" y="1080" fill="#ff2a00"/><use href="#pl" x="1390" y="1110" fill="#ff1d00"/><use href="#pl" x="1353" y="1131" fill="#ff0300"/><use href="#pl" x="1416" y="1123" fill="#ff0000"/><use href="#pl" x="1390" y="1139" fill="#ff0800"/><use href="#pl" x="1312" y="1097" fill="#ff2f00"/><use href="#pl" x="1348" y="1127" fill="#ff0000"/><use href="#pl" x="1493" y="1135" fill="#ff0800"/><use href="#pl" x="1455" y="1119" fill="#ff5800"/><use href="#pl" x="1481" y="985" fill="#ff5000"/><use href="#pl" x="1455" y="1120" fill="#ff0900"/><use href="#pl" x="1440" y="1120" fill="#ff0400"/><use href="#pl" x="1444" y="1166" fill="#ff6700"/><use href="#pl" x="1413" y="1130" fill="#ff0500"/><use href="#pl" x="1402" y="1134" fill="#ff0400"/><use href="#pl" x="1314" y="1130" fill="#ff4c00"/><use href="#pl" x="1527" y="1199" fill="#ff0000"/><use href="#pl" x="1464" y="1246" fill="#ff4d00"/><use href="#pl" x="1348" y="1190" fill="#ff0800"/><use href="#pl" x="1516" y="1098" fill="#ff1900"/><use href="#pl" x="1449" y="1119" fill="#ff0000"/><use href="#pl" x="1439" y="1124" fill="#ff0800"/><use href="#pl" x="1346" y="1177" fill="#ff4700"/><use href="#pl" x="1392" y="1133" fill="#ff0600"/><use href="#pl" x="1277" y="1169" fill="#ff1a00"/><use href="#pl" x="1351" y="1038" fill="#ff3300"/><use href="#pl" x="1462" y="1167" fill="#ff1f00"/><use href="#pl" x="1721" y="1022" fill="#ff5a00"/><use href="#pl" x="1285" y="1136" fill="#ff3100"/><use href="#pl" x="1371" y="1129" fill="#ff0300"/><use href="#pl" x="1347" y="1137" fill="#ff0000"/><use href="#pl" x="1451" y="1223" fill="#ff9700"/><use href="#pl" x="1448" y="1119" fill="#ff0000"/><use href="#pl" x="1402" y="1146" fill="#ff0000"/><use href="#pl" x="1383" y="1127" fill="#ff0000"/><use href="#pl" x="1296" y="1110" fill="#ff2d00"/><use href="#pl" x="1423" y="1194" fill="#ff3d00"/><use href="#pl" x="1275" y="1189" fill="#ff4100"/><use href="#pl" x="1429" y="1138" fill="#ff0000"/><use href="#pl" x="1606" y="1066" fill="#ff2f00"/><use href="#pl" x="1442" y="1117" fill="#ff0500"/><use href="#pl" x="1439" y="1122" fill="#ff4e00"/><use href="#pl" x="1431" y="1103" fill="#ff0400"/><use href="#pl" x="1431" y="1018" fill="#ff5000"/><use href="#pl" x="1371" y="1133" fill="#ff0000"/><use href="#pl" x="1410" y="1129" fill="#ff3900"/><use href="#pl" x="1291" y="1081" fill="#ff3700"/><use href="#pl" x="1338" y="1138" fill="#ff2300"/><use href="#pl" x="1385" y="1116" fill="#ff0000"/><use href="#pl" x="1382" y="1124" fill="#ff0100"/><use href="#pl" x="1547" y="1306" fill="#ff9500"/><use href="#pl" x="1264" y="1106" fill="#ff0000"/><use href="#pl" x="1406" y="1090" fill="#ff4200"/><use href="#pl" x="1665" y="1179" fill="#ff6900"/><use href="#pl" x="1337" y="1120" fill="#ff1300"/><use href="#pl" x="1314" y="1162" fill="#ff0e00"/><use href="#pl" x="1328" y="1053" fill="#ff6a00"/><use href="#pl" x="1300" y="1205" fill="#ff5f00"/><use href="#pl" x="1404" y="1021" fill="#ff7300"/><use href="#pl" x="1383" y="1127" fill="#ff0a00"/><use href="#pl" x="1639" y="1203" fill="#ff6200"/><use href="#pl" x="1382" y="1114" fill="#ff0000"/><use href="#pl" x="1432" y="1129" fill="#ff2500"/><use href="#pl" x="1394" y="1113" fill="#ff0000"/><use href="#pl" x="1459" y="1341" fill="#ff6400"/><use href="#pl" x="1307" y="1185" fill="#ff1900"/><use href="#pl" x="1436" y="1128" fill="#ff0000"/><use href="#pl" x="1452" y="1086" fill="#ff0000"/><use href="#pl" x="1278" y="1174" fill="#ff1a00"/><use href="#pl" x="1387" y="1132" fill="#ff0000"/><use href="#pl" x="1417" y="1121" fill="#ff0000"/><use href="#pl" x="1475" y="1145" fill="#ff5000"/><use href="#pl" x="1572" y="1074" fill="#ff4100"/><use href="#pl" x="1388" y="1135" fill="#ff0700"/><use href="#pl" x="1414" y="1083" fill="#ff7e00"/><use href="#pl" x="1358" y="1143" fill="#ff0000"/><use href="#pl" x="1368" y="1019" fill="#ff3f00"/><use href="#pl" x="1299" y="1149" fill="#ff0000"/><use href="#pl" x="1500" y="1101" fill="#ff3300"/><use href="#pl" x="1405" y="1075" fill="#ff2400"/><use href="#pl" x="1580" y="1306" fill="#ff8600"/><use href="#pl" x="1355" y="1120" fill="#ff0f00"/><use href="#pl" x="1354" y="1121" fill="#ff0600"/><use href="#pl" x="1442" y="1106" fill="#ff3e00"/><use href="#pl" x="1518" y="1272" fill="#ff5000"/><use href="#pl" x="1757" y="1213" fill="#ff8100"/><use href="#pl" x="1312" y="1128" fill="#ff2300"/><use href="#pl" x="1326" y="1107" fill="#ff4900"/><use href="#pl" x="1374" y="1082" fill="#ff1f00"/><use href="#pl" x="1393" y="1104" fill="#ff5800"/><use href="#pl" x="1442" y="1215" fill="#ff3300"/><use href="#pl" x="1489" y="1150" fill="#ff3500"/><use href="#pl" x="1426" y="1014" fill="#ff5b00"/><use href="#pl" x="1436" y="1130" fill="#ff0000"/><use href="#pl" x="1504" y="1173" fill="#ff3000"/><use href="#pl" x="1568" y="1256" fill="#ff5600"/><use href="#pl" x="1423" y="1108" fill="#ff0000"/><use href="#pl" x="1315" y="1076" fill="#ff6a00"/><use href="#pl" x="1591" y="1168" fill="#ff5800"/><use href="#pl" x="1413" y="1160" fill="#ff4100"/><use href="#pl" x="1497" y="1099" fill="#ff5600"/><use href="#pl" x="1314" y="1188" fill="#ff0b00"/><use href="#pl" x="1349" y="1173" fill="#ff0000"/><use href="#pl" x="1650" y="1203" fill="#ff7b00"/><use href="#pl" x="1331" y="1117" fill="#ff7d00"/><use href="#pl" x="1437" y="1118" fill="#ff0000"/><use href="#pl" x="1321" y="1060" fill="#ff5700"/><use href="#pl" x="1399" y="1127" fill="#ff0300"/><use href="#pl" x="1298" y="1148" fill="#ff0000"/><use href="#pl" x="1445" y="1123" fill="#ff0700"/><use href="#pl" x="1451" y="1340" fill="#ff7300"/><use href="#pl" x="1350" y="1152" fill="#ff6600"/><use href="#pl" x="1418" y="1117" fill="#ff0600"/><use href="#pl" x="1440" y="1109" fill="#ff0000"/><use href="#pl" x="1419" y="1105" fill="#ff0500"/><use href="#pl" x="1478" y="1101" fill="#ff3a00"/><use href="#pl" x="1376" y="1014" fill="#ff8000"/><use href="#pl" x="1563" y="1035" fill="#ff8700"/><use href="#pl" x="1422" y="1093" fill="#ff2100"/><use href="#pl" x="1393" y="1082" fill="#ff2300"/><use href="#pl" x="1384" y="980" fill="#ff0000"/><use href="#pl" x="1348" y="1131" fill="#ff1400"/><use href="#pl" x="1500" y="1149" fill="#ff4100"/><use href="#pl" x="1373" y="1087" fill="#ff6700"/><use href="#pl" x="1630" y="1142" fill="#ff3100"/></g><g fill="#000" stroke="none"><rect x="1252.5" y="1363.6" width="3" height="31.3"/><rect x="1222.0" y="1391.9" width="33.5" height="3"/><path d="M1242.4 1363.6L1265.6 1363.6L1254.0 1343.1z"/><path d="M1222.0 1382.3L1222.0 1404.5L1198.7 1393.4z"/></g><g stroke="#b0b0b0" stroke-width="1.9" fill="none"><path d="M1199.78 839.0V1455.0"/><path d="M1353.55 839.0V1455.0"/><path d="M1507.33 839.0V1455.0"/><path d="M1661.10 839.0V1455.0"/><path d="M1154.8 898.24H1815.9"/><path d="M1154.8 1004.80H1815.9"/><path d="M1154.8 1111.36H1815.9"/><path d="M1154.8 1217.92H1815.9"/><path d="M1154.8 1324.48H1815.9"/><path d="M1154.8 1431.04H1815.9"/></g><use href="#pl" x="1661.1" y="1004.8" fill="#000"/></g><text x="1254.3" y="1338.5" font-size="28.5" text-anchor="middle">N</text><text x="1193.0" y="1400.9" font-size="28.5" text-anchor="middle">E</text><rect x="1166.2" y="850.9" width="276.5" height="107.7" rx="4" fill="#fff" fill-opacity="0.8" stroke="#cccccc" stroke-width="1.9"/><circle cx="1198.5" cy="871.4" r="8.4" fill="#add8e6" fill-opacity="0.3"/><use href="#pl" x="1198.5" y="905.1" fill="#000"/><use href="#pl" x="1198.5" y="939.2" fill="#f88080"/><g font-size="23.75" letter-spacing="-0.28"><text x="1239.4" y="877.2">all clones</text><text x="1239.4" y="911.5">Apophis nominal</text><text x="1239.4" y="945.8">Earth impactors</text></g><g stroke="#000" stroke-width="2"><path d="M1199.78 1455.0V1463.3"/><path d="M1353.55 1455.0V1463.3"/><path d="M1507.33 1455.0V1463.3"/><path d="M1661.10 1455.0V1463.3"/><path d="M1814.87 1455.0V1463.3"/><path d="M1154.8 898.24H1146.5"/><path d="M1154.8 1004.80H1146.5"/><path d="M1154.8 1111.36H1146.5"/><path d="M1154.8 1217.92H1146.5"/><path d="M1154.8 1324.48H1146.5"/><path d="M1154.8 1431.04H1146.5"/></g><text x="1200.18" y="1488.8" font-size="23.75" text-anchor="middle" letter-spacing="-0.2">90</text><text x="1353.95" y="1488.8" font-size="23.75" text-anchor="middle" letter-spacing="-0.2">60</text><text x="1507.73" y="1488.8" font-size="23.75" text-anchor="middle" letter-spacing="-0.2">30</text><text x="1661.50" y="1488.8" font-size="23.75" text-anchor="middle" letter-spacing="-0.2">0</text><text x="1815.27" y="1488.8" font-size="23.75" text-anchor="middle" letter-spacing="-0.2">−30</text><text x="1138.60" y="907.44" font-size="23.75" text-anchor="end" letter-spacing="-0.2">10</text><text x="1138.60" y="1014.00" font-size="23.75" text-anchor="end" letter-spacing="-0.2">0</text><text x="1138.60" y="1120.56" font-size="23.75" text-anchor="end" letter-spacing="-0.2">−10</text><text x="1138.60" y="1227.12" font-size="23.75" text-anchor="end" letter-spacing="-0.2">−20</text><text x="1138.60" y="1333.68" font-size="23.75" text-anchor="end" letter-spacing="-0.2">−30</text><text x="1138.60" y="1440.24" font-size="23.75" text-anchor="end" letter-spacing="-0.2">−40</text><text x="1485.3" y="1527.9" font-size="35.6" text-anchor="middle" letter-spacing="-0.17">Δ RA (arcsec)</text><text transform="translate(1072.0 1147.0) rotate(-90)" font-size="35.6" text-anchor="middle" letter-spacing="-0.24">Δ Dec (arcsec)</text><text x="1486.1" y="825.7" font-size="28.5" text-anchor="middle" letter-spacing="-0.22">2028 Jan 05</text><rect x="1857.6" y="839.0" width="30.6" height="616.0" fill="url(#cg)"/><rect x="1857.6" y="839.0" width="30.6" height="616.0" fill="url(#st)"/><rect x="1857.6" y="839.0" width="30.6" height="616.0" fill="none" stroke="#000" stroke-width="2"/><g stroke="#000" stroke-width="2"><path d="M1888.2 904.40H1896.5"/><path d="M1888.2 1035.50H1896.5"/><path d="M1888.2 1166.60H1896.5"/><path d="M1888.2 1297.70H1896.5"/><path d="M1888.2 1428.80H1896.5"/></g><text x="1905.1" y="914.00" font-size="23.75" letter-spacing="-0.2">0.9</text><text x="1905.1" y="1045.10" font-size="23.75" letter-spacing="-0.2">0.7</text><text x="1905.1" y="1176.20" font-size="23.75" letter-spacing="-0.2">0.5</text><text x="1905.1" y="1307.30" font-size="23.75" letter-spacing="-0.2">0.3</text><text x="1905.1" y="1438.40" font-size="23.75" letter-spacing="-0.2">0.1</text><text transform="translate(1968.7 1147.0) rotate(-90)" font-size="23.75" text-anchor="middle" letter-spacing="-0.3">Earth impactor Δ<tspan font-style="italic">v</tspan> (m/s)</text></svg></body></html>
